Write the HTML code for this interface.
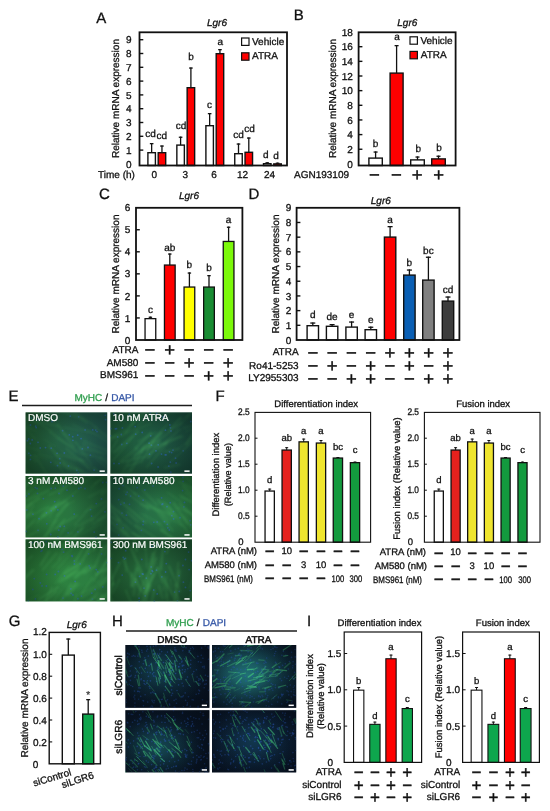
<!DOCTYPE html>
<html lang="en">
<head>
<meta charset="utf-8">
<title>Figure: Lgr6 expression and myogenic differentiation</title>
<style>
html, body { margin: 0; padding: 0; background: #ffffff; }
body { width: 550px; height: 811px; overflow: hidden; }
svg { display: block; font-family: "Liberation Sans", Arial, sans-serif; text-rendering: geometricPrecision; }
</style>
</head>
<body>
<svg width="550" height="811" viewBox="0 0 550 811">
<defs>
<filter id="blur" x="-5%" y="-5%" width="110%" height="110%"><feGaussianBlur stdDeviation="0.9"/></filter>
<filter id="blur3" x="-5%" y="-5%" width="110%" height="110%"><feGaussianBlur stdDeviation="0.65"/></filter>
<filter id="blur2" x="-5%" y="-5%" width="110%" height="110%"><feGaussianBlur stdDeviation="0.45"/></filter>
<linearGradient id="g1" x1="0" y1="0" x2="1" y2="0"><stop offset="0" stop-color="#236238"/><stop offset="1" stop-color="#235a52"/></linearGradient>
<radialGradient id="vg1" cx="0.55" cy="0.5" r="0.8"><stop offset="0.2" stop-color="#000" stop-opacity="0"/><stop offset="1" stop-color="#000c06" stop-opacity="0.5"/></radialGradient>
<clipPath id="cg1"><rect x="25.60" y="412.40" width="81.60" height="61.20"/></clipPath>
<linearGradient id="g2" x1="0" y1="0" x2="1" y2="0"><stop offset="0" stop-color="#205e3c"/><stop offset="1" stop-color="#1e5446"/></linearGradient>
<radialGradient id="vg2" cx="0.45" cy="0.5" r="0.8"><stop offset="0.2" stop-color="#000" stop-opacity="0"/><stop offset="1" stop-color="#000c06" stop-opacity="0.5"/></radialGradient>
<clipPath id="cg2"><rect x="110.40" y="412.40" width="81.60" height="61.20"/></clipPath>
<linearGradient id="g3" x1="0" y1="0" x2="1" y2="0"><stop offset="0" stop-color="#2b7c3c"/><stop offset="1" stop-color="#276e42"/></linearGradient>
<radialGradient id="vg3" cx="0.4" cy="0.6" r="0.8"><stop offset="0.2" stop-color="#000" stop-opacity="0"/><stop offset="1" stop-color="#000c06" stop-opacity="0.5"/></radialGradient>
<clipPath id="cg3"><rect x="25.60" y="476.00" width="81.60" height="61.40"/></clipPath>
<linearGradient id="g4" x1="0" y1="0" x2="1" y2="0"><stop offset="0" stop-color="#25684a"/><stop offset="1" stop-color="#297842"/></linearGradient>
<radialGradient id="vg4" cx="0.6" cy="0.6" r="0.8"><stop offset="0.2" stop-color="#000" stop-opacity="0"/><stop offset="1" stop-color="#000c06" stop-opacity="0.5"/></radialGradient>
<clipPath id="cg4"><rect x="110.40" y="476.00" width="81.60" height="61.40"/></clipPath>
<linearGradient id="g5" x1="0" y1="0" x2="1" y2="0"><stop offset="0" stop-color="#2f863e"/><stop offset="1" stop-color="#2b7c42"/></linearGradient>
<radialGradient id="vg5" cx="0.6" cy="0.6" r="0.8"><stop offset="0.2" stop-color="#000" stop-opacity="0"/><stop offset="1" stop-color="#000c06" stop-opacity="0.5"/></radialGradient>
<clipPath id="cg5"><rect x="25.60" y="539.40" width="81.60" height="62.00"/></clipPath>
<linearGradient id="g6" x1="0" y1="0" x2="1" y2="0"><stop offset="0" stop-color="#236436"/><stop offset="1" stop-color="#23603a"/></linearGradient>
<radialGradient id="vg6" cx="0.5" cy="0.55" r="0.8"><stop offset="0.2" stop-color="#000" stop-opacity="0"/><stop offset="1" stop-color="#000c06" stop-opacity="0.5"/></radialGradient>
<clipPath id="cg6"><rect x="110.40" y="539.40" width="81.60" height="62.00"/></clipPath>
<linearGradient id="g7" x1="0" y1="0" x2="1" y2="0"><stop offset="0" stop-color="#0b1a2e"/><stop offset="1" stop-color="#0a182c"/></linearGradient>
<radialGradient id="vg7" cx="0.45" cy="0.4" r="0.8"><stop offset="0.2" stop-color="#000" stop-opacity="0"/><stop offset="1" stop-color="#02060a" stop-opacity="0.6"/></radialGradient>
<clipPath id="cg7"><rect x="125.40" y="645.00" width="84.00" height="62.80"/></clipPath>
<radialGradient id="hg7" cx="0.42" cy="0.42" r="0.6"><stop offset="0" stop-color="#1c6a6c" stop-opacity="0.45"/><stop offset="1" stop-color="#1c6a6c" stop-opacity="0"/></radialGradient>
<linearGradient id="g8" x1="0" y1="0" x2="1" y2="0"><stop offset="0" stop-color="#0c1c32"/><stop offset="1" stop-color="#0b1a30"/></linearGradient>
<radialGradient id="vg8" cx="0.42" cy="0.45" r="0.8"><stop offset="0.2" stop-color="#000" stop-opacity="0"/><stop offset="1" stop-color="#02060a" stop-opacity="0.6"/></radialGradient>
<clipPath id="cg8"><rect x="212.00" y="645.00" width="84.20" height="62.80"/></clipPath>
<radialGradient id="hg8" cx="0.42" cy="0.48" r="0.7"><stop offset="0" stop-color="#268a88" stop-opacity="0.78"/><stop offset="1" stop-color="#268a88" stop-opacity="0"/></radialGradient>
<linearGradient id="g9" x1="0" y1="0" x2="1" y2="0"><stop offset="0" stop-color="#0b1a2e"/><stop offset="1" stop-color="#0a182c"/></linearGradient>
<radialGradient id="vg9" cx="0.4" cy="0.55" r="0.8"><stop offset="0.2" stop-color="#000" stop-opacity="0"/><stop offset="1" stop-color="#02060a" stop-opacity="0.6"/></radialGradient>
<clipPath id="cg9"><rect x="125.40" y="710.20" width="84.00" height="62.20"/></clipPath>
<radialGradient id="hg9" cx="0.38" cy="0.6" r="0.55"><stop offset="0" stop-color="#1f7472" stop-opacity="0.52"/><stop offset="1" stop-color="#1f7472" stop-opacity="0"/></radialGradient>
<linearGradient id="g10" x1="0" y1="0" x2="1" y2="0"><stop offset="0" stop-color="#0b1a30"/><stop offset="1" stop-color="#0a182e"/></linearGradient>
<radialGradient id="vg10" cx="0.5" cy="0.5" r="0.8"><stop offset="0.2" stop-color="#000" stop-opacity="0"/><stop offset="1" stop-color="#02060a" stop-opacity="0.6"/></radialGradient>
<clipPath id="cg10"><rect x="212.00" y="710.20" width="84.20" height="62.20"/></clipPath>
<radialGradient id="hg10" cx="0.5" cy="0.5" r="0.6"><stop offset="0" stop-color="#1a5a74" stop-opacity="0.45"/><stop offset="1" stop-color="#1a5a74" stop-opacity="0"/></radialGradient>
</defs>
<rect x="0" y="0" width="550" height="811" fill="#ffffff"/>
<text x="96.30" y="22.80" font-size="15" text-anchor="start" fill="#111111" stroke="#111111" stroke-width="0.3">A</text>
<text x="217.00" y="25.60" font-size="10" text-anchor="middle" fill="#111111" font-style="italic" stroke="#111111" stroke-width="0.3">Lgr6</text>
<line x1="151.65" y1="143.00" x2="151.65" y2="153.00" stroke="#111111" stroke-width="1.3"/>
<line x1="149.85" y1="143.65" x2="153.45" y2="143.65" stroke="#111111" stroke-width="1.3"/>
<rect x="147.90" y="152.70" width="7.50" height="12.80" fill="#fff" stroke="#111111" stroke-width="1.4"/>
<line x1="161.95" y1="145.40" x2="161.95" y2="153.00" stroke="#111111" stroke-width="1.3"/>
<line x1="160.15" y1="146.05" x2="163.75" y2="146.05" stroke="#111111" stroke-width="1.3"/>
<rect x="158.20" y="152.70" width="7.50" height="12.80" fill="#fe0000" stroke="#111111" stroke-width="1.4"/>
<line x1="180.60" y1="136.60" x2="180.60" y2="145.40" stroke="#111111" stroke-width="1.3"/>
<line x1="178.80" y1="137.25" x2="182.40" y2="137.25" stroke="#111111" stroke-width="1.3"/>
<rect x="176.85" y="145.10" width="7.50" height="20.40" fill="#fff" stroke="#111111" stroke-width="1.4"/>
<line x1="190.90" y1="67.40" x2="190.90" y2="88.00" stroke="#111111" stroke-width="1.3"/>
<line x1="189.10" y1="68.05" x2="192.70" y2="68.05" stroke="#111111" stroke-width="1.3"/>
<rect x="187.15" y="87.70" width="7.50" height="77.80" fill="#fe0000" stroke="#111111" stroke-width="1.4"/>
<line x1="209.65" y1="113.00" x2="209.65" y2="126.00" stroke="#111111" stroke-width="1.3"/>
<line x1="207.85" y1="113.65" x2="211.45" y2="113.65" stroke="#111111" stroke-width="1.3"/>
<rect x="205.90" y="125.70" width="7.50" height="39.80" fill="#fff" stroke="#111111" stroke-width="1.4"/>
<line x1="219.95" y1="49.00" x2="219.95" y2="54.00" stroke="#111111" stroke-width="1.3"/>
<line x1="218.15" y1="49.65" x2="221.75" y2="49.65" stroke="#111111" stroke-width="1.3"/>
<rect x="216.20" y="53.70" width="7.50" height="111.80" fill="#fe0000" stroke="#111111" stroke-width="1.4"/>
<line x1="238.50" y1="143.40" x2="238.50" y2="154.00" stroke="#111111" stroke-width="1.3"/>
<line x1="236.70" y1="144.05" x2="240.30" y2="144.05" stroke="#111111" stroke-width="1.3"/>
<rect x="234.75" y="153.70" width="7.50" height="11.80" fill="#fff" stroke="#111111" stroke-width="1.4"/>
<line x1="248.80" y1="137.40" x2="248.80" y2="152.60" stroke="#111111" stroke-width="1.3"/>
<line x1="247.00" y1="138.05" x2="250.60" y2="138.05" stroke="#111111" stroke-width="1.3"/>
<rect x="245.05" y="152.30" width="7.50" height="13.20" fill="#fe0000" stroke="#111111" stroke-width="1.4"/>
<line x1="267.25" y1="162.20" x2="267.25" y2="164.00" stroke="#111111" stroke-width="1.3"/>
<line x1="265.45" y1="162.85" x2="269.05" y2="162.85" stroke="#111111" stroke-width="1.3"/>
<rect x="263.50" y="163.70" width="7.50" height="1.80" fill="#fff" stroke="#111111" stroke-width="1.4"/>
<line x1="277.55" y1="162.60" x2="277.55" y2="164.20" stroke="#111111" stroke-width="1.3"/>
<line x1="275.75" y1="163.25" x2="279.35" y2="163.25" stroke="#111111" stroke-width="1.3"/>
<rect x="273.80" y="163.90" width="7.50" height="1.60" fill="#fe0000" stroke="#111111" stroke-width="1.4"/>
<rect x="139.50" y="32.30" width="147.50" height="133.20" fill="none" stroke="#111111" stroke-width="1.8"/>
<line x1="139.50" y1="150.10" x2="143.30" y2="150.10" stroke="#111111" stroke-width="1.4"/>
<text x="131.60" y="153.70" font-size="10" text-anchor="end" fill="#111111" stroke="#111111" stroke-width="0.3">1</text>
<line x1="139.50" y1="136.30" x2="143.30" y2="136.30" stroke="#111111" stroke-width="1.4"/>
<text x="131.60" y="139.90" font-size="10" text-anchor="end" fill="#111111" stroke="#111111" stroke-width="0.3">2</text>
<line x1="139.50" y1="122.50" x2="143.30" y2="122.50" stroke="#111111" stroke-width="1.4"/>
<text x="131.60" y="126.10" font-size="10" text-anchor="end" fill="#111111" stroke="#111111" stroke-width="0.3">3</text>
<line x1="139.50" y1="108.70" x2="143.30" y2="108.70" stroke="#111111" stroke-width="1.4"/>
<text x="131.60" y="112.30" font-size="10" text-anchor="end" fill="#111111" stroke="#111111" stroke-width="0.3">4</text>
<line x1="139.50" y1="94.90" x2="143.30" y2="94.90" stroke="#111111" stroke-width="1.4"/>
<text x="131.60" y="98.50" font-size="10" text-anchor="end" fill="#111111" stroke="#111111" stroke-width="0.3">5</text>
<line x1="139.50" y1="81.10" x2="143.30" y2="81.10" stroke="#111111" stroke-width="1.4"/>
<text x="131.60" y="84.70" font-size="10" text-anchor="end" fill="#111111" stroke="#111111" stroke-width="0.3">6</text>
<line x1="139.50" y1="67.30" x2="143.30" y2="67.30" stroke="#111111" stroke-width="1.4"/>
<text x="131.60" y="70.90" font-size="10" text-anchor="end" fill="#111111" stroke="#111111" stroke-width="0.3">7</text>
<line x1="139.50" y1="53.50" x2="143.30" y2="53.50" stroke="#111111" stroke-width="1.4"/>
<text x="131.60" y="57.10" font-size="10" text-anchor="end" fill="#111111" stroke="#111111" stroke-width="0.3">8</text>
<line x1="139.50" y1="39.70" x2="143.30" y2="39.70" stroke="#111111" stroke-width="1.4"/>
<text x="131.60" y="43.30" font-size="10" text-anchor="end" fill="#111111" stroke="#111111" stroke-width="0.3">9</text>
<text x="131.60" y="168.40" font-size="10" text-anchor="end" fill="#111111" stroke="#111111" stroke-width="0.3">0</text>
<text x="118.60" y="98.50" font-size="10" text-anchor="middle" fill="#111111" stroke="#111111" stroke-width="0.3" transform="rotate(-90 118.60 98.50)">Relative mRNA expression</text>
<text x="154.40" y="177.60" font-size="10" text-anchor="middle" fill="#111111" stroke="#111111" stroke-width="0.3">0</text>
<text x="185.40" y="177.60" font-size="10" text-anchor="middle" fill="#111111" stroke="#111111" stroke-width="0.3">3</text>
<text x="214.00" y="177.60" font-size="10" text-anchor="middle" fill="#111111" stroke="#111111" stroke-width="0.3">6</text>
<text x="242.60" y="177.60" font-size="10" text-anchor="middle" fill="#111111" stroke="#111111" stroke-width="0.3">12</text>
<text x="269.60" y="177.60" font-size="10" text-anchor="middle" fill="#111111" stroke="#111111" stroke-width="0.3">24</text>
<text x="98.00" y="177.60" font-size="10" text-anchor="start" fill="#111111" stroke="#111111" stroke-width="0.3">Time (h)</text>
<text x="150.50" y="137.00" font-size="10" text-anchor="middle" fill="#111111" stroke="#111111" stroke-width="0.3">cd</text>
<text x="161.70" y="139.00" font-size="10" text-anchor="middle" fill="#111111" stroke="#111111" stroke-width="0.3">cd</text>
<text x="181.00" y="129.00" font-size="10" text-anchor="middle" fill="#111111" stroke="#111111" stroke-width="0.3">cd</text>
<text x="191.00" y="60.00" font-size="10" text-anchor="middle" fill="#111111" stroke="#111111" stroke-width="0.3">b</text>
<text x="209.50" y="108.00" font-size="10" text-anchor="middle" fill="#111111" stroke="#111111" stroke-width="0.3">c</text>
<text x="220.40" y="45.20" font-size="10" text-anchor="middle" fill="#111111" stroke="#111111" stroke-width="0.3">a</text>
<text x="238.60" y="137.50" font-size="10" text-anchor="middle" fill="#111111" stroke="#111111" stroke-width="0.3">cd</text>
<text x="249.50" y="131.50" font-size="10" text-anchor="middle" fill="#111111" stroke="#111111" stroke-width="0.3">cd</text>
<text x="265.70" y="158.00" font-size="10" text-anchor="middle" fill="#111111" stroke="#111111" stroke-width="0.3">d</text>
<text x="276.00" y="158.60" font-size="10" text-anchor="middle" fill="#111111" stroke="#111111" stroke-width="0.3">d</text>
<rect x="241.60" y="38.00" width="7.40" height="7.40" fill="#fff" stroke="#111111" stroke-width="1.2"/>
<text x="252.00" y="44.60" font-size="10" text-anchor="start" fill="#111111" stroke="#111111" stroke-width="0.3">Vehicle</text>
<rect x="241.60" y="52.80" width="7.40" height="7.40" fill="#fe0000" stroke="#111111" stroke-width="1.2"/>
<text x="252.00" y="59.40" font-size="10" text-anchor="start" fill="#111111" stroke="#111111" stroke-width="0.3">ATRA</text>
<text x="293.70" y="20.40" font-size="15" text-anchor="start" fill="#111111" stroke="#111111" stroke-width="0.3">B</text>
<text x="407.30" y="25.60" font-size="10" text-anchor="middle" fill="#111111" font-style="italic" stroke="#111111" stroke-width="0.3">Lgr6</text>
<line x1="375.60" y1="151.40" x2="375.60" y2="158.40" stroke="#111111" stroke-width="1.3"/>
<line x1="373.60" y1="152.05" x2="377.60" y2="152.05" stroke="#111111" stroke-width="1.3"/>
<rect x="368.90" y="158.10" width="13.40" height="7.40" fill="#fff" stroke="#111111" stroke-width="1.4"/>
<line x1="396.60" y1="45.00" x2="396.60" y2="73.40" stroke="#111111" stroke-width="1.3"/>
<line x1="394.60" y1="45.65" x2="398.60" y2="45.65" stroke="#111111" stroke-width="1.3"/>
<rect x="390.10" y="73.10" width="13.00" height="92.40" fill="#fe0000" stroke="#111111" stroke-width="1.4"/>
<line x1="417.50" y1="156.40" x2="417.50" y2="160.20" stroke="#111111" stroke-width="1.3"/>
<line x1="415.50" y1="157.05" x2="419.50" y2="157.05" stroke="#111111" stroke-width="1.3"/>
<rect x="410.70" y="159.90" width="13.60" height="5.60" fill="#fff" stroke="#111111" stroke-width="1.4"/>
<line x1="438.50" y1="155.60" x2="438.50" y2="159.20" stroke="#111111" stroke-width="1.3"/>
<line x1="436.50" y1="156.25" x2="440.50" y2="156.25" stroke="#111111" stroke-width="1.3"/>
<rect x="431.70" y="158.90" width="13.60" height="6.60" fill="#fe0000" stroke="#111111" stroke-width="1.4"/>
<rect x="358.60" y="32.30" width="97.00" height="133.20" fill="none" stroke="#111111" stroke-width="1.8"/>
<line x1="358.60" y1="149.25" x2="362.40" y2="149.25" stroke="#111111" stroke-width="1.4"/>
<text x="352.80" y="152.85" font-size="10" text-anchor="end" fill="#111111" stroke="#111111" stroke-width="0.3">2</text>
<line x1="358.60" y1="134.60" x2="362.40" y2="134.60" stroke="#111111" stroke-width="1.4"/>
<text x="352.80" y="138.20" font-size="10" text-anchor="end" fill="#111111" stroke="#111111" stroke-width="0.3">4</text>
<line x1="358.60" y1="119.95" x2="362.40" y2="119.95" stroke="#111111" stroke-width="1.4"/>
<text x="352.80" y="123.55" font-size="10" text-anchor="end" fill="#111111" stroke="#111111" stroke-width="0.3">6</text>
<line x1="358.60" y1="105.30" x2="362.40" y2="105.30" stroke="#111111" stroke-width="1.4"/>
<text x="352.80" y="108.90" font-size="10" text-anchor="end" fill="#111111" stroke="#111111" stroke-width="0.3">8</text>
<line x1="358.60" y1="90.65" x2="362.40" y2="90.65" stroke="#111111" stroke-width="1.4"/>
<text x="352.80" y="94.25" font-size="10" text-anchor="end" fill="#111111" stroke="#111111" stroke-width="0.3">10</text>
<line x1="358.60" y1="76.00" x2="362.40" y2="76.00" stroke="#111111" stroke-width="1.4"/>
<text x="352.80" y="79.60" font-size="10" text-anchor="end" fill="#111111" stroke="#111111" stroke-width="0.3">12</text>
<line x1="358.60" y1="61.35" x2="362.40" y2="61.35" stroke="#111111" stroke-width="1.4"/>
<text x="352.80" y="64.95" font-size="10" text-anchor="end" fill="#111111" stroke="#111111" stroke-width="0.3">14</text>
<line x1="358.60" y1="46.70" x2="362.40" y2="46.70" stroke="#111111" stroke-width="1.4"/>
<text x="352.80" y="50.30" font-size="10" text-anchor="end" fill="#111111" stroke="#111111" stroke-width="0.3">16</text>
<text x="352.80" y="168.40" font-size="10" text-anchor="end" fill="#111111" stroke="#111111" stroke-width="0.3">0</text>
<text x="352.80" y="36.00" font-size="10" text-anchor="end" fill="#111111" stroke="#111111" stroke-width="0.3">18</text>
<text x="336.20" y="98.50" font-size="10" text-anchor="middle" fill="#111111" stroke="#111111" stroke-width="0.3" transform="rotate(-90 336.20 98.50)">Relative mRNA expression</text>
<text x="294.00" y="177.60" font-size="10" text-anchor="start" fill="#111111" stroke="#111111" stroke-width="0.3">AGN193109</text>
<text x="374.40" y="181.20" font-size="18.5" text-anchor="middle" fill="#111111" stroke="#111111" stroke-width="0.4">−</text>
<text x="396.40" y="181.20" font-size="18.5" text-anchor="middle" fill="#111111" stroke="#111111" stroke-width="0.4">−</text>
<text x="417.20" y="181.20" font-size="18.5" text-anchor="middle" fill="#111111" stroke="#111111" stroke-width="0.4">+</text>
<text x="438.60" y="181.20" font-size="18.5" text-anchor="middle" fill="#111111" stroke="#111111" stroke-width="0.4">+</text>
<text x="375.60" y="147.00" font-size="10" text-anchor="middle" fill="#111111" stroke="#111111" stroke-width="0.3">b</text>
<text x="397.00" y="40.00" font-size="10" text-anchor="middle" fill="#111111" stroke="#111111" stroke-width="0.3">a</text>
<text x="418.40" y="152.00" font-size="10" text-anchor="middle" fill="#111111" stroke="#111111" stroke-width="0.3">b</text>
<text x="439.00" y="151.40" font-size="10" text-anchor="middle" fill="#111111" stroke="#111111" stroke-width="0.3">b</text>
<rect x="410.00" y="36.80" width="7.40" height="7.40" fill="#fff" stroke="#111111" stroke-width="1.2"/>
<text x="420.40" y="43.80" font-size="10" text-anchor="start" fill="#111111" stroke="#111111" stroke-width="0.3">Vehicle</text>
<rect x="410.00" y="51.40" width="7.40" height="7.40" fill="#fe0000" stroke="#111111" stroke-width="1.2"/>
<text x="420.80" y="58.20" font-size="10" text-anchor="start" fill="#111111" stroke="#111111" stroke-width="0.3">ATRA</text>
<text x="99.00" y="199.40" font-size="15" text-anchor="start" fill="#111111" stroke="#111111" stroke-width="0.3">C</text>
<text x="189.00" y="199.40" font-size="10" text-anchor="middle" fill="#111111" font-style="italic" stroke="#111111" stroke-width="0.3">Lgr6</text>
<line x1="150.40" y1="316.60" x2="150.40" y2="319.00" stroke="#111111" stroke-width="1.3"/>
<line x1="148.70" y1="317.25" x2="152.10" y2="317.25" stroke="#111111" stroke-width="1.3"/>
<rect x="145.05" y="318.65" width="10.70" height="21.35" fill="#fff" stroke="#111111" stroke-width="1.3"/>
<text x="150.40" y="313.00" font-size="10" text-anchor="middle" fill="#111111" stroke="#111111" stroke-width="0.3">c</text>
<line x1="169.80" y1="253.40" x2="169.80" y2="265.40" stroke="#111111" stroke-width="1.3"/>
<line x1="168.10" y1="254.05" x2="171.50" y2="254.05" stroke="#111111" stroke-width="1.3"/>
<rect x="164.45" y="265.05" width="10.70" height="74.95" fill="#fe0000" stroke="#111111" stroke-width="1.3"/>
<text x="169.80" y="250.60" font-size="10" text-anchor="middle" fill="#111111" stroke="#111111" stroke-width="0.3">ab</text>
<line x1="189.40" y1="272.40" x2="189.40" y2="287.40" stroke="#111111" stroke-width="1.3"/>
<line x1="187.70" y1="273.05" x2="191.10" y2="273.05" stroke="#111111" stroke-width="1.3"/>
<rect x="184.05" y="287.05" width="10.70" height="52.95" fill="#ffff00" stroke="#111111" stroke-width="1.3"/>
<text x="189.40" y="268.00" font-size="10" text-anchor="middle" fill="#111111" stroke="#111111" stroke-width="0.3">b</text>
<line x1="209.00" y1="275.00" x2="209.00" y2="287.40" stroke="#111111" stroke-width="1.3"/>
<line x1="207.30" y1="275.65" x2="210.70" y2="275.65" stroke="#111111" stroke-width="1.3"/>
<rect x="203.65" y="287.05" width="10.70" height="52.95" fill="#198c33" stroke="#111111" stroke-width="1.3"/>
<text x="209.00" y="271.00" font-size="10" text-anchor="middle" fill="#111111" stroke="#111111" stroke-width="0.3">b</text>
<line x1="228.60" y1="226.60" x2="228.60" y2="241.80" stroke="#111111" stroke-width="1.3"/>
<line x1="226.90" y1="227.25" x2="230.30" y2="227.25" stroke="#111111" stroke-width="1.3"/>
<rect x="223.25" y="241.45" width="10.70" height="98.55" fill="#7cf90a" stroke="#111111" stroke-width="1.3"/>
<text x="228.60" y="223.00" font-size="10" text-anchor="middle" fill="#111111" stroke="#111111" stroke-width="0.3">a</text>
<rect x="136.00" y="207.80" width="106.40" height="132.20" fill="none" stroke="#111111" stroke-width="1.8"/>
<line x1="136.00" y1="317.95" x2="139.80" y2="317.95" stroke="#111111" stroke-width="1.4"/>
<text x="130.40" y="321.55" font-size="10" text-anchor="end" fill="#111111" stroke="#111111" stroke-width="0.3">1</text>
<line x1="136.00" y1="295.90" x2="139.80" y2="295.90" stroke="#111111" stroke-width="1.4"/>
<text x="130.40" y="299.50" font-size="10" text-anchor="end" fill="#111111" stroke="#111111" stroke-width="0.3">2</text>
<line x1="136.00" y1="273.85" x2="139.80" y2="273.85" stroke="#111111" stroke-width="1.4"/>
<text x="130.40" y="277.45" font-size="10" text-anchor="end" fill="#111111" stroke="#111111" stroke-width="0.3">3</text>
<line x1="136.00" y1="251.80" x2="139.80" y2="251.80" stroke="#111111" stroke-width="1.4"/>
<text x="130.40" y="255.40" font-size="10" text-anchor="end" fill="#111111" stroke="#111111" stroke-width="0.3">4</text>
<line x1="136.00" y1="229.75" x2="139.80" y2="229.75" stroke="#111111" stroke-width="1.4"/>
<text x="130.40" y="233.35" font-size="10" text-anchor="end" fill="#111111" stroke="#111111" stroke-width="0.3">5</text>
<text x="130.40" y="343.60" font-size="10" text-anchor="end" fill="#111111" stroke="#111111" stroke-width="0.3">0</text>
<text x="130.40" y="211.40" font-size="10" text-anchor="end" fill="#111111" stroke="#111111" stroke-width="0.3">6</text>
<text x="118.60" y="274.00" font-size="10" text-anchor="middle" fill="#111111" stroke="#111111" stroke-width="0.3" transform="rotate(-90 118.60 274.00)">Relative mRNA expression</text>
<text x="138.40" y="353.00" font-size="10" text-anchor="end" fill="#111111" stroke="#111111" stroke-width="0.3">ATRA</text>
<text x="150.00" y="356.20" font-size="18.5" text-anchor="middle" fill="#111111" stroke="#111111" stroke-width="0.4">−</text>
<text x="169.55" y="356.20" font-size="18.5" text-anchor="middle" fill="#111111" stroke="#111111" stroke-width="0.4">+</text>
<text x="189.10" y="356.20" font-size="18.5" text-anchor="middle" fill="#111111" stroke="#111111" stroke-width="0.4">−</text>
<text x="208.65" y="356.20" font-size="18.5" text-anchor="middle" fill="#111111" stroke="#111111" stroke-width="0.4">−</text>
<text x="228.20" y="356.20" font-size="18.5" text-anchor="middle" fill="#111111" stroke="#111111" stroke-width="0.4">−</text>
<text x="138.40" y="365.70" font-size="10" text-anchor="end" fill="#111111" stroke="#111111" stroke-width="0.3">AM580</text>
<text x="150.00" y="368.90" font-size="18.5" text-anchor="middle" fill="#111111" stroke="#111111" stroke-width="0.4">−</text>
<text x="169.55" y="368.90" font-size="18.5" text-anchor="middle" fill="#111111" stroke="#111111" stroke-width="0.4">−</text>
<text x="189.10" y="368.90" font-size="18.5" text-anchor="middle" fill="#111111" stroke="#111111" stroke-width="0.4">+</text>
<text x="208.65" y="368.90" font-size="18.5" text-anchor="middle" fill="#111111" stroke="#111111" stroke-width="0.4">−</text>
<text x="228.20" y="368.90" font-size="18.5" text-anchor="middle" fill="#111111" stroke="#111111" stroke-width="0.4">+</text>
<text x="138.40" y="378.40" font-size="10" text-anchor="end" fill="#111111" stroke="#111111" stroke-width="0.3">BMS961</text>
<text x="150.00" y="381.60" font-size="18.5" text-anchor="middle" fill="#111111" stroke="#111111" stroke-width="0.4">−</text>
<text x="169.55" y="381.60" font-size="18.5" text-anchor="middle" fill="#111111" stroke="#111111" stroke-width="0.4">−</text>
<text x="189.10" y="381.60" font-size="18.5" text-anchor="middle" fill="#111111" stroke="#111111" stroke-width="0.4">−</text>
<text x="208.65" y="381.60" font-size="18.5" text-anchor="middle" fill="#111111" stroke="#111111" stroke-width="0.4">+</text>
<text x="228.20" y="381.60" font-size="18.5" text-anchor="middle" fill="#111111" stroke="#111111" stroke-width="0.4">+</text>
<text x="248.40" y="199.40" font-size="15" text-anchor="start" fill="#111111" stroke="#111111" stroke-width="0.3">D</text>
<text x="380.80" y="204.00" font-size="10" text-anchor="middle" fill="#111111" font-style="italic" stroke="#111111" stroke-width="0.3">Lgr6</text>
<line x1="312.80" y1="322.40" x2="312.80" y2="326.00" stroke="#111111" stroke-width="1.3"/>
<line x1="310.30" y1="323.05" x2="315.30" y2="323.05" stroke="#111111" stroke-width="1.3"/>
<rect x="307.10" y="325.70" width="11.40" height="14.30" fill="#fff" stroke="#111111" stroke-width="1.4"/>
<text x="312.80" y="318.00" font-size="10" text-anchor="middle" fill="#111111" stroke="#111111" stroke-width="0.3">d</text>
<line x1="332.10" y1="324.00" x2="332.10" y2="326.60" stroke="#111111" stroke-width="1.3"/>
<line x1="329.60" y1="324.65" x2="334.60" y2="324.65" stroke="#111111" stroke-width="1.3"/>
<rect x="326.40" y="326.30" width="11.40" height="13.70" fill="#fff" stroke="#111111" stroke-width="1.4"/>
<text x="332.10" y="319.60" font-size="10" text-anchor="middle" fill="#111111" stroke="#111111" stroke-width="0.3">de</text>
<line x1="351.60" y1="321.40" x2="351.60" y2="327.40" stroke="#111111" stroke-width="1.3"/>
<line x1="349.10" y1="322.05" x2="354.10" y2="322.05" stroke="#111111" stroke-width="1.3"/>
<rect x="345.90" y="327.10" width="11.40" height="12.90" fill="#fff" stroke="#111111" stroke-width="1.4"/>
<text x="351.60" y="317.60" font-size="10" text-anchor="middle" fill="#111111" stroke="#111111" stroke-width="0.3">e</text>
<line x1="370.80" y1="326.60" x2="370.80" y2="330.00" stroke="#111111" stroke-width="1.3"/>
<line x1="368.30" y1="327.25" x2="373.30" y2="327.25" stroke="#111111" stroke-width="1.3"/>
<rect x="365.10" y="329.70" width="11.40" height="10.30" fill="#fff" stroke="#111111" stroke-width="1.4"/>
<text x="370.80" y="323.00" font-size="10" text-anchor="middle" fill="#111111" stroke="#111111" stroke-width="0.3">e</text>
<line x1="390.10" y1="226.00" x2="390.10" y2="237.40" stroke="#111111" stroke-width="1.3"/>
<line x1="387.60" y1="226.65" x2="392.60" y2="226.65" stroke="#111111" stroke-width="1.3"/>
<rect x="384.40" y="237.10" width="11.40" height="102.90" fill="#fe0000" stroke="#111111" stroke-width="1.4"/>
<text x="390.10" y="223.00" font-size="10" text-anchor="middle" fill="#111111" stroke="#111111" stroke-width="0.3">a</text>
<line x1="409.40" y1="269.40" x2="409.40" y2="275.40" stroke="#111111" stroke-width="1.3"/>
<line x1="406.90" y1="270.05" x2="411.90" y2="270.05" stroke="#111111" stroke-width="1.3"/>
<rect x="403.70" y="275.10" width="11.40" height="64.90" fill="#0a5fb4" stroke="#111111" stroke-width="1.4"/>
<text x="409.40" y="265.60" font-size="10" text-anchor="middle" fill="#111111" stroke="#111111" stroke-width="0.3">b</text>
<line x1="428.40" y1="256.60" x2="428.40" y2="280.40" stroke="#111111" stroke-width="1.3"/>
<line x1="425.90" y1="257.25" x2="430.90" y2="257.25" stroke="#111111" stroke-width="1.3"/>
<rect x="422.70" y="280.10" width="11.40" height="59.90" fill="#808080" stroke="#111111" stroke-width="1.4"/>
<text x="428.40" y="253.60" font-size="10" text-anchor="middle" fill="#111111" stroke="#111111" stroke-width="0.3">bc</text>
<line x1="448.00" y1="296.40" x2="448.00" y2="301.40" stroke="#111111" stroke-width="1.3"/>
<line x1="445.50" y1="297.05" x2="450.50" y2="297.05" stroke="#111111" stroke-width="1.3"/>
<rect x="442.30" y="301.10" width="11.40" height="38.90" fill="#3c3c3c" stroke="#111111" stroke-width="1.4"/>
<text x="448.00" y="293.00" font-size="10" text-anchor="middle" fill="#111111" stroke="#111111" stroke-width="0.3">cd</text>
<rect x="296.60" y="207.80" width="162.80" height="132.20" fill="none" stroke="#111111" stroke-width="1.8"/>
<line x1="296.60" y1="325.31" x2="300.40" y2="325.31" stroke="#111111" stroke-width="1.4"/>
<text x="291.40" y="328.91" font-size="10" text-anchor="end" fill="#111111" stroke="#111111" stroke-width="0.3">1</text>
<line x1="296.60" y1="310.62" x2="300.40" y2="310.62" stroke="#111111" stroke-width="1.4"/>
<text x="291.40" y="314.22" font-size="10" text-anchor="end" fill="#111111" stroke="#111111" stroke-width="0.3">2</text>
<line x1="296.60" y1="295.93" x2="300.40" y2="295.93" stroke="#111111" stroke-width="1.4"/>
<text x="291.40" y="299.53" font-size="10" text-anchor="end" fill="#111111" stroke="#111111" stroke-width="0.3">3</text>
<line x1="296.60" y1="281.24" x2="300.40" y2="281.24" stroke="#111111" stroke-width="1.4"/>
<text x="291.40" y="284.84" font-size="10" text-anchor="end" fill="#111111" stroke="#111111" stroke-width="0.3">4</text>
<line x1="296.60" y1="266.55" x2="300.40" y2="266.55" stroke="#111111" stroke-width="1.4"/>
<text x="291.40" y="270.15" font-size="10" text-anchor="end" fill="#111111" stroke="#111111" stroke-width="0.3">5</text>
<line x1="296.60" y1="251.86" x2="300.40" y2="251.86" stroke="#111111" stroke-width="1.4"/>
<text x="291.40" y="255.46" font-size="10" text-anchor="end" fill="#111111" stroke="#111111" stroke-width="0.3">6</text>
<line x1="296.60" y1="237.17" x2="300.40" y2="237.17" stroke="#111111" stroke-width="1.4"/>
<text x="291.40" y="240.77" font-size="10" text-anchor="end" fill="#111111" stroke="#111111" stroke-width="0.3">7</text>
<line x1="296.60" y1="222.48" x2="300.40" y2="222.48" stroke="#111111" stroke-width="1.4"/>
<text x="291.40" y="226.08" font-size="10" text-anchor="end" fill="#111111" stroke="#111111" stroke-width="0.3">8</text>
<text x="291.40" y="343.60" font-size="10" text-anchor="end" fill="#111111" stroke="#111111" stroke-width="0.3">0</text>
<text x="291.40" y="211.40" font-size="10" text-anchor="end" fill="#111111" stroke="#111111" stroke-width="0.3">9</text>
<text x="279.20" y="274.00" font-size="10" text-anchor="middle" fill="#111111" stroke="#111111" stroke-width="0.3" transform="rotate(-90 279.20 274.00)">Relative mRNA expression</text>
<text x="298.60" y="355.40" font-size="10" text-anchor="end" fill="#111111" stroke="#111111" stroke-width="0.3">ATRA</text>
<text x="312.80" y="359.20" font-size="18.5" text-anchor="middle" fill="#111111" stroke="#111111" stroke-width="0.4">−</text>
<text x="332.10" y="359.20" font-size="18.5" text-anchor="middle" fill="#111111" stroke="#111111" stroke-width="0.4">−</text>
<text x="351.40" y="359.20" font-size="18.5" text-anchor="middle" fill="#111111" stroke="#111111" stroke-width="0.4">−</text>
<text x="370.70" y="359.20" font-size="18.5" text-anchor="middle" fill="#111111" stroke="#111111" stroke-width="0.4">−</text>
<text x="390.00" y="359.20" font-size="18.5" text-anchor="middle" fill="#111111" stroke="#111111" stroke-width="0.4">+</text>
<text x="409.30" y="359.20" font-size="18.5" text-anchor="middle" fill="#111111" stroke="#111111" stroke-width="0.4">+</text>
<text x="428.60" y="359.20" font-size="18.5" text-anchor="middle" fill="#111111" stroke="#111111" stroke-width="0.4">+</text>
<text x="447.90" y="359.20" font-size="18.5" text-anchor="middle" fill="#111111" stroke="#111111" stroke-width="0.4">+</text>
<text x="298.60" y="368.50" font-size="10" text-anchor="end" fill="#111111" stroke="#111111" stroke-width="0.3">Ro41-5253</text>
<text x="312.80" y="372.20" font-size="18.5" text-anchor="middle" fill="#111111" stroke="#111111" stroke-width="0.4">−</text>
<text x="332.10" y="372.20" font-size="18.5" text-anchor="middle" fill="#111111" stroke="#111111" stroke-width="0.4">+</text>
<text x="351.40" y="372.20" font-size="18.5" text-anchor="middle" fill="#111111" stroke="#111111" stroke-width="0.4">−</text>
<text x="370.70" y="372.20" font-size="18.5" text-anchor="middle" fill="#111111" stroke="#111111" stroke-width="0.4">+</text>
<text x="390.00" y="372.20" font-size="18.5" text-anchor="middle" fill="#111111" stroke="#111111" stroke-width="0.4">−</text>
<text x="409.30" y="372.20" font-size="18.5" text-anchor="middle" fill="#111111" stroke="#111111" stroke-width="0.4">+</text>
<text x="428.60" y="372.20" font-size="18.5" text-anchor="middle" fill="#111111" stroke="#111111" stroke-width="0.4">−</text>
<text x="447.90" y="372.20" font-size="18.5" text-anchor="middle" fill="#111111" stroke="#111111" stroke-width="0.4">+</text>
<text x="298.60" y="381.40" font-size="10" text-anchor="end" fill="#111111" stroke="#111111" stroke-width="0.3">LY2955303</text>
<text x="312.80" y="385.00" font-size="18.5" text-anchor="middle" fill="#111111" stroke="#111111" stroke-width="0.4">−</text>
<text x="332.10" y="385.00" font-size="18.5" text-anchor="middle" fill="#111111" stroke="#111111" stroke-width="0.4">−</text>
<text x="351.40" y="385.00" font-size="18.5" text-anchor="middle" fill="#111111" stroke="#111111" stroke-width="0.4">+</text>
<text x="370.70" y="385.00" font-size="18.5" text-anchor="middle" fill="#111111" stroke="#111111" stroke-width="0.4">+</text>
<text x="390.00" y="385.00" font-size="18.5" text-anchor="middle" fill="#111111" stroke="#111111" stroke-width="0.4">−</text>
<text x="409.30" y="385.00" font-size="18.5" text-anchor="middle" fill="#111111" stroke="#111111" stroke-width="0.4">−</text>
<text x="428.60" y="385.00" font-size="18.5" text-anchor="middle" fill="#111111" stroke="#111111" stroke-width="0.4">+</text>
<text x="447.90" y="385.00" font-size="18.5" text-anchor="middle" fill="#111111" stroke="#111111" stroke-width="0.4">+</text>
<text x="8.40" y="401.40" font-size="15" text-anchor="start" fill="#111111" stroke="#111111" stroke-width="0.3">E</text>
<text x="102.20" y="401.00" font-size="10" text-anchor="end" fill="#2f9e4e" stroke="#2f9e4e" stroke-width="0.3">MyHC</text>
<text x="106.60" y="401.00" font-size="10" text-anchor="middle" fill="#111111" stroke="#111111" stroke-width="0.3">/</text>
<text x="111.20" y="401.00" font-size="10" text-anchor="start" fill="#3557a6" stroke="#3557a6" stroke-width="0.3">DAPI</text>
<line x1="22.00" y1="405.50" x2="192.00" y2="405.50" stroke="#1c1c1c" stroke-width="1.5"/>
<rect x="25.60" y="412.40" width="81.60" height="61.20" fill="url(#g1)"/>
<g clip-path="url(#cg1)" filter="url(#blur2)">
<circle cx="52.0" cy="421.6" r="0.9" fill="#2f68c8" fill-opacity="0.55"/>
<circle cx="78.7" cy="416.8" r="0.9" fill="#2f68c8" fill-opacity="0.55"/>
<circle cx="69.3" cy="434.8" r="0.9" fill="#2f68c8" fill-opacity="0.55"/>
<circle cx="30.3" cy="443.5" r="0.9" fill="#2f68c8" fill-opacity="0.55"/>
<circle cx="28.7" cy="438.9" r="0.9" fill="#2f68c8" fill-opacity="0.55"/>
<circle cx="31.3" cy="418.0" r="0.9" fill="#2f68c8" fill-opacity="0.55"/>
<circle cx="60.2" cy="463.0" r="0.9" fill="#2f68c8" fill-opacity="0.55"/>
<circle cx="35.7" cy="426.1" r="0.9" fill="#2f68c8" fill-opacity="0.55"/>
<circle cx="76.8" cy="470.4" r="0.9" fill="#2f68c8" fill-opacity="0.55"/>
<circle cx="72.7" cy="436.7" r="0.9" fill="#2f68c8" fill-opacity="0.55"/>
<circle cx="105.3" cy="415.3" r="0.9" fill="#2f68c8" fill-opacity="0.55"/>
<circle cx="95.7" cy="430.1" r="0.9" fill="#2f68c8" fill-opacity="0.55"/>
<circle cx="37.4" cy="419.6" r="0.9" fill="#2f68c8" fill-opacity="0.55"/>
<circle cx="50.8" cy="462.3" r="0.9" fill="#2f68c8" fill-opacity="0.55"/>
<circle cx="40.3" cy="448.0" r="0.9" fill="#2f68c8" fill-opacity="0.55"/>
<circle cx="77.7" cy="435.2" r="0.9" fill="#2f68c8" fill-opacity="0.55"/>
<circle cx="70.3" cy="416.2" r="0.9" fill="#2f68c8" fill-opacity="0.55"/>
<circle cx="30.5" cy="425.0" r="0.9" fill="#2f68c8" fill-opacity="0.55"/>
<circle cx="81.1" cy="438.6" r="0.9" fill="#2f68c8" fill-opacity="0.55"/>
<circle cx="51.2" cy="448.2" r="0.9" fill="#2f68c8" fill-opacity="0.55"/>
<circle cx="62.6" cy="430.7" r="0.9" fill="#2f68c8" fill-opacity="0.55"/>
<circle cx="90.4" cy="455.2" r="0.9" fill="#2f68c8" fill-opacity="0.55"/>
<circle cx="45.5" cy="447.6" r="0.9" fill="#2f68c8" fill-opacity="0.55"/>
<circle cx="68.5" cy="466.0" r="0.9" fill="#2f68c8" fill-opacity="0.55"/>
<circle cx="85.1" cy="430.0" r="0.9" fill="#2f68c8" fill-opacity="0.55"/>
<circle cx="105.6" cy="419.6" r="0.9" fill="#2f68c8" fill-opacity="0.55"/>
<circle cx="59.7" cy="458.7" r="0.9" fill="#2f68c8" fill-opacity="0.55"/>
<circle cx="38.0" cy="442.3" r="0.9" fill="#2f68c8" fill-opacity="0.55"/>
<circle cx="28.8" cy="453.3" r="0.9" fill="#2f68c8" fill-opacity="0.55"/>
<circle cx="88.0" cy="447.5" r="0.9" fill="#2f68c8" fill-opacity="0.55"/>
<circle cx="97.0" cy="431.6" r="0.9" fill="#2f68c8" fill-opacity="0.55"/>
<circle cx="82.3" cy="448.8" r="0.9" fill="#2f68c8" fill-opacity="0.55"/>
<circle cx="72.9" cy="440.3" r="0.9" fill="#2f68c8" fill-opacity="0.55"/>
<circle cx="94.1" cy="470.2" r="0.9" fill="#2f68c8" fill-opacity="0.55"/>
<circle cx="64.3" cy="453.0" r="0.9" fill="#2f68c8" fill-opacity="0.55"/>
<circle cx="30.6" cy="455.3" r="0.9" fill="#2f68c8" fill-opacity="0.55"/>
<circle cx="78.4" cy="473.2" r="0.9" fill="#2f68c8" fill-opacity="0.55"/>
<circle cx="92.7" cy="429.8" r="0.9" fill="#2f68c8" fill-opacity="0.55"/>
<circle cx="57.1" cy="453.3" r="0.9" fill="#2f68c8" fill-opacity="0.55"/>
<circle cx="27.4" cy="440.7" r="0.9" fill="#2f68c8" fill-opacity="0.55"/>
<circle cx="39.3" cy="419.6" r="0.9" fill="#2f68c8" fill-opacity="0.55"/>
<circle cx="30.4" cy="459.4" r="0.9" fill="#2f68c8" fill-opacity="0.55"/>
<circle cx="36.2" cy="427.6" r="0.9" fill="#2f68c8" fill-opacity="0.55"/>
<circle cx="57.5" cy="465.7" r="0.9" fill="#2f68c8" fill-opacity="0.55"/>
<circle cx="32.2" cy="439.9" r="0.9" fill="#2f68c8" fill-opacity="0.55"/>
</g>
<g clip-path="url(#cg1)" filter="url(#blur)">
<line x1="34.8" y1="438.9" x2="16.4" y2="416.1" stroke="#66dc74" stroke-width="1.9" stroke-opacity="0.07" stroke-linecap="round"/>
<line x1="31.7" y1="480.0" x2="23.7" y2="467.2" stroke="#66dc74" stroke-width="1.7" stroke-opacity="0.06" stroke-linecap="round"/>
<line x1="81.1" y1="476.5" x2="67.7" y2="465.6" stroke="#66dc74" stroke-width="1.4" stroke-opacity="0.07" stroke-linecap="round"/>
<line x1="48.6" y1="477.1" x2="34.8" y2="455.3" stroke="#66dc74" stroke-width="2.3" stroke-opacity="0.08" stroke-linecap="round"/>
<line x1="73.5" y1="447.0" x2="57.7" y2="424.4" stroke="#66dc74" stroke-width="3.0" stroke-opacity="0.09" stroke-linecap="round"/>
<line x1="56.7" y1="461.7" x2="32.9" y2="455.2" stroke="#66dc74" stroke-width="1.5" stroke-opacity="0.05" stroke-linecap="round"/>
<line x1="81.3" y1="460.0" x2="69.6" y2="454.1" stroke="#66dc74" stroke-width="1.4" stroke-opacity="0.06" stroke-linecap="round"/>
<line x1="109.9" y1="459.7" x2="81.0" y2="454.0" stroke="#66dc74" stroke-width="2.5" stroke-opacity="0.06" stroke-linecap="round"/>
<line x1="76.4" y1="469.0" x2="63.7" y2="462.2" stroke="#66dc74" stroke-width="2.9" stroke-opacity="0.10" stroke-linecap="round"/>
<line x1="40.6" y1="450.7" x2="27.0" y2="447.2" stroke="#66dc74" stroke-width="2.0" stroke-opacity="0.06" stroke-linecap="round"/>
<line x1="94.9" y1="433.2" x2="64.5" y2="427.2" stroke="#66dc74" stroke-width="2.4" stroke-opacity="0.06" stroke-linecap="round"/>
<line x1="75.8" y1="450.8" x2="50.4" y2="432.1" stroke="#66dc74" stroke-width="3.0" stroke-opacity="0.08" stroke-linecap="round"/>
<line x1="81.3" y1="470.7" x2="55.3" y2="462.0" stroke="#66dc74" stroke-width="2.4" stroke-opacity="0.09" stroke-linecap="round"/>
<line x1="69.4" y1="470.5" x2="49.3" y2="446.0" stroke="#66dc74" stroke-width="2.9" stroke-opacity="0.09" stroke-linecap="round"/>
<line x1="103.2" y1="416.5" x2="82.4" y2="408.3" stroke="#66dc74" stroke-width="2.0" stroke-opacity="0.05" stroke-linecap="round"/>
<line x1="108.4" y1="451.5" x2="84.6" y2="441.4" stroke="#66dc74" stroke-width="3.1" stroke-opacity="0.07" stroke-linecap="round"/>
<line x1="112.3" y1="423.1" x2="102.1" y2="406.8" stroke="#66dc74" stroke-width="1.8" stroke-opacity="0.06" stroke-linecap="round"/>
<line x1="89.0" y1="468.5" x2="66.4" y2="448.8" stroke="#66dc74" stroke-width="2.9" stroke-opacity="0.07" stroke-linecap="round"/>
<line x1="49.2" y1="415.5" x2="24.8" y2="409.3" stroke="#66dc74" stroke-width="3.0" stroke-opacity="0.09" stroke-linecap="round"/>
<line x1="83.7" y1="419.6" x2="57.4" y2="410.6" stroke="#66dc74" stroke-width="2.0" stroke-opacity="0.09" stroke-linecap="round"/>
<line x1="116.1" y1="446.4" x2="89.3" y2="430.9" stroke="#66dc74" stroke-width="2.7" stroke-opacity="0.06" stroke-linecap="round"/>
<line x1="91.5" y1="464.6" x2="75.5" y2="441.5" stroke="#66dc74" stroke-width="1.7" stroke-opacity="0.09" stroke-linecap="round"/>
<line x1="117.4" y1="443.9" x2="97.0" y2="433.3" stroke="#66dc74" stroke-width="1.6" stroke-opacity="0.05" stroke-linecap="round"/>
<line x1="119.6" y1="445.6" x2="94.8" y2="427.5" stroke="#66dc74" stroke-width="2.2" stroke-opacity="0.09" stroke-linecap="round"/>
<line x1="89.1" y1="431.5" x2="72.6" y2="424.6" stroke="#66dc74" stroke-width="1.8" stroke-opacity="0.08" stroke-linecap="round"/>
<line x1="83.0" y1="472.8" x2="54.0" y2="464.2" stroke="#66dc74" stroke-width="2.0" stroke-opacity="0.07" stroke-linecap="round"/>
<line x1="38.6" y1="424.3" x2="12.6" y2="408.7" stroke="#66dc74" stroke-width="2.3" stroke-opacity="0.08" stroke-linecap="round"/>
<line x1="70.8" y1="446.5" x2="57.6" y2="438.1" stroke="#66dc74" stroke-width="1.4" stroke-opacity="0.09" stroke-linecap="round"/>
<line x1="95.8" y1="475.8" x2="79.8" y2="459.1" stroke="#66dc74" stroke-width="2.0" stroke-opacity="0.08" stroke-linecap="round"/>
<line x1="36.8" y1="431.4" x2="14.4" y2="425.3" stroke="#66dc74" stroke-width="1.8" stroke-opacity="0.06" stroke-linecap="round"/>
<line x1="86.6" y1="422.5" x2="65.2" y2="405.8" stroke="#66dc74" stroke-width="3.0" stroke-opacity="0.07" stroke-linecap="round"/>
<line x1="51.5" y1="431.7" x2="30.5" y2="416.6" stroke="#66dc74" stroke-width="2.2" stroke-opacity="0.08" stroke-linecap="round"/>
<line x1="36.0" y1="461.5" x2="15.2" y2="440.6" stroke="#66dc74" stroke-width="3.1" stroke-opacity="0.06" stroke-linecap="round"/>
<line x1="30.1" y1="427.4" x2="21.1" y2="415.8" stroke="#66dc74" stroke-width="1.6" stroke-opacity="0.07" stroke-linecap="round"/>
<line x1="104.6" y1="454.0" x2="79.9" y2="448.0" stroke="#66dc74" stroke-width="2.8" stroke-opacity="0.09" stroke-linecap="round"/>
<line x1="105.2" y1="478.7" x2="94.3" y2="468.5" stroke="#66dc74" stroke-width="3.0" stroke-opacity="0.10" stroke-linecap="round"/>
<line x1="95.2" y1="479.0" x2="76.4" y2="468.2" stroke="#66dc74" stroke-width="3.2" stroke-opacity="0.09" stroke-linecap="round"/>
<line x1="96.4" y1="470.6" x2="81.2" y2="459.6" stroke="#66dc74" stroke-width="1.8" stroke-opacity="0.07" stroke-linecap="round"/>
<line x1="77.6" y1="444.6" x2="61.1" y2="431.9" stroke="#66dc74" stroke-width="1.4" stroke-opacity="0.07" stroke-linecap="round"/>
<line x1="58.1" y1="426.0" x2="27.2" y2="418.8" stroke="#66dc74" stroke-width="2.8" stroke-opacity="0.10" stroke-linecap="round"/>
<line x1="104.3" y1="457.6" x2="77.3" y2="451.9" stroke="#66dc74" stroke-width="1.9" stroke-opacity="0.06" stroke-linecap="round"/>
<line x1="31.0" y1="475.0" x2="20.2" y2="461.6" stroke="#66dc74" stroke-width="1.7" stroke-opacity="0.10" stroke-linecap="round"/>
<line x1="32.0" y1="428.3" x2="19.2" y2="425.0" stroke="#66dc74" stroke-width="2.6" stroke-opacity="0.07" stroke-linecap="round"/>
<line x1="117.7" y1="477.7" x2="96.7" y2="459.1" stroke="#66dc74" stroke-width="1.6" stroke-opacity="0.09" stroke-linecap="round"/>
<line x1="115.1" y1="467.9" x2="99.3" y2="457.8" stroke="#66dc74" stroke-width="2.4" stroke-opacity="0.10" stroke-linecap="round"/>
<line x1="75.3" y1="460.8" x2="61.8" y2="450.8" stroke="#66dc74" stroke-width="1.6" stroke-opacity="0.06" stroke-linecap="round"/>
<line x1="99.5" y1="452.0" x2="83.1" y2="444.2" stroke="#66dc74" stroke-width="2.8" stroke-opacity="0.06" stroke-linecap="round"/>
<line x1="55.5" y1="445.8" x2="44.6" y2="440.2" stroke="#66dc74" stroke-width="1.9" stroke-opacity="0.05" stroke-linecap="round"/>
<line x1="76.2" y1="416.0" x2="56.0" y2="408.8" stroke="#66dc74" stroke-width="3.1" stroke-opacity="0.06" stroke-linecap="round"/>
<line x1="96.8" y1="427.5" x2="73.3" y2="411.2" stroke="#66dc74" stroke-width="2.1" stroke-opacity="0.08" stroke-linecap="round"/>
<line x1="47.8" y1="418.9" x2="22.3" y2="405.9" stroke="#66dc74" stroke-width="2.7" stroke-opacity="0.08" stroke-linecap="round"/>
<line x1="52.7" y1="457.4" x2="38.4" y2="454.1" stroke="#66dc74" stroke-width="1.5" stroke-opacity="0.09" stroke-linecap="round"/>
<line x1="83.8" y1="461.1" x2="55.8" y2="454.1" stroke="#66dc74" stroke-width="3.0" stroke-opacity="0.08" stroke-linecap="round"/>
<line x1="75.3" y1="465.3" x2="56.0" y2="456.4" stroke="#66dc74" stroke-width="1.7" stroke-opacity="0.07" stroke-linecap="round"/>
<line x1="69.5" y1="483.4" x2="57.6" y2="463.8" stroke="#66dc74" stroke-width="1.8" stroke-opacity="0.10" stroke-linecap="round"/>
</g>
<rect x="25.60" y="412.40" width="81.60" height="61.20" fill="url(#vg1)"/>
<text x="28.00" y="420.80" font-size="10" text-anchor="start" fill="#fff" stroke="#fff" stroke-width="0.2">DMSO</text>
<rect x="99.60" y="470.40" width="5.20" height="1.50" fill="#fff" stroke="none" stroke-width="0"/>
<rect x="110.40" y="412.40" width="81.60" height="61.20" fill="url(#g2)"/>
<g clip-path="url(#cg2)" filter="url(#blur2)">
<circle cx="135.7" cy="434.2" r="0.9" fill="#2f68c8" fill-opacity="0.55"/>
<circle cx="110.5" cy="435.8" r="0.9" fill="#2f68c8" fill-opacity="0.55"/>
<circle cx="149.1" cy="443.2" r="0.9" fill="#2f68c8" fill-opacity="0.55"/>
<circle cx="126.8" cy="443.3" r="0.9" fill="#2f68c8" fill-opacity="0.55"/>
<circle cx="110.8" cy="428.6" r="0.9" fill="#2f68c8" fill-opacity="0.55"/>
<circle cx="117.7" cy="436.9" r="0.9" fill="#2f68c8" fill-opacity="0.55"/>
<circle cx="113.8" cy="413.8" r="0.9" fill="#2f68c8" fill-opacity="0.55"/>
<circle cx="135.2" cy="426.6" r="0.9" fill="#2f68c8" fill-opacity="0.55"/>
<circle cx="158.2" cy="444.8" r="0.9" fill="#2f68c8" fill-opacity="0.55"/>
<circle cx="171.6" cy="452.6" r="0.9" fill="#2f68c8" fill-opacity="0.55"/>
<circle cx="168.8" cy="466.2" r="0.9" fill="#2f68c8" fill-opacity="0.55"/>
<circle cx="142.2" cy="432.4" r="0.9" fill="#2f68c8" fill-opacity="0.55"/>
<circle cx="190.8" cy="421.5" r="0.9" fill="#2f68c8" fill-opacity="0.55"/>
<circle cx="169.5" cy="451.8" r="0.9" fill="#2f68c8" fill-opacity="0.55"/>
<circle cx="114.0" cy="463.5" r="0.9" fill="#2f68c8" fill-opacity="0.55"/>
<circle cx="183.2" cy="450.8" r="0.9" fill="#2f68c8" fill-opacity="0.55"/>
<circle cx="170.3" cy="462.1" r="0.9" fill="#2f68c8" fill-opacity="0.55"/>
<circle cx="121.8" cy="444.5" r="0.9" fill="#2f68c8" fill-opacity="0.55"/>
<circle cx="151.6" cy="463.5" r="0.9" fill="#2f68c8" fill-opacity="0.55"/>
<circle cx="176.1" cy="463.0" r="0.9" fill="#2f68c8" fill-opacity="0.55"/>
<circle cx="158.1" cy="467.0" r="0.9" fill="#2f68c8" fill-opacity="0.55"/>
<circle cx="166.1" cy="454.8" r="0.9" fill="#2f68c8" fill-opacity="0.55"/>
<circle cx="129.2" cy="414.3" r="0.9" fill="#2f68c8" fill-opacity="0.55"/>
<circle cx="121.3" cy="434.5" r="0.9" fill="#2f68c8" fill-opacity="0.55"/>
<circle cx="119.0" cy="463.6" r="0.9" fill="#2f68c8" fill-opacity="0.55"/>
<circle cx="156.0" cy="450.8" r="0.9" fill="#2f68c8" fill-opacity="0.55"/>
<circle cx="161.5" cy="454.1" r="0.9" fill="#2f68c8" fill-opacity="0.55"/>
<circle cx="150.3" cy="412.6" r="0.9" fill="#2f68c8" fill-opacity="0.55"/>
<circle cx="175.5" cy="458.2" r="0.9" fill="#2f68c8" fill-opacity="0.55"/>
<circle cx="151.4" cy="445.2" r="0.9" fill="#2f68c8" fill-opacity="0.55"/>
<circle cx="164.2" cy="416.4" r="0.9" fill="#2f68c8" fill-opacity="0.55"/>
<circle cx="170.5" cy="427.8" r="0.9" fill="#2f68c8" fill-opacity="0.55"/>
<circle cx="116.5" cy="428.7" r="0.9" fill="#2f68c8" fill-opacity="0.55"/>
<circle cx="169.9" cy="425.0" r="0.9" fill="#2f68c8" fill-opacity="0.55"/>
<circle cx="170.8" cy="472.1" r="0.9" fill="#2f68c8" fill-opacity="0.55"/>
<circle cx="150.7" cy="435.8" r="0.9" fill="#2f68c8" fill-opacity="0.55"/>
<circle cx="149.5" cy="454.2" r="0.9" fill="#2f68c8" fill-opacity="0.55"/>
<circle cx="173.0" cy="450.2" r="0.9" fill="#2f68c8" fill-opacity="0.55"/>
<circle cx="162.8" cy="417.1" r="0.9" fill="#2f68c8" fill-opacity="0.55"/>
<circle cx="122.4" cy="427.9" r="0.9" fill="#2f68c8" fill-opacity="0.55"/>
<circle cx="171.0" cy="431.0" r="0.9" fill="#2f68c8" fill-opacity="0.55"/>
<circle cx="156.7" cy="413.2" r="0.9" fill="#2f68c8" fill-opacity="0.55"/>
<circle cx="115.3" cy="428.8" r="0.9" fill="#2f68c8" fill-opacity="0.55"/>
<circle cx="165.2" cy="454.8" r="0.9" fill="#2f68c8" fill-opacity="0.55"/>
<circle cx="165.5" cy="430.2" r="0.9" fill="#2f68c8" fill-opacity="0.55"/>
</g>
<g clip-path="url(#cg2)" filter="url(#blur)">
<line x1="105.1" y1="444.5" x2="116.6" y2="435.9" stroke="#66dc74" stroke-width="3.0" stroke-opacity="0.08" stroke-linecap="round"/>
<line x1="186.6" y1="444.2" x2="197.4" y2="426.0" stroke="#66dc74" stroke-width="2.9" stroke-opacity="0.14" stroke-linecap="round"/>
<line x1="112.6" y1="460.8" x2="132.6" y2="437.3" stroke="#66dc74" stroke-width="1.8" stroke-opacity="0.11" stroke-linecap="round"/>
<line x1="165.0" y1="467.8" x2="179.3" y2="464.6" stroke="#66dc74" stroke-width="2.9" stroke-opacity="0.11" stroke-linecap="round"/>
<line x1="175.7" y1="429.3" x2="195.6" y2="406.9" stroke="#66dc74" stroke-width="2.3" stroke-opacity="0.07" stroke-linecap="round"/>
<line x1="177.9" y1="449.1" x2="192.2" y2="438.2" stroke="#66dc74" stroke-width="1.7" stroke-opacity="0.09" stroke-linecap="round"/>
<line x1="115.1" y1="485.3" x2="128.7" y2="461.9" stroke="#66dc74" stroke-width="2.9" stroke-opacity="0.08" stroke-linecap="round"/>
<line x1="183.4" y1="428.0" x2="200.6" y2="423.5" stroke="#66dc74" stroke-width="2.1" stroke-opacity="0.10" stroke-linecap="round"/>
<line x1="183.0" y1="449.6" x2="198.3" y2="435.9" stroke="#66dc74" stroke-width="1.9" stroke-opacity="0.07" stroke-linecap="round"/>
<line x1="181.3" y1="481.7" x2="202.7" y2="459.7" stroke="#66dc74" stroke-width="1.8" stroke-opacity="0.09" stroke-linecap="round"/>
<line x1="114.3" y1="452.2" x2="137.7" y2="431.6" stroke="#66dc74" stroke-width="3.0" stroke-opacity="0.13" stroke-linecap="round"/>
<line x1="99.2" y1="415.0" x2="121.6" y2="409.8" stroke="#66dc74" stroke-width="2.7" stroke-opacity="0.07" stroke-linecap="round"/>
<line x1="131.7" y1="421.1" x2="154.7" y2="411.6" stroke="#66dc74" stroke-width="1.9" stroke-opacity="0.07" stroke-linecap="round"/>
<line x1="154.8" y1="442.9" x2="170.0" y2="431.7" stroke="#66dc74" stroke-width="1.9" stroke-opacity="0.12" stroke-linecap="round"/>
<line x1="164.2" y1="444.3" x2="180.2" y2="436.1" stroke="#66dc74" stroke-width="2.4" stroke-opacity="0.10" stroke-linecap="round"/>
<line x1="147.0" y1="467.1" x2="166.5" y2="444.2" stroke="#66dc74" stroke-width="2.3" stroke-opacity="0.09" stroke-linecap="round"/>
<line x1="186.1" y1="416.9" x2="197.9" y2="407.9" stroke="#66dc74" stroke-width="1.7" stroke-opacity="0.08" stroke-linecap="round"/>
<line x1="133.6" y1="458.3" x2="145.1" y2="445.6" stroke="#66dc74" stroke-width="2.4" stroke-opacity="0.13" stroke-linecap="round"/>
<line x1="138.3" y1="424.9" x2="155.7" y2="410.6" stroke="#66dc74" stroke-width="2.1" stroke-opacity="0.09" stroke-linecap="round"/>
<line x1="164.4" y1="452.0" x2="178.6" y2="449.0" stroke="#66dc74" stroke-width="2.3" stroke-opacity="0.11" stroke-linecap="round"/>
<line x1="156.1" y1="436.2" x2="167.8" y2="423.9" stroke="#66dc74" stroke-width="2.1" stroke-opacity="0.10" stroke-linecap="round"/>
<line x1="186.0" y1="431.2" x2="198.0" y2="427.7" stroke="#66dc74" stroke-width="1.5" stroke-opacity="0.12" stroke-linecap="round"/>
<line x1="171.3" y1="429.2" x2="181.6" y2="423.0" stroke="#66dc74" stroke-width="2.1" stroke-opacity="0.13" stroke-linecap="round"/>
<line x1="168.2" y1="414.1" x2="184.8" y2="410.7" stroke="#66dc74" stroke-width="1.6" stroke-opacity="0.08" stroke-linecap="round"/>
<line x1="97.5" y1="440.8" x2="123.3" y2="434.9" stroke="#66dc74" stroke-width="2.6" stroke-opacity="0.12" stroke-linecap="round"/>
<line x1="103.1" y1="462.9" x2="117.7" y2="439.5" stroke="#66dc74" stroke-width="1.8" stroke-opacity="0.13" stroke-linecap="round"/>
<line x1="125.1" y1="433.4" x2="135.2" y2="419.6" stroke="#66dc74" stroke-width="2.5" stroke-opacity="0.12" stroke-linecap="round"/>
<line x1="146.8" y1="455.6" x2="166.5" y2="442.5" stroke="#66dc74" stroke-width="2.1" stroke-opacity="0.09" stroke-linecap="round"/>
<line x1="135.8" y1="448.4" x2="150.8" y2="433.4" stroke="#66dc74" stroke-width="3.1" stroke-opacity="0.12" stroke-linecap="round"/>
<line x1="169.1" y1="430.8" x2="180.4" y2="418.1" stroke="#66dc74" stroke-width="3.1" stroke-opacity="0.12" stroke-linecap="round"/>
<line x1="134.3" y1="455.1" x2="155.1" y2="440.5" stroke="#66dc74" stroke-width="2.2" stroke-opacity="0.09" stroke-linecap="round"/>
<line x1="106.2" y1="417.2" x2="114.6" y2="407.6" stroke="#66dc74" stroke-width="2.0" stroke-opacity="0.10" stroke-linecap="round"/>
<line x1="125.6" y1="432.8" x2="150.8" y2="423.6" stroke="#66dc74" stroke-width="2.3" stroke-opacity="0.08" stroke-linecap="round"/>
<line x1="167.0" y1="441.7" x2="182.7" y2="436.3" stroke="#66dc74" stroke-width="1.8" stroke-opacity="0.12" stroke-linecap="round"/>
<line x1="118.3" y1="478.1" x2="131.1" y2="469.1" stroke="#66dc74" stroke-width="1.8" stroke-opacity="0.10" stroke-linecap="round"/>
<line x1="104.4" y1="420.3" x2="116.4" y2="404.5" stroke="#66dc74" stroke-width="1.8" stroke-opacity="0.14" stroke-linecap="round"/>
<line x1="148.4" y1="457.5" x2="159.2" y2="440.9" stroke="#66dc74" stroke-width="3.0" stroke-opacity="0.13" stroke-linecap="round"/>
<line x1="125.8" y1="414.6" x2="143.9" y2="410.2" stroke="#66dc74" stroke-width="1.7" stroke-opacity="0.14" stroke-linecap="round"/>
<line x1="138.2" y1="441.2" x2="155.7" y2="432.4" stroke="#66dc74" stroke-width="2.1" stroke-opacity="0.09" stroke-linecap="round"/>
<line x1="141.7" y1="451.5" x2="154.9" y2="437.8" stroke="#66dc74" stroke-width="3.1" stroke-opacity="0.08" stroke-linecap="round"/>
<line x1="158.3" y1="448.8" x2="179.4" y2="429.7" stroke="#66dc74" stroke-width="2.9" stroke-opacity="0.10" stroke-linecap="round"/>
<line x1="170.9" y1="461.5" x2="193.7" y2="441.4" stroke="#66dc74" stroke-width="1.7" stroke-opacity="0.10" stroke-linecap="round"/>
<line x1="142.7" y1="448.3" x2="164.5" y2="430.4" stroke="#66dc74" stroke-width="2.8" stroke-opacity="0.07" stroke-linecap="round"/>
<line x1="150.3" y1="447.0" x2="166.9" y2="442.8" stroke="#66dc74" stroke-width="2.7" stroke-opacity="0.13" stroke-linecap="round"/>
<line x1="121.4" y1="462.1" x2="145.2" y2="457.0" stroke="#66dc74" stroke-width="1.9" stroke-opacity="0.12" stroke-linecap="round"/>
<line x1="129.7" y1="472.7" x2="143.3" y2="449.3" stroke="#66dc74" stroke-width="3.0" stroke-opacity="0.11" stroke-linecap="round"/>
<line x1="146.7" y1="449.1" x2="161.0" y2="433.1" stroke="#66dc74" stroke-width="3.1" stroke-opacity="0.14" stroke-linecap="round"/>
<line x1="119.8" y1="462.0" x2="136.9" y2="448.4" stroke="#66dc74" stroke-width="3.1" stroke-opacity="0.08" stroke-linecap="round"/>
<line x1="151.5" y1="416.8" x2="177.4" y2="408.0" stroke="#66dc74" stroke-width="2.5" stroke-opacity="0.09" stroke-linecap="round"/>
<line x1="127.7" y1="466.4" x2="140.4" y2="461.6" stroke="#66dc74" stroke-width="1.8" stroke-opacity="0.12" stroke-linecap="round"/>
<line x1="141.3" y1="461.8" x2="153.4" y2="442.1" stroke="#66dc74" stroke-width="2.0" stroke-opacity="0.14" stroke-linecap="round"/>
<line x1="187.3" y1="417.4" x2="196.7" y2="407.4" stroke="#66dc74" stroke-width="1.6" stroke-opacity="0.10" stroke-linecap="round"/>
<line x1="131.5" y1="424.8" x2="145.0" y2="409.6" stroke="#66dc74" stroke-width="2.5" stroke-opacity="0.12" stroke-linecap="round"/>
<line x1="139.9" y1="415.6" x2="152.8" y2="409.2" stroke="#66dc74" stroke-width="2.9" stroke-opacity="0.09" stroke-linecap="round"/>
<line x1="111.0" y1="436.5" x2="125.7" y2="430.2" stroke="#66dc74" stroke-width="1.8" stroke-opacity="0.09" stroke-linecap="round"/>
</g>
<rect x="110.40" y="412.40" width="81.60" height="61.20" fill="url(#vg2)"/>
<text x="112.80" y="420.80" font-size="10" text-anchor="start" fill="#fff" stroke="#fff" stroke-width="0.2">10 nM ATRA</text>
<rect x="184.40" y="470.40" width="5.20" height="1.50" fill="#fff" stroke="none" stroke-width="0"/>
<rect x="25.60" y="476.00" width="81.60" height="61.40" fill="url(#g3)"/>
<g clip-path="url(#cg3)" filter="url(#blur2)">
<circle cx="38.1" cy="530.3" r="0.9" fill="#2f68c8" fill-opacity="0.55"/>
<circle cx="72.8" cy="496.0" r="0.9" fill="#2f68c8" fill-opacity="0.55"/>
<circle cx="57.9" cy="536.9" r="0.9" fill="#2f68c8" fill-opacity="0.55"/>
<circle cx="67.0" cy="490.2" r="0.9" fill="#2f68c8" fill-opacity="0.55"/>
<circle cx="91.6" cy="516.1" r="0.9" fill="#2f68c8" fill-opacity="0.55"/>
<circle cx="106.5" cy="482.3" r="0.9" fill="#2f68c8" fill-opacity="0.55"/>
<circle cx="64.3" cy="526.3" r="0.9" fill="#2f68c8" fill-opacity="0.55"/>
<circle cx="94.2" cy="532.1" r="0.9" fill="#2f68c8" fill-opacity="0.55"/>
<circle cx="28.9" cy="494.0" r="0.9" fill="#2f68c8" fill-opacity="0.55"/>
<circle cx="35.3" cy="487.6" r="0.9" fill="#2f68c8" fill-opacity="0.55"/>
<circle cx="105.0" cy="511.8" r="0.9" fill="#2f68c8" fill-opacity="0.55"/>
<circle cx="101.5" cy="498.9" r="0.9" fill="#2f68c8" fill-opacity="0.55"/>
<circle cx="96.3" cy="503.6" r="0.9" fill="#2f68c8" fill-opacity="0.55"/>
<circle cx="46.8" cy="523.8" r="0.9" fill="#2f68c8" fill-opacity="0.55"/>
<circle cx="102.8" cy="482.5" r="0.9" fill="#2f68c8" fill-opacity="0.55"/>
<circle cx="74.2" cy="514.1" r="0.9" fill="#2f68c8" fill-opacity="0.55"/>
<circle cx="43.4" cy="498.6" r="0.9" fill="#2f68c8" fill-opacity="0.55"/>
<circle cx="37.1" cy="488.5" r="0.9" fill="#2f68c8" fill-opacity="0.55"/>
<circle cx="46.4" cy="512.8" r="0.9" fill="#2f68c8" fill-opacity="0.55"/>
<circle cx="78.8" cy="488.5" r="0.9" fill="#2f68c8" fill-opacity="0.55"/>
<circle cx="26.5" cy="496.1" r="0.9" fill="#2f68c8" fill-opacity="0.55"/>
<circle cx="81.0" cy="487.4" r="0.9" fill="#2f68c8" fill-opacity="0.55"/>
<circle cx="51.1" cy="488.5" r="0.9" fill="#2f68c8" fill-opacity="0.55"/>
<circle cx="90.5" cy="509.6" r="0.9" fill="#2f68c8" fill-opacity="0.55"/>
<circle cx="30.8" cy="482.2" r="0.9" fill="#2f68c8" fill-opacity="0.55"/>
<circle cx="57.9" cy="509.8" r="0.9" fill="#2f68c8" fill-opacity="0.55"/>
<circle cx="77.8" cy="481.6" r="0.9" fill="#2f68c8" fill-opacity="0.55"/>
<circle cx="39.0" cy="518.7" r="0.9" fill="#2f68c8" fill-opacity="0.55"/>
<circle cx="59.0" cy="493.4" r="0.9" fill="#2f68c8" fill-opacity="0.55"/>
<circle cx="50.7" cy="534.5" r="0.9" fill="#2f68c8" fill-opacity="0.55"/>
<circle cx="51.1" cy="510.8" r="0.9" fill="#2f68c8" fill-opacity="0.55"/>
<circle cx="54.7" cy="501.6" r="0.9" fill="#2f68c8" fill-opacity="0.55"/>
<circle cx="96.1" cy="537.2" r="0.9" fill="#2f68c8" fill-opacity="0.55"/>
<circle cx="55.3" cy="488.1" r="0.9" fill="#2f68c8" fill-opacity="0.55"/>
<circle cx="85.0" cy="488.5" r="0.9" fill="#2f68c8" fill-opacity="0.55"/>
<circle cx="26.1" cy="531.4" r="0.9" fill="#2f68c8" fill-opacity="0.55"/>
<circle cx="60.2" cy="526.4" r="0.9" fill="#2f68c8" fill-opacity="0.55"/>
<circle cx="58.7" cy="530.2" r="0.9" fill="#2f68c8" fill-opacity="0.55"/>
<circle cx="63.2" cy="486.0" r="0.9" fill="#2f68c8" fill-opacity="0.55"/>
<circle cx="26.8" cy="509.9" r="0.9" fill="#2f68c8" fill-opacity="0.55"/>
<circle cx="77.9" cy="531.9" r="0.9" fill="#2f68c8" fill-opacity="0.55"/>
<circle cx="32.9" cy="514.2" r="0.9" fill="#2f68c8" fill-opacity="0.55"/>
<circle cx="55.9" cy="507.0" r="0.9" fill="#2f68c8" fill-opacity="0.55"/>
<circle cx="37.5" cy="493.4" r="0.9" fill="#2f68c8" fill-opacity="0.55"/>
<circle cx="68.1" cy="532.8" r="0.9" fill="#2f68c8" fill-opacity="0.55"/>
</g>
<g clip-path="url(#cg3)" filter="url(#blur)">
<line x1="73.8" y1="538.2" x2="101.5" y2="523.5" stroke="#66dc74" stroke-width="1.8" stroke-opacity="0.10" stroke-linecap="round"/>
<line x1="102.2" y1="493.7" x2="112.2" y2="485.2" stroke="#66dc74" stroke-width="3.1" stroke-opacity="0.12" stroke-linecap="round"/>
<line x1="88.9" y1="496.9" x2="102.5" y2="490.0" stroke="#66dc74" stroke-width="2.8" stroke-opacity="0.10" stroke-linecap="round"/>
<line x1="18.6" y1="540.9" x2="32.6" y2="533.9" stroke="#66dc74" stroke-width="1.8" stroke-opacity="0.12" stroke-linecap="round"/>
<line x1="21.5" y1="517.1" x2="31.2" y2="503.2" stroke="#66dc74" stroke-width="2.7" stroke-opacity="0.16" stroke-linecap="round"/>
<line x1="93.3" y1="524.1" x2="104.4" y2="517.7" stroke="#66dc74" stroke-width="2.9" stroke-opacity="0.10" stroke-linecap="round"/>
<line x1="18.2" y1="499.9" x2="33.0" y2="489.5" stroke="#66dc74" stroke-width="2.2" stroke-opacity="0.13" stroke-linecap="round"/>
<line x1="17.9" y1="536.0" x2="33.3" y2="522.1" stroke="#66dc74" stroke-width="1.4" stroke-opacity="0.14" stroke-linecap="round"/>
<line x1="22.4" y1="520.8" x2="46.4" y2="507.2" stroke="#66dc74" stroke-width="2.2" stroke-opacity="0.10" stroke-linecap="round"/>
<line x1="37.0" y1="523.2" x2="48.9" y2="506.4" stroke="#66dc74" stroke-width="1.6" stroke-opacity="0.12" stroke-linecap="round"/>
<line x1="43.2" y1="516.3" x2="54.5" y2="508.5" stroke="#66dc74" stroke-width="2.7" stroke-opacity="0.15" stroke-linecap="round"/>
<line x1="39.9" y1="518.5" x2="54.9" y2="506.0" stroke="#66dc74" stroke-width="3.1" stroke-opacity="0.10" stroke-linecap="round"/>
<line x1="95.0" y1="483.2" x2="119.4" y2="468.8" stroke="#66dc74" stroke-width="1.7" stroke-opacity="0.17" stroke-linecap="round"/>
<line x1="18.6" y1="519.0" x2="32.6" y2="512.9" stroke="#66dc74" stroke-width="2.8" stroke-opacity="0.16" stroke-linecap="round"/>
<line x1="79.5" y1="525.7" x2="92.6" y2="518.2" stroke="#66dc74" stroke-width="3.0" stroke-opacity="0.11" stroke-linecap="round"/>
<line x1="53.9" y1="510.1" x2="77.2" y2="490.6" stroke="#66dc74" stroke-width="1.8" stroke-opacity="0.11" stroke-linecap="round"/>
<line x1="25.6" y1="518.7" x2="33.7" y2="505.4" stroke="#66dc74" stroke-width="1.7" stroke-opacity="0.16" stroke-linecap="round"/>
<line x1="20.3" y1="487.1" x2="36.9" y2="464.9" stroke="#66dc74" stroke-width="1.6" stroke-opacity="0.13" stroke-linecap="round"/>
<line x1="27.6" y1="500.2" x2="48.5" y2="490.4" stroke="#66dc74" stroke-width="2.4" stroke-opacity="0.16" stroke-linecap="round"/>
<line x1="99.0" y1="543.1" x2="115.4" y2="531.7" stroke="#66dc74" stroke-width="2.8" stroke-opacity="0.11" stroke-linecap="round"/>
<line x1="91.5" y1="520.7" x2="110.6" y2="501.2" stroke="#66dc74" stroke-width="2.2" stroke-opacity="0.10" stroke-linecap="round"/>
<line x1="50.2" y1="509.0" x2="65.4" y2="501.2" stroke="#66dc74" stroke-width="2.6" stroke-opacity="0.17" stroke-linecap="round"/>
<line x1="21.5" y1="498.6" x2="29.7" y2="489.8" stroke="#66dc74" stroke-width="1.5" stroke-opacity="0.10" stroke-linecap="round"/>
<line x1="20.8" y1="504.9" x2="43.9" y2="485.9" stroke="#66dc74" stroke-width="1.6" stroke-opacity="0.10" stroke-linecap="round"/>
<line x1="49.5" y1="516.8" x2="59.1" y2="500.3" stroke="#66dc74" stroke-width="1.6" stroke-opacity="0.12" stroke-linecap="round"/>
<line x1="58.7" y1="542.2" x2="71.7" y2="532.6" stroke="#66dc74" stroke-width="2.5" stroke-opacity="0.13" stroke-linecap="round"/>
<line x1="102.4" y1="543.2" x2="112.0" y2="531.6" stroke="#66dc74" stroke-width="1.6" stroke-opacity="0.14" stroke-linecap="round"/>
<line x1="91.4" y1="487.8" x2="103.8" y2="475.8" stroke="#66dc74" stroke-width="1.4" stroke-opacity="0.14" stroke-linecap="round"/>
<line x1="21.6" y1="510.0" x2="38.9" y2="498.3" stroke="#66dc74" stroke-width="3.1" stroke-opacity="0.15" stroke-linecap="round"/>
<line x1="53.0" y1="547.0" x2="64.9" y2="527.8" stroke="#66dc74" stroke-width="2.1" stroke-opacity="0.11" stroke-linecap="round"/>
<line x1="101.4" y1="538.1" x2="113.0" y2="518.2" stroke="#66dc74" stroke-width="3.1" stroke-opacity="0.10" stroke-linecap="round"/>
<line x1="62.6" y1="545.3" x2="81.7" y2="529.5" stroke="#66dc74" stroke-width="2.9" stroke-opacity="0.10" stroke-linecap="round"/>
<line x1="40.3" y1="544.8" x2="56.1" y2="519.5" stroke="#66dc74" stroke-width="2.8" stroke-opacity="0.15" stroke-linecap="round"/>
<line x1="98.0" y1="520.1" x2="116.4" y2="509.4" stroke="#66dc74" stroke-width="2.7" stroke-opacity="0.12" stroke-linecap="round"/>
<line x1="56.5" y1="529.2" x2="64.6" y2="519.3" stroke="#66dc74" stroke-width="2.0" stroke-opacity="0.15" stroke-linecap="round"/>
<line x1="29.5" y1="480.5" x2="44.3" y2="471.5" stroke="#66dc74" stroke-width="2.4" stroke-opacity="0.12" stroke-linecap="round"/>
<line x1="59.7" y1="493.2" x2="75.8" y2="474.4" stroke="#66dc74" stroke-width="3.1" stroke-opacity="0.10" stroke-linecap="round"/>
<line x1="57.0" y1="516.3" x2="67.8" y2="503.5" stroke="#66dc74" stroke-width="2.7" stroke-opacity="0.17" stroke-linecap="round"/>
<line x1="49.1" y1="494.9" x2="66.0" y2="487.1" stroke="#66dc74" stroke-width="1.8" stroke-opacity="0.16" stroke-linecap="round"/>
<line x1="12.4" y1="493.9" x2="38.8" y2="476.5" stroke="#66dc74" stroke-width="2.2" stroke-opacity="0.16" stroke-linecap="round"/>
<line x1="27.6" y1="485.0" x2="47.2" y2="467.0" stroke="#66dc74" stroke-width="2.4" stroke-opacity="0.11" stroke-linecap="round"/>
<line x1="60.8" y1="550.1" x2="77.3" y2="524.7" stroke="#66dc74" stroke-width="1.7" stroke-opacity="0.09" stroke-linecap="round"/>
<line x1="102.1" y1="542.8" x2="112.3" y2="532.0" stroke="#66dc74" stroke-width="1.5" stroke-opacity="0.09" stroke-linecap="round"/>
<line x1="30.6" y1="487.4" x2="53.2" y2="473.2" stroke="#66dc74" stroke-width="1.5" stroke-opacity="0.14" stroke-linecap="round"/>
<line x1="12.3" y1="544.2" x2="38.9" y2="530.6" stroke="#66dc74" stroke-width="1.5" stroke-opacity="0.16" stroke-linecap="round"/>
<line x1="102.7" y1="489.3" x2="111.7" y2="475.9" stroke="#66dc74" stroke-width="1.6" stroke-opacity="0.09" stroke-linecap="round"/>
<line x1="80.9" y1="484.2" x2="104.3" y2="468.0" stroke="#66dc74" stroke-width="2.5" stroke-opacity="0.11" stroke-linecap="round"/>
<line x1="63.2" y1="523.4" x2="77.2" y2="515.4" stroke="#66dc74" stroke-width="2.0" stroke-opacity="0.12" stroke-linecap="round"/>
<line x1="74.5" y1="525.2" x2="91.8" y2="505.4" stroke="#66dc74" stroke-width="2.1" stroke-opacity="0.11" stroke-linecap="round"/>
<line x1="84.9" y1="511.6" x2="106.8" y2="501.0" stroke="#66dc74" stroke-width="1.5" stroke-opacity="0.12" stroke-linecap="round"/>
<line x1="16.6" y1="538.7" x2="34.6" y2="519.9" stroke="#66dc74" stroke-width="2.4" stroke-opacity="0.10" stroke-linecap="round"/>
<line x1="60.6" y1="508.2" x2="74.3" y2="501.2" stroke="#66dc74" stroke-width="1.4" stroke-opacity="0.10" stroke-linecap="round"/>
<line x1="59.6" y1="485.4" x2="70.6" y2="466.6" stroke="#66dc74" stroke-width="2.3" stroke-opacity="0.15" stroke-linecap="round"/>
<line x1="63.6" y1="547.7" x2="83.4" y2="527.1" stroke="#66dc74" stroke-width="1.9" stroke-opacity="0.17" stroke-linecap="round"/>
<line x1="44.2" y1="535.4" x2="62.8" y2="523.7" stroke="#66dc74" stroke-width="1.6" stroke-opacity="0.14" stroke-linecap="round"/>
</g>
<rect x="25.60" y="476.00" width="81.60" height="61.40" fill="url(#vg3)"/>
<text x="28.00" y="484.40" font-size="10" text-anchor="start" fill="#fff" stroke="#fff" stroke-width="0.2">3 nM AM580</text>
<rect x="99.60" y="534.20" width="5.20" height="1.50" fill="#fff" stroke="none" stroke-width="0"/>
<rect x="110.40" y="476.00" width="81.60" height="61.40" fill="url(#g4)"/>
<g clip-path="url(#cg4)" filter="url(#blur2)">
<circle cx="117.0" cy="524.4" r="0.9" fill="#2f68c8" fill-opacity="0.55"/>
<circle cx="167.3" cy="524.3" r="0.9" fill="#2f68c8" fill-opacity="0.55"/>
<circle cx="161.6" cy="497.8" r="0.9" fill="#2f68c8" fill-opacity="0.55"/>
<circle cx="143.1" cy="500.2" r="0.9" fill="#2f68c8" fill-opacity="0.55"/>
<circle cx="183.1" cy="481.3" r="0.9" fill="#2f68c8" fill-opacity="0.55"/>
<circle cx="182.9" cy="477.5" r="0.9" fill="#2f68c8" fill-opacity="0.55"/>
<circle cx="127.2" cy="492.2" r="0.9" fill="#2f68c8" fill-opacity="0.55"/>
<circle cx="183.9" cy="506.8" r="0.9" fill="#2f68c8" fill-opacity="0.55"/>
<circle cx="141.4" cy="530.3" r="0.9" fill="#2f68c8" fill-opacity="0.55"/>
<circle cx="129.5" cy="504.3" r="0.9" fill="#2f68c8" fill-opacity="0.55"/>
<circle cx="153.8" cy="522.3" r="0.9" fill="#2f68c8" fill-opacity="0.55"/>
<circle cx="171.8" cy="515.7" r="0.9" fill="#2f68c8" fill-opacity="0.55"/>
<circle cx="138.8" cy="496.1" r="0.9" fill="#2f68c8" fill-opacity="0.55"/>
<circle cx="123.1" cy="527.8" r="0.9" fill="#2f68c8" fill-opacity="0.55"/>
<circle cx="164.4" cy="521.6" r="0.9" fill="#2f68c8" fill-opacity="0.55"/>
<circle cx="124.2" cy="502.9" r="0.9" fill="#2f68c8" fill-opacity="0.55"/>
<circle cx="173.5" cy="511.6" r="0.9" fill="#2f68c8" fill-opacity="0.55"/>
<circle cx="120.7" cy="504.4" r="0.9" fill="#2f68c8" fill-opacity="0.55"/>
<circle cx="182.6" cy="490.6" r="0.9" fill="#2f68c8" fill-opacity="0.55"/>
<circle cx="126.0" cy="494.5" r="0.9" fill="#2f68c8" fill-opacity="0.55"/>
<circle cx="167.8" cy="527.8" r="0.9" fill="#2f68c8" fill-opacity="0.55"/>
<circle cx="123.0" cy="485.6" r="0.9" fill="#2f68c8" fill-opacity="0.55"/>
<circle cx="130.6" cy="496.1" r="0.9" fill="#2f68c8" fill-opacity="0.55"/>
<circle cx="153.0" cy="485.9" r="0.9" fill="#2f68c8" fill-opacity="0.55"/>
<circle cx="137.2" cy="487.6" r="0.9" fill="#2f68c8" fill-opacity="0.55"/>
<circle cx="190.0" cy="520.7" r="0.9" fill="#2f68c8" fill-opacity="0.55"/>
<circle cx="118.7" cy="535.1" r="0.9" fill="#2f68c8" fill-opacity="0.55"/>
<circle cx="118.7" cy="499.6" r="0.9" fill="#2f68c8" fill-opacity="0.55"/>
<circle cx="190.7" cy="524.8" r="0.9" fill="#2f68c8" fill-opacity="0.55"/>
<circle cx="170.2" cy="502.7" r="0.9" fill="#2f68c8" fill-opacity="0.55"/>
<circle cx="126.4" cy="515.2" r="0.9" fill="#2f68c8" fill-opacity="0.55"/>
<circle cx="119.1" cy="488.7" r="0.9" fill="#2f68c8" fill-opacity="0.55"/>
<circle cx="142.1" cy="478.1" r="0.9" fill="#2f68c8" fill-opacity="0.55"/>
<circle cx="143.0" cy="524.6" r="0.9" fill="#2f68c8" fill-opacity="0.55"/>
<circle cx="167.0" cy="506.7" r="0.9" fill="#2f68c8" fill-opacity="0.55"/>
<circle cx="162.0" cy="504.4" r="0.9" fill="#2f68c8" fill-opacity="0.55"/>
<circle cx="122.0" cy="513.1" r="0.9" fill="#2f68c8" fill-opacity="0.55"/>
<circle cx="143.4" cy="521.5" r="0.9" fill="#2f68c8" fill-opacity="0.55"/>
<circle cx="184.5" cy="502.4" r="0.9" fill="#2f68c8" fill-opacity="0.55"/>
<circle cx="157.2" cy="522.0" r="0.9" fill="#2f68c8" fill-opacity="0.55"/>
<circle cx="144.8" cy="490.0" r="0.9" fill="#2f68c8" fill-opacity="0.55"/>
<circle cx="169.3" cy="530.0" r="0.9" fill="#2f68c8" fill-opacity="0.55"/>
<circle cx="173.6" cy="519.0" r="0.9" fill="#2f68c8" fill-opacity="0.55"/>
<circle cx="180.0" cy="517.7" r="0.9" fill="#2f68c8" fill-opacity="0.55"/>
<circle cx="162.7" cy="503.9" r="0.9" fill="#2f68c8" fill-opacity="0.55"/>
</g>
<g clip-path="url(#cg4)" filter="url(#blur)">
<line x1="151.0" y1="541.5" x2="132.3" y2="533.3" stroke="#66dc74" stroke-width="2.8" stroke-opacity="0.15" stroke-linecap="round"/>
<line x1="150.8" y1="505.6" x2="133.9" y2="492.9" stroke="#66dc74" stroke-width="2.5" stroke-opacity="0.12" stroke-linecap="round"/>
<line x1="136.4" y1="481.8" x2="114.1" y2="470.2" stroke="#66dc74" stroke-width="2.8" stroke-opacity="0.12" stroke-linecap="round"/>
<line x1="121.0" y1="521.3" x2="99.8" y2="512.9" stroke="#66dc74" stroke-width="1.7" stroke-opacity="0.15" stroke-linecap="round"/>
<line x1="202.7" y1="506.8" x2="181.3" y2="497.2" stroke="#66dc74" stroke-width="2.4" stroke-opacity="0.15" stroke-linecap="round"/>
<line x1="119.6" y1="519.1" x2="106.2" y2="501.2" stroke="#66dc74" stroke-width="2.1" stroke-opacity="0.17" stroke-linecap="round"/>
<line x1="182.7" y1="545.4" x2="160.6" y2="529.4" stroke="#66dc74" stroke-width="1.6" stroke-opacity="0.17" stroke-linecap="round"/>
<line x1="161.1" y1="524.6" x2="143.9" y2="514.3" stroke="#66dc74" stroke-width="1.4" stroke-opacity="0.12" stroke-linecap="round"/>
<line x1="122.2" y1="535.9" x2="107.8" y2="526.2" stroke="#66dc74" stroke-width="1.8" stroke-opacity="0.15" stroke-linecap="round"/>
<line x1="204.3" y1="508.5" x2="179.7" y2="495.0" stroke="#66dc74" stroke-width="2.1" stroke-opacity="0.10" stroke-linecap="round"/>
<line x1="199.5" y1="547.2" x2="184.5" y2="527.6" stroke="#66dc74" stroke-width="2.2" stroke-opacity="0.13" stroke-linecap="round"/>
<line x1="182.3" y1="544.3" x2="161.7" y2="530.5" stroke="#66dc74" stroke-width="2.9" stroke-opacity="0.15" stroke-linecap="round"/>
<line x1="138.0" y1="521.8" x2="127.3" y2="512.1" stroke="#66dc74" stroke-width="2.9" stroke-opacity="0.12" stroke-linecap="round"/>
<line x1="181.6" y1="502.1" x2="167.6" y2="492.3" stroke="#66dc74" stroke-width="2.2" stroke-opacity="0.10" stroke-linecap="round"/>
<line x1="199.2" y1="517.9" x2="184.8" y2="509.1" stroke="#66dc74" stroke-width="1.9" stroke-opacity="0.13" stroke-linecap="round"/>
<line x1="124.1" y1="535.0" x2="110.8" y2="521.1" stroke="#66dc74" stroke-width="3.1" stroke-opacity="0.16" stroke-linecap="round"/>
<line x1="199.7" y1="540.5" x2="184.3" y2="517.5" stroke="#66dc74" stroke-width="1.7" stroke-opacity="0.16" stroke-linecap="round"/>
<line x1="170.1" y1="515.1" x2="141.0" y2="504.2" stroke="#66dc74" stroke-width="2.6" stroke-opacity="0.11" stroke-linecap="round"/>
<line x1="185.9" y1="527.7" x2="161.9" y2="514.2" stroke="#66dc74" stroke-width="2.0" stroke-opacity="0.10" stroke-linecap="round"/>
<line x1="205.3" y1="494.9" x2="178.7" y2="481.5" stroke="#66dc74" stroke-width="2.5" stroke-opacity="0.15" stroke-linecap="round"/>
<line x1="134.4" y1="487.3" x2="116.5" y2="464.7" stroke="#66dc74" stroke-width="1.8" stroke-opacity="0.14" stroke-linecap="round"/>
<line x1="122.2" y1="514.1" x2="98.6" y2="496.0" stroke="#66dc74" stroke-width="2.4" stroke-opacity="0.11" stroke-linecap="round"/>
<line x1="166.2" y1="530.4" x2="156.1" y2="522.0" stroke="#66dc74" stroke-width="2.2" stroke-opacity="0.10" stroke-linecap="round"/>
<line x1="132.0" y1="524.1" x2="110.1" y2="504.7" stroke="#66dc74" stroke-width="1.4" stroke-opacity="0.16" stroke-linecap="round"/>
<line x1="128.1" y1="529.6" x2="108.3" y2="508.7" stroke="#66dc74" stroke-width="2.1" stroke-opacity="0.12" stroke-linecap="round"/>
<line x1="180.6" y1="519.3" x2="163.2" y2="501.6" stroke="#66dc74" stroke-width="1.5" stroke-opacity="0.14" stroke-linecap="round"/>
<line x1="141.5" y1="484.7" x2="115.1" y2="467.3" stroke="#66dc74" stroke-width="2.3" stroke-opacity="0.13" stroke-linecap="round"/>
<line x1="174.3" y1="518.2" x2="158.1" y2="499.8" stroke="#66dc74" stroke-width="2.0" stroke-opacity="0.16" stroke-linecap="round"/>
<line x1="145.0" y1="542.6" x2="124.3" y2="524.6" stroke="#66dc74" stroke-width="1.8" stroke-opacity="0.12" stroke-linecap="round"/>
<line x1="128.1" y1="534.6" x2="117.4" y2="520.3" stroke="#66dc74" stroke-width="2.9" stroke-opacity="0.12" stroke-linecap="round"/>
<line x1="145.4" y1="522.6" x2="121.4" y2="502.2" stroke="#66dc74" stroke-width="2.6" stroke-opacity="0.15" stroke-linecap="round"/>
<line x1="155.6" y1="537.9" x2="135.4" y2="525.3" stroke="#66dc74" stroke-width="2.5" stroke-opacity="0.15" stroke-linecap="round"/>
<line x1="198.5" y1="532.1" x2="185.5" y2="513.2" stroke="#66dc74" stroke-width="1.5" stroke-opacity="0.11" stroke-linecap="round"/>
<line x1="187.1" y1="523.6" x2="173.9" y2="503.3" stroke="#66dc74" stroke-width="2.6" stroke-opacity="0.15" stroke-linecap="round"/>
<line x1="200.7" y1="503.3" x2="183.3" y2="486.1" stroke="#66dc74" stroke-width="2.7" stroke-opacity="0.14" stroke-linecap="round"/>
<line x1="157.1" y1="505.1" x2="142.6" y2="489.7" stroke="#66dc74" stroke-width="2.8" stroke-opacity="0.09" stroke-linecap="round"/>
<line x1="172.6" y1="530.7" x2="153.6" y2="507.2" stroke="#66dc74" stroke-width="2.6" stroke-opacity="0.12" stroke-linecap="round"/>
<line x1="191.0" y1="481.8" x2="178.3" y2="470.2" stroke="#66dc74" stroke-width="1.9" stroke-opacity="0.12" stroke-linecap="round"/>
<line x1="155.6" y1="547.5" x2="134.2" y2="525.6" stroke="#66dc74" stroke-width="1.5" stroke-opacity="0.13" stroke-linecap="round"/>
<line x1="182.4" y1="525.2" x2="168.1" y2="506.6" stroke="#66dc74" stroke-width="3.1" stroke-opacity="0.12" stroke-linecap="round"/>
<line x1="202.7" y1="525.6" x2="180.4" y2="504.4" stroke="#66dc74" stroke-width="3.2" stroke-opacity="0.13" stroke-linecap="round"/>
<line x1="152.1" y1="524.6" x2="140.8" y2="513.0" stroke="#66dc74" stroke-width="1.7" stroke-opacity="0.09" stroke-linecap="round"/>
<line x1="206.2" y1="520.5" x2="177.8" y2="507.4" stroke="#66dc74" stroke-width="1.6" stroke-opacity="0.16" stroke-linecap="round"/>
<line x1="169.2" y1="522.5" x2="158.1" y2="509.9" stroke="#66dc74" stroke-width="2.7" stroke-opacity="0.10" stroke-linecap="round"/>
<line x1="201.6" y1="536.9" x2="182.4" y2="515.1" stroke="#66dc74" stroke-width="2.7" stroke-opacity="0.09" stroke-linecap="round"/>
<line x1="135.9" y1="494.5" x2="111.9" y2="475.4" stroke="#66dc74" stroke-width="1.9" stroke-opacity="0.17" stroke-linecap="round"/>
<line x1="170.1" y1="513.6" x2="146.6" y2="504.8" stroke="#66dc74" stroke-width="2.9" stroke-opacity="0.09" stroke-linecap="round"/>
<line x1="152.7" y1="544.0" x2="126.5" y2="530.8" stroke="#66dc74" stroke-width="2.3" stroke-opacity="0.09" stroke-linecap="round"/>
<line x1="140.7" y1="544.4" x2="120.5" y2="528.8" stroke="#66dc74" stroke-width="1.7" stroke-opacity="0.15" stroke-linecap="round"/>
<line x1="135.9" y1="544.6" x2="121.5" y2="530.2" stroke="#66dc74" stroke-width="2.1" stroke-opacity="0.15" stroke-linecap="round"/>
<line x1="198.6" y1="504.3" x2="185.4" y2="492.2" stroke="#66dc74" stroke-width="1.5" stroke-opacity="0.17" stroke-linecap="round"/>
<line x1="151.7" y1="482.6" x2="131.6" y2="469.4" stroke="#66dc74" stroke-width="3.2" stroke-opacity="0.16" stroke-linecap="round"/>
<line x1="148.7" y1="509.3" x2="124.9" y2="491.3" stroke="#66dc74" stroke-width="2.1" stroke-opacity="0.14" stroke-linecap="round"/>
<line x1="115.8" y1="488.6" x2="105.0" y2="474.7" stroke="#66dc74" stroke-width="1.4" stroke-opacity="0.11" stroke-linecap="round"/>
<line x1="130.0" y1="539.9" x2="112.0" y2="516.3" stroke="#66dc74" stroke-width="1.5" stroke-opacity="0.16" stroke-linecap="round"/>
</g>
<rect x="110.40" y="476.00" width="81.60" height="61.40" fill="url(#vg4)"/>
<text x="112.80" y="484.40" font-size="10" text-anchor="start" fill="#fff" stroke="#fff" stroke-width="0.2">10 nM AM580</text>
<rect x="184.40" y="534.20" width="5.20" height="1.50" fill="#fff" stroke="none" stroke-width="0"/>
<rect x="25.60" y="539.40" width="81.60" height="62.00" fill="url(#g5)"/>
<g clip-path="url(#cg5)" filter="url(#blur2)">
<circle cx="91.8" cy="593.2" r="0.9" fill="#2f68c8" fill-opacity="0.55"/>
<circle cx="72.3" cy="556.4" r="0.9" fill="#2f68c8" fill-opacity="0.55"/>
<circle cx="95.1" cy="589.4" r="0.9" fill="#2f68c8" fill-opacity="0.55"/>
<circle cx="81.5" cy="596.1" r="0.9" fill="#2f68c8" fill-opacity="0.55"/>
<circle cx="53.9" cy="544.7" r="0.9" fill="#2f68c8" fill-opacity="0.55"/>
<circle cx="70.8" cy="588.8" r="0.9" fill="#2f68c8" fill-opacity="0.55"/>
<circle cx="42.0" cy="585.9" r="0.9" fill="#2f68c8" fill-opacity="0.55"/>
<circle cx="101.6" cy="553.9" r="0.9" fill="#2f68c8" fill-opacity="0.55"/>
<circle cx="75.1" cy="581.4" r="0.9" fill="#2f68c8" fill-opacity="0.55"/>
<circle cx="63.6" cy="552.2" r="0.9" fill="#2f68c8" fill-opacity="0.55"/>
<circle cx="46.4" cy="586.0" r="0.9" fill="#2f68c8" fill-opacity="0.55"/>
<circle cx="90.2" cy="567.9" r="0.9" fill="#2f68c8" fill-opacity="0.55"/>
<circle cx="32.8" cy="589.4" r="0.9" fill="#2f68c8" fill-opacity="0.55"/>
<circle cx="88.6" cy="553.8" r="0.9" fill="#2f68c8" fill-opacity="0.55"/>
<circle cx="72.9" cy="595.0" r="0.9" fill="#2f68c8" fill-opacity="0.55"/>
<circle cx="97.8" cy="571.8" r="0.9" fill="#2f68c8" fill-opacity="0.55"/>
<circle cx="64.5" cy="575.9" r="0.9" fill="#2f68c8" fill-opacity="0.55"/>
<circle cx="41.0" cy="551.3" r="0.9" fill="#2f68c8" fill-opacity="0.55"/>
<circle cx="40.3" cy="582.9" r="0.9" fill="#2f68c8" fill-opacity="0.55"/>
<circle cx="55.2" cy="574.4" r="0.9" fill="#2f68c8" fill-opacity="0.55"/>
<circle cx="58.4" cy="571.5" r="0.9" fill="#2f68c8" fill-opacity="0.55"/>
<circle cx="37.8" cy="542.2" r="0.9" fill="#2f68c8" fill-opacity="0.55"/>
<circle cx="107.0" cy="562.6" r="0.9" fill="#2f68c8" fill-opacity="0.55"/>
<circle cx="34.3" cy="578.6" r="0.9" fill="#2f68c8" fill-opacity="0.55"/>
<circle cx="89.8" cy="549.1" r="0.9" fill="#2f68c8" fill-opacity="0.55"/>
<circle cx="74.3" cy="560.8" r="0.9" fill="#2f68c8" fill-opacity="0.55"/>
<circle cx="68.0" cy="540.7" r="0.9" fill="#2f68c8" fill-opacity="0.55"/>
<circle cx="28.3" cy="600.8" r="0.9" fill="#2f68c8" fill-opacity="0.55"/>
<circle cx="96.3" cy="569.6" r="0.9" fill="#2f68c8" fill-opacity="0.55"/>
<circle cx="71.9" cy="555.6" r="0.9" fill="#2f68c8" fill-opacity="0.55"/>
<circle cx="89.2" cy="565.8" r="0.9" fill="#2f68c8" fill-opacity="0.55"/>
<circle cx="102.8" cy="587.0" r="0.9" fill="#2f68c8" fill-opacity="0.55"/>
<circle cx="92.4" cy="599.1" r="0.9" fill="#2f68c8" fill-opacity="0.55"/>
<circle cx="46.3" cy="541.7" r="0.9" fill="#2f68c8" fill-opacity="0.55"/>
<circle cx="42.0" cy="550.6" r="0.9" fill="#2f68c8" fill-opacity="0.55"/>
<circle cx="32.4" cy="542.6" r="0.9" fill="#2f68c8" fill-opacity="0.55"/>
<circle cx="71.1" cy="593.4" r="0.9" fill="#2f68c8" fill-opacity="0.55"/>
<circle cx="63.0" cy="598.1" r="0.9" fill="#2f68c8" fill-opacity="0.55"/>
<circle cx="99.8" cy="543.4" r="0.9" fill="#2f68c8" fill-opacity="0.55"/>
<circle cx="74.4" cy="564.0" r="0.9" fill="#2f68c8" fill-opacity="0.55"/>
<circle cx="35.4" cy="598.9" r="0.9" fill="#2f68c8" fill-opacity="0.55"/>
<circle cx="46.6" cy="574.4" r="0.9" fill="#2f68c8" fill-opacity="0.55"/>
<circle cx="77.9" cy="598.7" r="0.9" fill="#2f68c8" fill-opacity="0.55"/>
<circle cx="80.2" cy="563.8" r="0.9" fill="#2f68c8" fill-opacity="0.55"/>
<circle cx="62.2" cy="549.3" r="0.9" fill="#2f68c8" fill-opacity="0.55"/>
</g>
<g clip-path="url(#cg5)" filter="url(#blur)">
<line x1="104.0" y1="565.7" x2="110.4" y2="554.7" stroke="#66dc74" stroke-width="1.9" stroke-opacity="0.15" stroke-linecap="round"/>
<line x1="101.7" y1="549.2" x2="112.7" y2="542.3" stroke="#66dc74" stroke-width="2.8" stroke-opacity="0.19" stroke-linecap="round"/>
<line x1="22.7" y1="546.3" x2="28.5" y2="532.5" stroke="#66dc74" stroke-width="2.8" stroke-opacity="0.21" stroke-linecap="round"/>
<line x1="52.5" y1="567.2" x2="72.2" y2="548.5" stroke="#66dc74" stroke-width="1.6" stroke-opacity="0.15" stroke-linecap="round"/>
<line x1="68.7" y1="595.1" x2="78.9" y2="583.6" stroke="#66dc74" stroke-width="1.8" stroke-opacity="0.13" stroke-linecap="round"/>
<line x1="66.0" y1="577.9" x2="78.6" y2="568.2" stroke="#66dc74" stroke-width="1.5" stroke-opacity="0.21" stroke-linecap="round"/>
<line x1="75.8" y1="609.1" x2="101.3" y2="593.7" stroke="#66dc74" stroke-width="1.7" stroke-opacity="0.16" stroke-linecap="round"/>
<line x1="96.8" y1="607.9" x2="117.6" y2="594.9" stroke="#66dc74" stroke-width="2.2" stroke-opacity="0.15" stroke-linecap="round"/>
<line x1="85.5" y1="556.2" x2="96.6" y2="546.3" stroke="#66dc74" stroke-width="1.8" stroke-opacity="0.12" stroke-linecap="round"/>
<line x1="58.6" y1="559.1" x2="71.8" y2="532.8" stroke="#66dc74" stroke-width="1.9" stroke-opacity="0.16" stroke-linecap="round"/>
<line x1="81.2" y1="597.9" x2="97.0" y2="588.0" stroke="#66dc74" stroke-width="1.7" stroke-opacity="0.16" stroke-linecap="round"/>
<line x1="38.6" y1="615.7" x2="52.0" y2="587.1" stroke="#66dc74" stroke-width="1.5" stroke-opacity="0.21" stroke-linecap="round"/>
<line x1="57.6" y1="568.4" x2="69.4" y2="555.1" stroke="#66dc74" stroke-width="1.9" stroke-opacity="0.13" stroke-linecap="round"/>
<line x1="11.8" y1="607.9" x2="39.4" y2="594.9" stroke="#66dc74" stroke-width="1.6" stroke-opacity="0.14" stroke-linecap="round"/>
<line x1="76.4" y1="576.8" x2="90.6" y2="566.0" stroke="#66dc74" stroke-width="3.2" stroke-opacity="0.11" stroke-linecap="round"/>
<line x1="82.3" y1="560.8" x2="87.7" y2="550.0" stroke="#66dc74" stroke-width="2.9" stroke-opacity="0.17" stroke-linecap="round"/>
<line x1="81.1" y1="604.9" x2="95.4" y2="597.0" stroke="#66dc74" stroke-width="2.4" stroke-opacity="0.13" stroke-linecap="round"/>
<line x1="92.1" y1="606.3" x2="104.6" y2="596.5" stroke="#66dc74" stroke-width="1.5" stroke-opacity="0.12" stroke-linecap="round"/>
<line x1="40.6" y1="565.1" x2="49.2" y2="551.5" stroke="#66dc74" stroke-width="2.5" stroke-opacity="0.19" stroke-linecap="round"/>
<line x1="87.6" y1="552.0" x2="94.1" y2="540.4" stroke="#66dc74" stroke-width="2.7" stroke-opacity="0.15" stroke-linecap="round"/>
<line x1="64.8" y1="573.5" x2="80.4" y2="563.2" stroke="#66dc74" stroke-width="2.9" stroke-opacity="0.21" stroke-linecap="round"/>
<line x1="59.4" y1="582.0" x2="78.2" y2="571.6" stroke="#66dc74" stroke-width="3.0" stroke-opacity="0.14" stroke-linecap="round"/>
<line x1="94.1" y1="607.5" x2="103.2" y2="595.3" stroke="#66dc74" stroke-width="2.1" stroke-opacity="0.18" stroke-linecap="round"/>
<line x1="100.0" y1="586.0" x2="114.4" y2="568.9" stroke="#66dc74" stroke-width="1.6" stroke-opacity="0.19" stroke-linecap="round"/>
<line x1="93.7" y1="550.2" x2="108.5" y2="528.6" stroke="#66dc74" stroke-width="2.1" stroke-opacity="0.19" stroke-linecap="round"/>
<line x1="97.5" y1="600.5" x2="116.9" y2="590.5" stroke="#66dc74" stroke-width="2.3" stroke-opacity="0.17" stroke-linecap="round"/>
<line x1="60.7" y1="579.1" x2="75.4" y2="571.8" stroke="#66dc74" stroke-width="1.7" stroke-opacity="0.12" stroke-linecap="round"/>
<line x1="71.9" y1="607.9" x2="76.9" y2="594.9" stroke="#66dc74" stroke-width="2.7" stroke-opacity="0.13" stroke-linecap="round"/>
<line x1="99.1" y1="588.1" x2="115.3" y2="572.5" stroke="#66dc74" stroke-width="2.7" stroke-opacity="0.12" stroke-linecap="round"/>
<line x1="104.5" y1="554.5" x2="109.9" y2="541.1" stroke="#66dc74" stroke-width="2.3" stroke-opacity="0.17" stroke-linecap="round"/>
<line x1="66.9" y1="594.8" x2="76.0" y2="583.2" stroke="#66dc74" stroke-width="2.5" stroke-opacity="0.20" stroke-linecap="round"/>
<line x1="94.0" y1="605.9" x2="106.3" y2="596.9" stroke="#66dc74" stroke-width="2.9" stroke-opacity="0.21" stroke-linecap="round"/>
<line x1="38.9" y1="599.3" x2="58.0" y2="587.3" stroke="#66dc74" stroke-width="2.1" stroke-opacity="0.21" stroke-linecap="round"/>
<line x1="74.8" y1="562.4" x2="84.3" y2="546.3" stroke="#66dc74" stroke-width="2.2" stroke-opacity="0.22" stroke-linecap="round"/>
<line x1="86.6" y1="547.4" x2="110.8" y2="531.4" stroke="#66dc74" stroke-width="1.5" stroke-opacity="0.17" stroke-linecap="round"/>
<line x1="101.9" y1="570.2" x2="112.5" y2="552.7" stroke="#66dc74" stroke-width="2.5" stroke-opacity="0.15" stroke-linecap="round"/>
<line x1="55.4" y1="583.3" x2="69.4" y2="566.3" stroke="#66dc74" stroke-width="1.4" stroke-opacity="0.13" stroke-linecap="round"/>
<line x1="96.3" y1="574.2" x2="118.1" y2="562.7" stroke="#66dc74" stroke-width="2.9" stroke-opacity="0.21" stroke-linecap="round"/>
<line x1="74.5" y1="577.9" x2="87.5" y2="566.6" stroke="#66dc74" stroke-width="2.6" stroke-opacity="0.14" stroke-linecap="round"/>
<line x1="19.3" y1="567.5" x2="31.9" y2="556.1" stroke="#66dc74" stroke-width="2.3" stroke-opacity="0.16" stroke-linecap="round"/>
<line x1="93.2" y1="580.8" x2="107.1" y2="560.0" stroke="#66dc74" stroke-width="1.6" stroke-opacity="0.18" stroke-linecap="round"/>
<line x1="101.5" y1="577.5" x2="112.9" y2="559.5" stroke="#66dc74" stroke-width="2.4" stroke-opacity="0.13" stroke-linecap="round"/>
<line x1="81.4" y1="594.3" x2="92.4" y2="577.4" stroke="#66dc74" stroke-width="1.9" stroke-opacity="0.14" stroke-linecap="round"/>
<line x1="97.0" y1="599.4" x2="117.4" y2="586.5" stroke="#66dc74" stroke-width="2.4" stroke-opacity="0.18" stroke-linecap="round"/>
<line x1="82.6" y1="610.1" x2="97.6" y2="592.7" stroke="#66dc74" stroke-width="2.5" stroke-opacity="0.16" stroke-linecap="round"/>
<line x1="60.0" y1="603.4" x2="71.1" y2="584.1" stroke="#66dc74" stroke-width="2.1" stroke-opacity="0.17" stroke-linecap="round"/>
<line x1="97.7" y1="582.7" x2="112.1" y2="574.0" stroke="#66dc74" stroke-width="2.4" stroke-opacity="0.16" stroke-linecap="round"/>
<line x1="46.1" y1="612.9" x2="61.1" y2="589.9" stroke="#66dc74" stroke-width="1.7" stroke-opacity="0.12" stroke-linecap="round"/>
<line x1="95.0" y1="566.4" x2="102.7" y2="548.2" stroke="#66dc74" stroke-width="2.2" stroke-opacity="0.19" stroke-linecap="round"/>
<line x1="80.6" y1="593.9" x2="104.5" y2="581.8" stroke="#66dc74" stroke-width="1.7" stroke-opacity="0.15" stroke-linecap="round"/>
<line x1="34.4" y1="611.2" x2="55.9" y2="591.6" stroke="#66dc74" stroke-width="2.9" stroke-opacity="0.17" stroke-linecap="round"/>
<line x1="62.0" y1="545.7" x2="79.5" y2="533.1" stroke="#66dc74" stroke-width="2.8" stroke-opacity="0.19" stroke-linecap="round"/>
<line x1="84.0" y1="573.1" x2="94.4" y2="566.9" stroke="#66dc74" stroke-width="2.8" stroke-opacity="0.17" stroke-linecap="round"/>
<line x1="18.3" y1="584.6" x2="32.9" y2="570.3" stroke="#66dc74" stroke-width="2.8" stroke-opacity="0.21" stroke-linecap="round"/>
<line x1="42.8" y1="569.5" x2="56.5" y2="553.4" stroke="#66dc74" stroke-width="2.7" stroke-opacity="0.14" stroke-linecap="round"/>
</g>
<rect x="25.60" y="539.40" width="81.60" height="62.00" fill="url(#vg5)"/>
<text x="28.00" y="547.80" font-size="10" text-anchor="start" fill="#fff" stroke="#fff" stroke-width="0.2">100 nM BMS961</text>
<rect x="99.60" y="598.20" width="5.20" height="1.50" fill="#fff" stroke="none" stroke-width="0"/>
<rect x="110.40" y="539.40" width="81.60" height="62.00" fill="url(#g6)"/>
<g clip-path="url(#cg6)" filter="url(#blur2)">
<circle cx="142.3" cy="573.8" r="0.9" fill="#2f68c8" fill-opacity="0.55"/>
<circle cx="141.8" cy="559.4" r="0.9" fill="#2f68c8" fill-opacity="0.55"/>
<circle cx="174.6" cy="592.1" r="0.9" fill="#2f68c8" fill-opacity="0.55"/>
<circle cx="151.2" cy="566.9" r="0.9" fill="#2f68c8" fill-opacity="0.55"/>
<circle cx="125.4" cy="558.3" r="0.9" fill="#2f68c8" fill-opacity="0.55"/>
<circle cx="122.2" cy="575.1" r="0.9" fill="#2f68c8" fill-opacity="0.55"/>
<circle cx="157.9" cy="544.9" r="0.9" fill="#2f68c8" fill-opacity="0.55"/>
<circle cx="185.5" cy="559.5" r="0.9" fill="#2f68c8" fill-opacity="0.55"/>
<circle cx="179.2" cy="591.4" r="0.9" fill="#2f68c8" fill-opacity="0.55"/>
<circle cx="188.6" cy="552.1" r="0.9" fill="#2f68c8" fill-opacity="0.55"/>
<circle cx="145.2" cy="595.9" r="0.9" fill="#2f68c8" fill-opacity="0.55"/>
<circle cx="111.3" cy="542.3" r="0.9" fill="#2f68c8" fill-opacity="0.55"/>
<circle cx="156.5" cy="570.2" r="0.9" fill="#2f68c8" fill-opacity="0.55"/>
<circle cx="185.5" cy="587.4" r="0.9" fill="#2f68c8" fill-opacity="0.55"/>
<circle cx="154.3" cy="601.3" r="0.9" fill="#2f68c8" fill-opacity="0.55"/>
<circle cx="152.6" cy="571.5" r="0.9" fill="#2f68c8" fill-opacity="0.55"/>
<circle cx="166.3" cy="563.6" r="0.9" fill="#2f68c8" fill-opacity="0.55"/>
<circle cx="139.6" cy="576.3" r="0.9" fill="#2f68c8" fill-opacity="0.55"/>
<circle cx="139.1" cy="598.2" r="0.9" fill="#2f68c8" fill-opacity="0.55"/>
<circle cx="165.6" cy="572.0" r="0.9" fill="#2f68c8" fill-opacity="0.55"/>
<circle cx="118.5" cy="562.6" r="0.9" fill="#2f68c8" fill-opacity="0.55"/>
<circle cx="143.1" cy="574.2" r="0.9" fill="#2f68c8" fill-opacity="0.55"/>
<circle cx="157.2" cy="593.9" r="0.9" fill="#2f68c8" fill-opacity="0.55"/>
<circle cx="189.1" cy="569.6" r="0.9" fill="#2f68c8" fill-opacity="0.55"/>
<circle cx="146.3" cy="578.1" r="0.9" fill="#2f68c8" fill-opacity="0.55"/>
<circle cx="191.7" cy="560.7" r="0.9" fill="#2f68c8" fill-opacity="0.55"/>
<circle cx="153.7" cy="590.0" r="0.9" fill="#2f68c8" fill-opacity="0.55"/>
<circle cx="124.3" cy="559.1" r="0.9" fill="#2f68c8" fill-opacity="0.55"/>
<circle cx="190.2" cy="590.6" r="0.9" fill="#2f68c8" fill-opacity="0.55"/>
<circle cx="152.2" cy="546.3" r="0.9" fill="#2f68c8" fill-opacity="0.55"/>
<circle cx="183.4" cy="582.2" r="0.9" fill="#2f68c8" fill-opacity="0.55"/>
<circle cx="177.4" cy="600.8" r="0.9" fill="#2f68c8" fill-opacity="0.55"/>
<circle cx="182.9" cy="565.5" r="0.9" fill="#2f68c8" fill-opacity="0.55"/>
<circle cx="123.2" cy="557.4" r="0.9" fill="#2f68c8" fill-opacity="0.55"/>
<circle cx="152.1" cy="570.7" r="0.9" fill="#2f68c8" fill-opacity="0.55"/>
<circle cx="125.7" cy="550.7" r="0.9" fill="#2f68c8" fill-opacity="0.55"/>
<circle cx="161.8" cy="576.8" r="0.9" fill="#2f68c8" fill-opacity="0.55"/>
<circle cx="139.2" cy="601.0" r="0.9" fill="#2f68c8" fill-opacity="0.55"/>
<circle cx="162.3" cy="542.0" r="0.9" fill="#2f68c8" fill-opacity="0.55"/>
<circle cx="144.0" cy="588.2" r="0.9" fill="#2f68c8" fill-opacity="0.55"/>
<circle cx="135.4" cy="582.2" r="0.9" fill="#2f68c8" fill-opacity="0.55"/>
<circle cx="110.7" cy="558.3" r="0.9" fill="#2f68c8" fill-opacity="0.55"/>
<circle cx="179.1" cy="575.7" r="0.9" fill="#2f68c8" fill-opacity="0.55"/>
<circle cx="164.9" cy="551.6" r="0.9" fill="#2f68c8" fill-opacity="0.55"/>
<circle cx="151.0" cy="573.7" r="0.9" fill="#2f68c8" fill-opacity="0.55"/>
</g>
<g clip-path="url(#cg6)" filter="url(#blur)">
<line x1="145.9" y1="617.4" x2="147.0" y2="585.4" stroke="#66dc74" stroke-width="2.4" stroke-opacity="0.14" stroke-linecap="round"/>
<line x1="163.1" y1="590.3" x2="166.9" y2="576.7" stroke="#66dc74" stroke-width="1.6" stroke-opacity="0.12" stroke-linecap="round"/>
<line x1="108.7" y1="581.0" x2="112.1" y2="553.0" stroke="#66dc74" stroke-width="1.5" stroke-opacity="0.10" stroke-linecap="round"/>
<line x1="152.8" y1="561.1" x2="157.1" y2="542.5" stroke="#66dc74" stroke-width="1.7" stroke-opacity="0.13" stroke-linecap="round"/>
<line x1="191.2" y1="610.9" x2="192.8" y2="591.9" stroke="#66dc74" stroke-width="2.2" stroke-opacity="0.14" stroke-linecap="round"/>
<line x1="190.7" y1="606.6" x2="193.3" y2="575.5" stroke="#66dc74" stroke-width="2.2" stroke-opacity="0.16" stroke-linecap="round"/>
<line x1="144.9" y1="594.0" x2="157.6" y2="567.8" stroke="#66dc74" stroke-width="2.0" stroke-opacity="0.19" stroke-linecap="round"/>
<line x1="160.7" y1="569.7" x2="164.0" y2="538.7" stroke="#66dc74" stroke-width="2.3" stroke-opacity="0.19" stroke-linecap="round"/>
<line x1="150.8" y1="606.1" x2="154.5" y2="590.1" stroke="#66dc74" stroke-width="2.0" stroke-opacity="0.19" stroke-linecap="round"/>
<line x1="112.5" y1="585.3" x2="108.3" y2="570.4" stroke="#66dc74" stroke-width="2.0" stroke-opacity="0.12" stroke-linecap="round"/>
<line x1="177.4" y1="577.0" x2="178.3" y2="562.7" stroke="#66dc74" stroke-width="2.4" stroke-opacity="0.14" stroke-linecap="round"/>
<line x1="146.8" y1="591.9" x2="135.9" y2="565.6" stroke="#66dc74" stroke-width="2.0" stroke-opacity="0.12" stroke-linecap="round"/>
<line x1="162.6" y1="598.5" x2="159.1" y2="586.3" stroke="#66dc74" stroke-width="2.6" stroke-opacity="0.13" stroke-linecap="round"/>
<line x1="183.3" y1="609.3" x2="176.1" y2="593.5" stroke="#66dc74" stroke-width="2.9" stroke-opacity="0.11" stroke-linecap="round"/>
<line x1="108.0" y1="597.2" x2="112.8" y2="582.7" stroke="#66dc74" stroke-width="2.0" stroke-opacity="0.17" stroke-linecap="round"/>
<line x1="115.1" y1="616.2" x2="105.7" y2="586.6" stroke="#66dc74" stroke-width="2.3" stroke-opacity="0.12" stroke-linecap="round"/>
<line x1="132.8" y1="585.8" x2="136.5" y2="568.9" stroke="#66dc74" stroke-width="3.0" stroke-opacity="0.16" stroke-linecap="round"/>
<line x1="133.7" y1="595.3" x2="135.5" y2="579.2" stroke="#66dc74" stroke-width="3.0" stroke-opacity="0.11" stroke-linecap="round"/>
<line x1="113.8" y1="584.3" x2="107.2" y2="557.6" stroke="#66dc74" stroke-width="2.1" stroke-opacity="0.17" stroke-linecap="round"/>
<line x1="126.3" y1="571.5" x2="124.8" y2="557.9" stroke="#66dc74" stroke-width="1.7" stroke-opacity="0.19" stroke-linecap="round"/>
<line x1="135.1" y1="612.1" x2="125.8" y2="590.7" stroke="#66dc74" stroke-width="2.1" stroke-opacity="0.15" stroke-linecap="round"/>
<line x1="149.3" y1="590.4" x2="146.1" y2="574.2" stroke="#66dc74" stroke-width="1.6" stroke-opacity="0.17" stroke-linecap="round"/>
<line x1="138.8" y1="610.7" x2="150.2" y2="585.7" stroke="#66dc74" stroke-width="3.0" stroke-opacity="0.19" stroke-linecap="round"/>
<line x1="175.0" y1="599.5" x2="162.9" y2="577.0" stroke="#66dc74" stroke-width="2.6" stroke-opacity="0.14" stroke-linecap="round"/>
<line x1="108.6" y1="600.8" x2="112.2" y2="584.2" stroke="#66dc74" stroke-width="2.9" stroke-opacity="0.14" stroke-linecap="round"/>
<line x1="142.9" y1="576.0" x2="131.0" y2="548.2" stroke="#66dc74" stroke-width="2.7" stroke-opacity="0.17" stroke-linecap="round"/>
<line x1="163.0" y1="582.8" x2="157.5" y2="567.8" stroke="#66dc74" stroke-width="1.9" stroke-opacity="0.14" stroke-linecap="round"/>
<line x1="177.4" y1="586.4" x2="179.6" y2="571.0" stroke="#66dc74" stroke-width="2.9" stroke-opacity="0.16" stroke-linecap="round"/>
<line x1="146.9" y1="567.7" x2="145.1" y2="542.1" stroke="#66dc74" stroke-width="2.0" stroke-opacity="0.10" stroke-linecap="round"/>
<line x1="181.2" y1="545.7" x2="178.3" y2="533.1" stroke="#66dc74" stroke-width="2.9" stroke-opacity="0.16" stroke-linecap="round"/>
<line x1="180.1" y1="591.7" x2="169.1" y2="566.2" stroke="#66dc74" stroke-width="1.8" stroke-opacity="0.19" stroke-linecap="round"/>
<line x1="149.1" y1="572.7" x2="153.2" y2="553.2" stroke="#66dc74" stroke-width="2.7" stroke-opacity="0.18" stroke-linecap="round"/>
<line x1="143.8" y1="593.2" x2="153.1" y2="574.9" stroke="#66dc74" stroke-width="3.1" stroke-opacity="0.17" stroke-linecap="round"/>
<line x1="145.4" y1="549.8" x2="148.2" y2="529.0" stroke="#66dc74" stroke-width="1.5" stroke-opacity="0.17" stroke-linecap="round"/>
<line x1="112.8" y1="593.0" x2="119.2" y2="579.9" stroke="#66dc74" stroke-width="2.8" stroke-opacity="0.10" stroke-linecap="round"/>
<line x1="136.7" y1="550.5" x2="131.1" y2="528.3" stroke="#66dc74" stroke-width="3.1" stroke-opacity="0.16" stroke-linecap="round"/>
<line x1="131.7" y1="577.0" x2="123.1" y2="559.8" stroke="#66dc74" stroke-width="2.1" stroke-opacity="0.12" stroke-linecap="round"/>
<line x1="141.9" y1="598.4" x2="147.4" y2="573.6" stroke="#66dc74" stroke-width="1.8" stroke-opacity="0.12" stroke-linecap="round"/>
<line x1="111.8" y1="579.4" x2="120.1" y2="562.4" stroke="#66dc74" stroke-width="1.9" stroke-opacity="0.19" stroke-linecap="round"/>
<line x1="180.0" y1="612.3" x2="175.1" y2="584.4" stroke="#66dc74" stroke-width="2.4" stroke-opacity="0.18" stroke-linecap="round"/>
<line x1="173.6" y1="612.0" x2="175.8" y2="590.8" stroke="#66dc74" stroke-width="2.8" stroke-opacity="0.18" stroke-linecap="round"/>
<line x1="172.7" y1="595.0" x2="170.3" y2="579.0" stroke="#66dc74" stroke-width="1.5" stroke-opacity="0.13" stroke-linecap="round"/>
<line x1="168.1" y1="608.5" x2="167.4" y2="594.3" stroke="#66dc74" stroke-width="2.0" stroke-opacity="0.15" stroke-linecap="round"/>
<line x1="140.9" y1="590.4" x2="135.6" y2="579.4" stroke="#66dc74" stroke-width="3.2" stroke-opacity="0.18" stroke-linecap="round"/>
<line x1="186.4" y1="603.5" x2="197.6" y2="583.1" stroke="#66dc74" stroke-width="1.6" stroke-opacity="0.15" stroke-linecap="round"/>
<line x1="131.5" y1="586.0" x2="132.1" y2="573.9" stroke="#66dc74" stroke-width="3.1" stroke-opacity="0.16" stroke-linecap="round"/>
<line x1="109.0" y1="547.8" x2="111.8" y2="531.0" stroke="#66dc74" stroke-width="1.8" stroke-opacity="0.11" stroke-linecap="round"/>
<line x1="188.9" y1="589.3" x2="195.1" y2="572.5" stroke="#66dc74" stroke-width="1.7" stroke-opacity="0.16" stroke-linecap="round"/>
<line x1="196.7" y1="552.4" x2="187.3" y2="526.4" stroke="#66dc74" stroke-width="2.9" stroke-opacity="0.17" stroke-linecap="round"/>
<line x1="138.5" y1="596.2" x2="144.6" y2="578.9" stroke="#66dc74" stroke-width="2.1" stroke-opacity="0.16" stroke-linecap="round"/>
<line x1="112.1" y1="607.6" x2="108.7" y2="595.2" stroke="#66dc74" stroke-width="2.4" stroke-opacity="0.16" stroke-linecap="round"/>
<line x1="166.5" y1="553.5" x2="179.2" y2="525.3" stroke="#66dc74" stroke-width="2.3" stroke-opacity="0.15" stroke-linecap="round"/>
<line x1="165.7" y1="597.8" x2="166.9" y2="584.2" stroke="#66dc74" stroke-width="2.6" stroke-opacity="0.12" stroke-linecap="round"/>
<line x1="113.1" y1="602.2" x2="107.7" y2="590.6" stroke="#66dc74" stroke-width="2.2" stroke-opacity="0.12" stroke-linecap="round"/>
<line x1="145.7" y1="585.3" x2="155.9" y2="558.0" stroke="#66dc74" stroke-width="2.8" stroke-opacity="0.14" stroke-linecap="round"/>
</g>
<rect x="110.40" y="539.40" width="81.60" height="62.00" fill="url(#vg6)"/>
<text x="112.80" y="547.80" font-size="10" text-anchor="start" fill="#fff" stroke="#fff" stroke-width="0.2">300 nM BMS961</text>
<rect x="184.40" y="598.20" width="5.20" height="1.50" fill="#fff" stroke="none" stroke-width="0"/>
<text x="215.40" y="401.40" font-size="15" text-anchor="start" fill="#111111" stroke="#111111" stroke-width="0.3">F</text>
<line x1="269.70" y1="488.60" x2="269.70" y2="491.40" stroke="#111111" stroke-width="1.0"/>
<line x1="268.20" y1="489.10" x2="271.20" y2="489.10" stroke="#111111" stroke-width="1.0"/>
<rect x="265.05" y="491.05" width="9.30" height="51.15" fill="#fff" stroke="#111111" stroke-width="1.3"/>
<text x="269.70" y="483.00" font-size="9.5" text-anchor="middle" fill="#111111" stroke="#111111" stroke-width="0.3">d</text>
<line x1="286.70" y1="447.20" x2="286.70" y2="450.40" stroke="#111111" stroke-width="1.0"/>
<line x1="285.20" y1="447.70" x2="288.20" y2="447.70" stroke="#111111" stroke-width="1.0"/>
<rect x="282.05" y="450.05" width="9.30" height="92.15" fill="#e5211d" stroke="#111111" stroke-width="1.3"/>
<text x="286.70" y="441.00" font-size="9.5" text-anchor="middle" fill="#111111" stroke="#111111" stroke-width="0.3">ab</text>
<line x1="303.70" y1="438.60" x2="303.70" y2="442.20" stroke="#111111" stroke-width="1.0"/>
<line x1="302.20" y1="439.10" x2="305.20" y2="439.10" stroke="#111111" stroke-width="1.0"/>
<rect x="299.05" y="441.85" width="9.30" height="100.35" fill="#efe52f" stroke="#111111" stroke-width="1.3"/>
<text x="303.70" y="434.40" font-size="9.5" text-anchor="middle" fill="#111111" stroke="#111111" stroke-width="0.3">a</text>
<line x1="321.00" y1="440.00" x2="321.00" y2="443.40" stroke="#111111" stroke-width="1.0"/>
<line x1="319.50" y1="440.50" x2="322.50" y2="440.50" stroke="#111111" stroke-width="1.0"/>
<rect x="316.35" y="443.05" width="9.30" height="99.15" fill="#efe52f" stroke="#111111" stroke-width="1.3"/>
<text x="321.00" y="434.40" font-size="9.5" text-anchor="middle" fill="#111111" stroke="#111111" stroke-width="0.3">a</text>
<line x1="337.90" y1="457.00" x2="337.90" y2="458.40" stroke="#111111" stroke-width="1.0"/>
<line x1="336.40" y1="457.50" x2="339.40" y2="457.50" stroke="#111111" stroke-width="1.0"/>
<rect x="333.25" y="458.05" width="9.30" height="84.15" fill="#139a3e" stroke="#111111" stroke-width="1.3"/>
<text x="337.90" y="450.00" font-size="9.5" text-anchor="middle" fill="#111111" stroke="#111111" stroke-width="0.3">bc</text>
<line x1="355.00" y1="461.60" x2="355.00" y2="463.00" stroke="#111111" stroke-width="1.0"/>
<line x1="353.50" y1="462.10" x2="356.50" y2="462.10" stroke="#111111" stroke-width="1.0"/>
<rect x="350.35" y="462.65" width="9.30" height="79.55" fill="#139a3e" stroke="#111111" stroke-width="1.3"/>
<text x="355.00" y="453.20" font-size="9.5" text-anchor="middle" fill="#111111" stroke="#111111" stroke-width="0.3">c</text>
<rect x="255.00" y="412.40" width="115.60" height="129.80" fill="none" stroke="#111111" stroke-width="1.1"/>
<line x1="255.00" y1="516.20" x2="257.50" y2="516.20" stroke="#111111" stroke-width="1.0"/>
<text x="249.60" y="519.30" font-size="9.5" text-anchor="end" fill="#111111" stroke="#111111" stroke-width="0.3" textLength="11.6" lengthAdjust="spacingAndGlyphs">0.5</text>
<line x1="255.00" y1="490.20" x2="257.50" y2="490.20" stroke="#111111" stroke-width="1.0"/>
<text x="249.60" y="493.30" font-size="9.5" text-anchor="end" fill="#111111" stroke="#111111" stroke-width="0.3" textLength="11.6" lengthAdjust="spacingAndGlyphs">1.0</text>
<line x1="255.00" y1="464.20" x2="257.50" y2="464.20" stroke="#111111" stroke-width="1.0"/>
<text x="249.60" y="467.30" font-size="9.5" text-anchor="end" fill="#111111" stroke="#111111" stroke-width="0.3" textLength="11.6" lengthAdjust="spacingAndGlyphs">1.5</text>
<line x1="255.00" y1="438.20" x2="257.50" y2="438.20" stroke="#111111" stroke-width="1.0"/>
<text x="249.60" y="441.30" font-size="9.5" text-anchor="end" fill="#111111" stroke="#111111" stroke-width="0.3" textLength="11.6" lengthAdjust="spacingAndGlyphs">2.0</text>
<text x="249.60" y="415.30" font-size="9.5" text-anchor="end" fill="#111111" stroke="#111111" stroke-width="0.3" textLength="11.6" lengthAdjust="spacingAndGlyphs">2.5</text>
<text x="241.00" y="545.40" font-size="9.5" text-anchor="middle" fill="#111111" stroke="#111111" stroke-width="0.3">0</text>
<text x="316.20" y="407.00" font-size="9.5" text-anchor="middle" fill="#111111" stroke="#111111" stroke-width="0.3">Differentiation index</text>
<text x="257.00" y="554.40" font-size="9.5" text-anchor="end" fill="#111111" stroke="#111111" stroke-width="0.3">ATRA (nM)</text>
<text x="257.00" y="567.60" font-size="9.5" text-anchor="end" fill="#111111" stroke="#111111" stroke-width="0.3">AM580 (nM)</text>
<text x="253.00" y="582.00" font-size="9.5" text-anchor="end" fill="#111111" stroke="#111111" stroke-width="0.3" textLength="49" lengthAdjust="spacingAndGlyphs">BMS961 (nM)</text>
<text x="269.70" y="557.10" font-size="17" text-anchor="middle" fill="#111111" stroke="#111111" stroke-width="0.4">−</text>
<text x="286.70" y="554.40" font-size="9.5" text-anchor="middle" fill="#111111" stroke="#111111" stroke-width="0.3">10</text>
<text x="303.70" y="557.10" font-size="17" text-anchor="middle" fill="#111111" stroke="#111111" stroke-width="0.4">−</text>
<text x="321.00" y="557.10" font-size="17" text-anchor="middle" fill="#111111" stroke="#111111" stroke-width="0.4">−</text>
<text x="337.90" y="557.10" font-size="17" text-anchor="middle" fill="#111111" stroke="#111111" stroke-width="0.4">−</text>
<text x="355.00" y="557.10" font-size="17" text-anchor="middle" fill="#111111" stroke="#111111" stroke-width="0.4">−</text>
<text x="269.70" y="570.70" font-size="17" text-anchor="middle" fill="#111111" stroke="#111111" stroke-width="0.4">−</text>
<text x="286.70" y="570.70" font-size="17" text-anchor="middle" fill="#111111" stroke="#111111" stroke-width="0.4">−</text>
<text x="303.70" y="567.60" font-size="9.5" text-anchor="middle" fill="#111111" stroke="#111111" stroke-width="0.3">3</text>
<text x="321.00" y="567.60" font-size="9.5" text-anchor="middle" fill="#111111" stroke="#111111" stroke-width="0.3">10</text>
<text x="337.90" y="570.70" font-size="17" text-anchor="middle" fill="#111111" stroke="#111111" stroke-width="0.4">−</text>
<text x="355.00" y="570.70" font-size="17" text-anchor="middle" fill="#111111" stroke="#111111" stroke-width="0.4">−</text>
<text x="269.70" y="583.70" font-size="17" text-anchor="middle" fill="#111111" stroke="#111111" stroke-width="0.4">−</text>
<text x="286.70" y="583.70" font-size="17" text-anchor="middle" fill="#111111" stroke="#111111" stroke-width="0.4">−</text>
<text x="303.70" y="583.70" font-size="17" text-anchor="middle" fill="#111111" stroke="#111111" stroke-width="0.4">−</text>
<text x="321.00" y="583.70" font-size="17" text-anchor="middle" fill="#111111" stroke="#111111" stroke-width="0.4">−</text>
<text x="337.90" y="582.00" font-size="9.5" text-anchor="middle" fill="#111111" stroke="#111111" stroke-width="0.3" textLength="12.8" lengthAdjust="spacingAndGlyphs">100</text>
<text x="356.00" y="582.00" font-size="9.5" text-anchor="middle" fill="#111111" stroke="#111111" stroke-width="0.3" textLength="12.8" lengthAdjust="spacingAndGlyphs">300</text>
<text x="219.20" y="474.60" font-size="9.5" text-anchor="middle" fill="#111111" stroke="#111111" stroke-width="0.3" transform="rotate(-90 219.20 474.60)">Differentiation index</text>
<text x="230.60" y="474.60" font-size="9.1" text-anchor="middle" fill="#111111" stroke="#111111" stroke-width="0.3" transform="rotate(-90 230.60 474.60)">(Relative value)</text>
<line x1="438.80" y1="488.60" x2="438.80" y2="491.40" stroke="#111111" stroke-width="1.0"/>
<line x1="437.30" y1="489.10" x2="440.30" y2="489.10" stroke="#111111" stroke-width="1.0"/>
<rect x="434.25" y="491.05" width="9.10" height="51.15" fill="#fff" stroke="#111111" stroke-width="1.3"/>
<text x="438.80" y="483.00" font-size="9.5" text-anchor="middle" fill="#111111" stroke="#111111" stroke-width="0.3">d</text>
<line x1="455.60" y1="447.20" x2="455.60" y2="450.40" stroke="#111111" stroke-width="1.0"/>
<line x1="454.10" y1="447.70" x2="457.10" y2="447.70" stroke="#111111" stroke-width="1.0"/>
<rect x="451.05" y="450.05" width="9.10" height="92.15" fill="#e5211d" stroke="#111111" stroke-width="1.3"/>
<text x="455.60" y="441.00" font-size="9.5" text-anchor="middle" fill="#111111" stroke="#111111" stroke-width="0.3">ab</text>
<line x1="472.20" y1="438.60" x2="472.20" y2="442.20" stroke="#111111" stroke-width="1.0"/>
<line x1="470.70" y1="439.10" x2="473.70" y2="439.10" stroke="#111111" stroke-width="1.0"/>
<rect x="467.65" y="441.85" width="9.10" height="100.35" fill="#efe52f" stroke="#111111" stroke-width="1.3"/>
<text x="472.20" y="434.40" font-size="9.5" text-anchor="middle" fill="#111111" stroke="#111111" stroke-width="0.3">a</text>
<line x1="488.90" y1="440.00" x2="488.90" y2="443.40" stroke="#111111" stroke-width="1.0"/>
<line x1="487.40" y1="440.50" x2="490.40" y2="440.50" stroke="#111111" stroke-width="1.0"/>
<rect x="484.35" y="443.05" width="9.10" height="99.15" fill="#efe52f" stroke="#111111" stroke-width="1.3"/>
<text x="488.90" y="434.40" font-size="9.5" text-anchor="middle" fill="#111111" stroke="#111111" stroke-width="0.3">a</text>
<line x1="505.60" y1="457.00" x2="505.60" y2="458.40" stroke="#111111" stroke-width="1.0"/>
<line x1="504.10" y1="457.50" x2="507.10" y2="457.50" stroke="#111111" stroke-width="1.0"/>
<rect x="501.05" y="458.05" width="9.10" height="84.15" fill="#139a3e" stroke="#111111" stroke-width="1.3"/>
<text x="505.60" y="450.00" font-size="9.5" text-anchor="middle" fill="#111111" stroke="#111111" stroke-width="0.3">bc</text>
<line x1="522.50" y1="461.60" x2="522.50" y2="463.00" stroke="#111111" stroke-width="1.0"/>
<line x1="521.00" y1="462.10" x2="524.00" y2="462.10" stroke="#111111" stroke-width="1.0"/>
<rect x="517.95" y="462.65" width="9.10" height="79.55" fill="#139a3e" stroke="#111111" stroke-width="1.3"/>
<text x="522.50" y="453.20" font-size="9.5" text-anchor="middle" fill="#111111" stroke="#111111" stroke-width="0.3">c</text>
<rect x="424.40" y="412.40" width="115.60" height="129.80" fill="none" stroke="#111111" stroke-width="1.1"/>
<line x1="424.40" y1="516.20" x2="426.90" y2="516.20" stroke="#111111" stroke-width="1.0"/>
<text x="419.00" y="519.30" font-size="9.5" text-anchor="end" fill="#111111" stroke="#111111" stroke-width="0.3" textLength="11.6" lengthAdjust="spacingAndGlyphs">0.5</text>
<line x1="424.40" y1="490.20" x2="426.90" y2="490.20" stroke="#111111" stroke-width="1.0"/>
<text x="419.00" y="493.30" font-size="9.5" text-anchor="end" fill="#111111" stroke="#111111" stroke-width="0.3" textLength="11.6" lengthAdjust="spacingAndGlyphs">1.0</text>
<line x1="424.40" y1="464.20" x2="426.90" y2="464.20" stroke="#111111" stroke-width="1.0"/>
<text x="419.00" y="467.30" font-size="9.5" text-anchor="end" fill="#111111" stroke="#111111" stroke-width="0.3" textLength="11.6" lengthAdjust="spacingAndGlyphs">1.5</text>
<line x1="424.40" y1="438.20" x2="426.90" y2="438.20" stroke="#111111" stroke-width="1.0"/>
<text x="419.00" y="441.30" font-size="9.5" text-anchor="end" fill="#111111" stroke="#111111" stroke-width="0.3" textLength="11.6" lengthAdjust="spacingAndGlyphs">2.0</text>
<text x="419.00" y="415.30" font-size="9.5" text-anchor="end" fill="#111111" stroke="#111111" stroke-width="0.3" textLength="11.6" lengthAdjust="spacingAndGlyphs">2.5</text>
<text x="410.40" y="545.40" font-size="9.5" text-anchor="middle" fill="#111111" stroke="#111111" stroke-width="0.3">0</text>
<text x="483.20" y="407.00" font-size="9.5" text-anchor="middle" fill="#111111" stroke="#111111" stroke-width="0.3">Fusion index</text>
<text x="426.00" y="555.40" font-size="9.5" text-anchor="end" fill="#111111" stroke="#111111" stroke-width="0.3">ATRA (nM)</text>
<text x="427.00" y="569.00" font-size="9.5" text-anchor="end" fill="#111111" stroke="#111111" stroke-width="0.3">AM580 (nM)</text>
<text x="422.00" y="583.00" font-size="9.5" text-anchor="end" fill="#111111" stroke="#111111" stroke-width="0.3" textLength="49" lengthAdjust="spacingAndGlyphs">BMS961 (nM)</text>
<text x="438.80" y="558.70" font-size="17" text-anchor="middle" fill="#111111" stroke="#111111" stroke-width="0.4">−</text>
<text x="455.60" y="555.40" font-size="9.5" text-anchor="middle" fill="#111111" stroke="#111111" stroke-width="0.3">10</text>
<text x="472.20" y="558.70" font-size="17" text-anchor="middle" fill="#111111" stroke="#111111" stroke-width="0.4">−</text>
<text x="488.90" y="558.70" font-size="17" text-anchor="middle" fill="#111111" stroke="#111111" stroke-width="0.4">−</text>
<text x="505.60" y="558.70" font-size="17" text-anchor="middle" fill="#111111" stroke="#111111" stroke-width="0.4">−</text>
<text x="522.50" y="558.70" font-size="17" text-anchor="middle" fill="#111111" stroke="#111111" stroke-width="0.4">−</text>
<text x="438.80" y="571.70" font-size="17" text-anchor="middle" fill="#111111" stroke="#111111" stroke-width="0.4">−</text>
<text x="455.60" y="571.70" font-size="17" text-anchor="middle" fill="#111111" stroke="#111111" stroke-width="0.4">−</text>
<text x="472.20" y="569.00" font-size="9.5" text-anchor="middle" fill="#111111" stroke="#111111" stroke-width="0.3">3</text>
<text x="488.90" y="569.00" font-size="9.5" text-anchor="middle" fill="#111111" stroke="#111111" stroke-width="0.3">10</text>
<text x="505.60" y="571.70" font-size="17" text-anchor="middle" fill="#111111" stroke="#111111" stroke-width="0.4">−</text>
<text x="522.50" y="571.70" font-size="17" text-anchor="middle" fill="#111111" stroke="#111111" stroke-width="0.4">−</text>
<text x="438.80" y="585.30" font-size="17" text-anchor="middle" fill="#111111" stroke="#111111" stroke-width="0.4">−</text>
<text x="455.60" y="585.30" font-size="17" text-anchor="middle" fill="#111111" stroke="#111111" stroke-width="0.4">−</text>
<text x="472.20" y="585.30" font-size="17" text-anchor="middle" fill="#111111" stroke="#111111" stroke-width="0.4">−</text>
<text x="488.90" y="585.30" font-size="17" text-anchor="middle" fill="#111111" stroke="#111111" stroke-width="0.4">−</text>
<text x="505.60" y="583.00" font-size="9.5" text-anchor="middle" fill="#111111" stroke="#111111" stroke-width="0.3" textLength="12.8" lengthAdjust="spacingAndGlyphs">100</text>
<text x="524.70" y="583.00" font-size="9.5" text-anchor="middle" fill="#111111" stroke="#111111" stroke-width="0.3" textLength="12.8" lengthAdjust="spacingAndGlyphs">300</text>
<text x="400.00" y="478.50" font-size="9.5" text-anchor="middle" fill="#111111" stroke="#111111" stroke-width="0.3" transform="rotate(-90 400.00 478.50)">Fusion index (Relative value)</text>
<text x="8.80" y="626.40" font-size="15" text-anchor="start" fill="#111111" stroke="#111111" stroke-width="0.3">G</text>
<text x="76.70" y="628.00" font-size="10" text-anchor="middle" fill="#111111" font-style="italic" stroke="#111111" stroke-width="0.3">Lgr6</text>
<line x1="68.30" y1="638.40" x2="68.30" y2="655.00" stroke="#111111" stroke-width="1.3"/>
<line x1="66.30" y1="639.05" x2="70.30" y2="639.05" stroke="#111111" stroke-width="1.3"/>
<rect x="62.30" y="655.10" width="12.00" height="108.70" fill="#fff" stroke="#111111" stroke-width="1.4"/>
<line x1="88.20" y1="699.00" x2="88.20" y2="714.00" stroke="#111111" stroke-width="1.3"/>
<line x1="86.20" y1="699.65" x2="90.20" y2="699.65" stroke="#111111" stroke-width="1.3"/>
<rect x="82.70" y="714.10" width="11.00" height="49.70" fill="#0ea64d" stroke="#111111" stroke-width="1.4"/>
<rect x="49.20" y="632.40" width="51.20" height="131.40" fill="none" stroke="#111111" stroke-width="1.4"/>
<line x1="49.20" y1="741.90" x2="52.20" y2="741.90" stroke="#111111" stroke-width="1.1"/>
<text x="46.80" y="745.50" font-size="10" text-anchor="end" fill="#111111" stroke="#111111" stroke-width="0.3">0.2</text>
<line x1="49.20" y1="720.00" x2="52.20" y2="720.00" stroke="#111111" stroke-width="1.1"/>
<text x="46.80" y="723.60" font-size="10" text-anchor="end" fill="#111111" stroke="#111111" stroke-width="0.3">0.4</text>
<line x1="49.20" y1="698.10" x2="52.20" y2="698.10" stroke="#111111" stroke-width="1.1"/>
<text x="46.80" y="701.70" font-size="10" text-anchor="end" fill="#111111" stroke="#111111" stroke-width="0.3">0.6</text>
<line x1="49.20" y1="676.20" x2="52.20" y2="676.20" stroke="#111111" stroke-width="1.1"/>
<text x="46.80" y="679.80" font-size="10" text-anchor="end" fill="#111111" stroke="#111111" stroke-width="0.3">0.8</text>
<line x1="49.20" y1="654.30" x2="52.20" y2="654.30" stroke="#111111" stroke-width="1.1"/>
<text x="46.80" y="657.90" font-size="10" text-anchor="end" fill="#111111" stroke="#111111" stroke-width="0.3">1.0</text>
<text x="38.20" y="767.60" font-size="10" text-anchor="end" fill="#111111" stroke="#111111" stroke-width="0.3">0</text>
<text x="46.80" y="635.00" font-size="10" text-anchor="end" fill="#111111" stroke="#111111" stroke-width="0.3">1.2</text>
<text x="28.00" y="698.00" font-size="10" text-anchor="middle" fill="#111111" stroke="#111111" stroke-width="0.3" transform="rotate(-90 28.00 698.00)">Relative mRNA expression</text>
<text x="88.20" y="698.00" font-size="10" text-anchor="middle" fill="#444" stroke="#444" stroke-width="0.3">*</text>
<text x="72.00" y="775.00" font-size="10" text-anchor="end" fill="#111111" stroke="#111111" stroke-width="0.3" transform="rotate(-17 72.00 775.00)">siControl</text>
<text x="94.50" y="778.00" font-size="10" text-anchor="end" fill="#111111" stroke="#111111" stroke-width="0.3" transform="rotate(-18 94.50 778.00)">siLGR6</text>
<text x="112.10" y="626.40" font-size="15" text-anchor="start" fill="#111111" stroke="#111111" stroke-width="0.3">H</text>
<text x="193.80" y="626.40" font-size="10" text-anchor="end" fill="#2f9e4e" stroke="#2f9e4e" stroke-width="0.3">MyHC</text>
<text x="198.20" y="626.40" font-size="10" text-anchor="middle" fill="#111111" stroke="#111111" stroke-width="0.3">/</text>
<text x="202.80" y="626.40" font-size="10" text-anchor="start" fill="#3557a6" stroke="#3557a6" stroke-width="0.3">DAPI</text>
<line x1="126.00" y1="630.90" x2="297.00" y2="630.90" stroke="#1c1c1c" stroke-width="1.5"/>
<text x="172.20" y="642.50" font-size="10" text-anchor="middle" fill="#111111" stroke="#111111" stroke-width="0.5">DMSO</text>
<text x="258.50" y="642.50" font-size="10" text-anchor="middle" fill="#111111" stroke="#111111" stroke-width="0.5">ATRA</text>
<text x="122.30" y="675.40" font-size="10.2" text-anchor="middle" fill="#111111" stroke="#111111" stroke-width="0.5" transform="rotate(-90 122.30 675.40)">siControl</text>
<text x="122.30" y="736.70" font-size="10.2" text-anchor="middle" fill="#111111" stroke="#111111" stroke-width="0.4" transform="rotate(-90 122.30 736.70)">siLGR6</text>
<rect x="125.40" y="645.00" width="84.00" height="62.80" fill="url(#g7)"/>
<rect x="125.40" y="645.00" width="84.00" height="62.80" fill="url(#hg7)"/>
<g clip-path="url(#cg7)" filter="url(#blur2)">
<circle cx="149.2" cy="686.6" r="0.8" fill="#2a58b8" fill-opacity="0.5"/>
<circle cx="168.6" cy="671.5" r="0.8" fill="#2a58b8" fill-opacity="0.5"/>
<circle cx="153.8" cy="672.5" r="0.8" fill="#2a58b8" fill-opacity="0.5"/>
<circle cx="181.4" cy="696.9" r="0.8" fill="#2a58b8" fill-opacity="0.5"/>
<circle cx="201.3" cy="655.3" r="0.8" fill="#2a58b8" fill-opacity="0.5"/>
<circle cx="150.2" cy="672.8" r="0.8" fill="#2a58b8" fill-opacity="0.5"/>
<circle cx="172.7" cy="666.9" r="0.8" fill="#2a58b8" fill-opacity="0.5"/>
<circle cx="141.8" cy="650.3" r="0.8" fill="#2a58b8" fill-opacity="0.5"/>
<circle cx="152.6" cy="673.9" r="0.8" fill="#2a58b8" fill-opacity="0.5"/>
<circle cx="207.0" cy="702.1" r="0.8" fill="#2a58b8" fill-opacity="0.5"/>
<circle cx="198.1" cy="706.2" r="0.8" fill="#2a58b8" fill-opacity="0.5"/>
<circle cx="206.2" cy="683.9" r="0.8" fill="#2a58b8" fill-opacity="0.5"/>
<circle cx="193.5" cy="648.8" r="0.8" fill="#2a58b8" fill-opacity="0.5"/>
<circle cx="182.2" cy="683.3" r="0.8" fill="#2a58b8" fill-opacity="0.5"/>
<circle cx="150.4" cy="680.9" r="0.8" fill="#2a58b8" fill-opacity="0.5"/>
<circle cx="205.4" cy="675.2" r="0.8" fill="#2a58b8" fill-opacity="0.5"/>
<circle cx="179.8" cy="663.8" r="0.8" fill="#2a58b8" fill-opacity="0.5"/>
<circle cx="154.2" cy="700.6" r="0.8" fill="#2a58b8" fill-opacity="0.5"/>
<circle cx="127.7" cy="656.9" r="0.8" fill="#2a58b8" fill-opacity="0.5"/>
<circle cx="182.4" cy="673.1" r="0.8" fill="#2a58b8" fill-opacity="0.5"/>
<circle cx="132.6" cy="686.5" r="0.8" fill="#2a58b8" fill-opacity="0.5"/>
<circle cx="156.6" cy="681.5" r="0.8" fill="#2a58b8" fill-opacity="0.5"/>
<circle cx="160.4" cy="678.3" r="0.8" fill="#2a58b8" fill-opacity="0.5"/>
<circle cx="172.8" cy="669.9" r="0.8" fill="#2a58b8" fill-opacity="0.5"/>
<circle cx="135.0" cy="656.3" r="0.8" fill="#2a58b8" fill-opacity="0.5"/>
<circle cx="200.2" cy="679.4" r="0.8" fill="#2a58b8" fill-opacity="0.5"/>
<circle cx="134.8" cy="699.1" r="0.8" fill="#2a58b8" fill-opacity="0.5"/>
<circle cx="146.7" cy="651.0" r="0.8" fill="#2a58b8" fill-opacity="0.5"/>
<circle cx="170.0" cy="660.8" r="0.8" fill="#2a58b8" fill-opacity="0.5"/>
<circle cx="166.5" cy="679.8" r="0.8" fill="#2a58b8" fill-opacity="0.5"/>
<circle cx="144.4" cy="681.0" r="0.8" fill="#2a58b8" fill-opacity="0.5"/>
<circle cx="134.9" cy="677.2" r="0.8" fill="#2a58b8" fill-opacity="0.5"/>
<circle cx="174.8" cy="650.0" r="0.8" fill="#2a58b8" fill-opacity="0.5"/>
<circle cx="159.7" cy="649.6" r="0.8" fill="#2a58b8" fill-opacity="0.5"/>
<circle cx="162.3" cy="699.2" r="0.8" fill="#2a58b8" fill-opacity="0.5"/>
<circle cx="171.6" cy="689.9" r="0.8" fill="#2a58b8" fill-opacity="0.5"/>
<circle cx="189.0" cy="652.2" r="0.8" fill="#2a58b8" fill-opacity="0.5"/>
<circle cx="208.6" cy="690.3" r="0.8" fill="#2a58b8" fill-opacity="0.5"/>
<circle cx="134.0" cy="697.1" r="0.8" fill="#2a58b8" fill-opacity="0.5"/>
<circle cx="158.3" cy="655.8" r="0.8" fill="#2a58b8" fill-opacity="0.5"/>
<circle cx="206.0" cy="680.4" r="0.8" fill="#2a58b8" fill-opacity="0.5"/>
<circle cx="190.5" cy="653.6" r="0.8" fill="#2a58b8" fill-opacity="0.5"/>
<circle cx="190.6" cy="648.6" r="0.8" fill="#2a58b8" fill-opacity="0.5"/>
<circle cx="145.3" cy="668.4" r="0.8" fill="#2a58b8" fill-opacity="0.5"/>
<circle cx="126.7" cy="682.3" r="0.8" fill="#2a58b8" fill-opacity="0.5"/>
<circle cx="143.3" cy="663.8" r="0.8" fill="#2a58b8" fill-opacity="0.5"/>
<circle cx="184.8" cy="671.8" r="0.8" fill="#2a58b8" fill-opacity="0.5"/>
<circle cx="200.0" cy="684.0" r="0.8" fill="#2a58b8" fill-opacity="0.5"/>
<circle cx="198.7" cy="680.4" r="0.8" fill="#2a58b8" fill-opacity="0.5"/>
<circle cx="202.5" cy="699.7" r="0.8" fill="#2a58b8" fill-opacity="0.5"/>
<circle cx="139.5" cy="691.8" r="0.8" fill="#2a58b8" fill-opacity="0.5"/>
<circle cx="154.1" cy="693.0" r="0.8" fill="#2a58b8" fill-opacity="0.5"/>
<circle cx="182.6" cy="696.8" r="0.8" fill="#2a58b8" fill-opacity="0.5"/>
<circle cx="135.7" cy="668.4" r="0.8" fill="#2a58b8" fill-opacity="0.5"/>
<circle cx="187.3" cy="704.5" r="0.8" fill="#2a58b8" fill-opacity="0.5"/>
<circle cx="186.0" cy="647.7" r="0.8" fill="#2a58b8" fill-opacity="0.5"/>
<circle cx="176.1" cy="651.3" r="0.8" fill="#2a58b8" fill-opacity="0.5"/>
<circle cx="171.5" cy="695.4" r="0.8" fill="#2a58b8" fill-opacity="0.5"/>
<circle cx="134.9" cy="703.1" r="0.8" fill="#2a58b8" fill-opacity="0.5"/>
<circle cx="182.1" cy="661.0" r="0.8" fill="#2a58b8" fill-opacity="0.5"/>
<circle cx="141.6" cy="673.1" r="0.8" fill="#2a58b8" fill-opacity="0.5"/>
<circle cx="195.8" cy="681.5" r="0.8" fill="#2a58b8" fill-opacity="0.5"/>
<circle cx="134.9" cy="646.3" r="0.8" fill="#2a58b8" fill-opacity="0.5"/>
<circle cx="134.7" cy="695.3" r="0.8" fill="#2a58b8" fill-opacity="0.5"/>
<circle cx="141.0" cy="679.8" r="0.8" fill="#2a58b8" fill-opacity="0.5"/>
<circle cx="149.8" cy="688.2" r="0.8" fill="#2a58b8" fill-opacity="0.5"/>
<circle cx="157.4" cy="654.1" r="0.8" fill="#2a58b8" fill-opacity="0.5"/>
<circle cx="198.9" cy="678.8" r="0.8" fill="#2a58b8" fill-opacity="0.5"/>
<circle cx="183.3" cy="695.8" r="0.8" fill="#2a58b8" fill-opacity="0.5"/>
<circle cx="205.1" cy="645.9" r="0.8" fill="#2a58b8" fill-opacity="0.5"/>
<circle cx="154.2" cy="654.5" r="0.8" fill="#2a58b8" fill-opacity="0.5"/>
<circle cx="167.5" cy="699.8" r="0.8" fill="#2a58b8" fill-opacity="0.5"/>
<circle cx="192.6" cy="647.2" r="0.8" fill="#2a58b8" fill-opacity="0.5"/>
<circle cx="140.7" cy="696.4" r="0.8" fill="#2a58b8" fill-opacity="0.5"/>
<circle cx="182.5" cy="669.7" r="0.8" fill="#2a58b8" fill-opacity="0.5"/>
<circle cx="165.4" cy="654.9" r="0.8" fill="#2a58b8" fill-opacity="0.5"/>
<circle cx="196.4" cy="669.7" r="0.8" fill="#2a58b8" fill-opacity="0.5"/>
<circle cx="198.7" cy="683.4" r="0.8" fill="#2a58b8" fill-opacity="0.5"/>
<circle cx="131.8" cy="665.7" r="0.8" fill="#2a58b8" fill-opacity="0.5"/>
<circle cx="143.6" cy="701.1" r="0.8" fill="#2a58b8" fill-opacity="0.5"/>
<circle cx="174.9" cy="647.7" r="0.8" fill="#2a58b8" fill-opacity="0.5"/>
<circle cx="139.7" cy="667.7" r="0.8" fill="#2a58b8" fill-opacity="0.5"/>
<circle cx="164.7" cy="681.2" r="0.8" fill="#2a58b8" fill-opacity="0.5"/>
<circle cx="158.0" cy="667.2" r="0.8" fill="#2a58b8" fill-opacity="0.5"/>
<circle cx="125.9" cy="681.4" r="0.8" fill="#2a58b8" fill-opacity="0.5"/>
<circle cx="153.4" cy="646.3" r="0.8" fill="#2a58b8" fill-opacity="0.5"/>
<circle cx="164.0" cy="706.9" r="0.8" fill="#2a58b8" fill-opacity="0.5"/>
<circle cx="129.2" cy="654.2" r="0.8" fill="#2a58b8" fill-opacity="0.5"/>
<circle cx="181.8" cy="662.1" r="0.8" fill="#2a58b8" fill-opacity="0.5"/>
<circle cx="148.4" cy="676.4" r="0.8" fill="#2a58b8" fill-opacity="0.5"/>
<circle cx="147.4" cy="680.7" r="0.8" fill="#2a58b8" fill-opacity="0.5"/>
<circle cx="169.8" cy="705.1" r="0.8" fill="#2a58b8" fill-opacity="0.5"/>
<circle cx="208.7" cy="647.1" r="0.8" fill="#2a58b8" fill-opacity="0.5"/>
<circle cx="172.5" cy="693.4" r="0.8" fill="#2a58b8" fill-opacity="0.5"/>
<circle cx="198.7" cy="693.6" r="0.8" fill="#2a58b8" fill-opacity="0.5"/>
<circle cx="178.6" cy="684.9" r="0.8" fill="#2a58b8" fill-opacity="0.5"/>
<circle cx="155.9" cy="662.7" r="0.8" fill="#2a58b8" fill-opacity="0.5"/>
<circle cx="192.2" cy="699.8" r="0.8" fill="#2a58b8" fill-opacity="0.5"/>
<circle cx="204.2" cy="687.8" r="0.8" fill="#2a58b8" fill-opacity="0.5"/>
<circle cx="150.9" cy="692.9" r="0.8" fill="#2a58b8" fill-opacity="0.5"/>
<circle cx="187.5" cy="677.0" r="0.8" fill="#2a58b8" fill-opacity="0.5"/>
<circle cx="178.8" cy="667.0" r="0.8" fill="#2a58b8" fill-opacity="0.5"/>
<circle cx="171.7" cy="670.5" r="0.8" fill="#2a58b8" fill-opacity="0.5"/>
<circle cx="130.5" cy="666.2" r="0.8" fill="#2a58b8" fill-opacity="0.5"/>
<circle cx="152.5" cy="707.1" r="0.8" fill="#2a58b8" fill-opacity="0.5"/>
<circle cx="165.8" cy="668.1" r="0.8" fill="#2a58b8" fill-opacity="0.5"/>
<circle cx="145.8" cy="659.7" r="0.8" fill="#2a58b8" fill-opacity="0.5"/>
<circle cx="154.7" cy="653.5" r="0.8" fill="#2a58b8" fill-opacity="0.5"/>
<circle cx="126.0" cy="699.7" r="0.8" fill="#2a58b8" fill-opacity="0.5"/>
<circle cx="163.5" cy="673.0" r="0.8" fill="#2a58b8" fill-opacity="0.5"/>
<circle cx="173.2" cy="664.0" r="0.8" fill="#2a58b8" fill-opacity="0.5"/>
<circle cx="139.6" cy="649.2" r="0.8" fill="#2a58b8" fill-opacity="0.5"/>
<circle cx="150.7" cy="664.4" r="0.8" fill="#2a58b8" fill-opacity="0.5"/>
<circle cx="186.4" cy="679.6" r="0.8" fill="#2a58b8" fill-opacity="0.5"/>
<circle cx="204.1" cy="666.4" r="0.8" fill="#2a58b8" fill-opacity="0.5"/>
<circle cx="202.8" cy="681.6" r="0.8" fill="#2a58b8" fill-opacity="0.5"/>
<circle cx="132.1" cy="656.2" r="0.8" fill="#2a58b8" fill-opacity="0.5"/>
<circle cx="174.2" cy="707.0" r="0.8" fill="#2a58b8" fill-opacity="0.5"/>
<circle cx="155.4" cy="693.6" r="0.8" fill="#2a58b8" fill-opacity="0.5"/>
<circle cx="161.4" cy="699.5" r="0.8" fill="#2a58b8" fill-opacity="0.5"/>
<circle cx="131.1" cy="675.4" r="0.8" fill="#2a58b8" fill-opacity="0.5"/>
<circle cx="200.9" cy="662.3" r="0.8" fill="#2a58b8" fill-opacity="0.5"/>
<circle cx="147.0" cy="646.4" r="0.8" fill="#2a58b8" fill-opacity="0.5"/>
<circle cx="139.2" cy="661.8" r="0.8" fill="#2a58b8" fill-opacity="0.5"/>
<circle cx="184.6" cy="658.7" r="0.8" fill="#2a58b8" fill-opacity="0.5"/>
<circle cx="159.0" cy="657.6" r="0.8" fill="#2a58b8" fill-opacity="0.5"/>
<circle cx="176.0" cy="699.3" r="0.8" fill="#2a58b8" fill-opacity="0.5"/>
<circle cx="179.8" cy="657.4" r="0.8" fill="#2a58b8" fill-opacity="0.5"/>
<circle cx="187.0" cy="705.5" r="0.8" fill="#2a58b8" fill-opacity="0.5"/>
<circle cx="175.9" cy="650.0" r="0.8" fill="#2a58b8" fill-opacity="0.5"/>
<circle cx="193.4" cy="700.0" r="0.8" fill="#2a58b8" fill-opacity="0.5"/>
<circle cx="154.1" cy="653.6" r="0.8" fill="#2a58b8" fill-opacity="0.5"/>
<circle cx="141.2" cy="678.7" r="0.8" fill="#2a58b8" fill-opacity="0.5"/>
<circle cx="198.9" cy="685.2" r="0.8" fill="#2a58b8" fill-opacity="0.5"/>
<circle cx="202.9" cy="658.3" r="0.8" fill="#2a58b8" fill-opacity="0.5"/>
<circle cx="152.8" cy="692.1" r="0.8" fill="#2a58b8" fill-opacity="0.5"/>
<circle cx="179.9" cy="670.5" r="0.8" fill="#2a58b8" fill-opacity="0.5"/>
<circle cx="182.4" cy="666.2" r="0.8" fill="#2a58b8" fill-opacity="0.5"/>
<circle cx="130.2" cy="671.0" r="0.8" fill="#2a58b8" fill-opacity="0.5"/>
<circle cx="129.2" cy="684.3" r="0.8" fill="#2a58b8" fill-opacity="0.5"/>
<circle cx="153.5" cy="676.0" r="0.8" fill="#2a58b8" fill-opacity="0.5"/>
<circle cx="175.6" cy="661.1" r="0.8" fill="#2a58b8" fill-opacity="0.5"/>
<circle cx="164.3" cy="645.9" r="0.8" fill="#2a58b8" fill-opacity="0.5"/>
<circle cx="203.1" cy="680.4" r="0.8" fill="#2a58b8" fill-opacity="0.5"/>
<circle cx="208.4" cy="648.5" r="0.8" fill="#2a58b8" fill-opacity="0.5"/>
<circle cx="177.0" cy="690.5" r="0.8" fill="#2a58b8" fill-opacity="0.5"/>
<circle cx="153.0" cy="650.9" r="0.8" fill="#2a58b8" fill-opacity="0.5"/>
<circle cx="138.5" cy="654.0" r="0.8" fill="#2a58b8" fill-opacity="0.5"/>
<circle cx="189.8" cy="650.6" r="0.8" fill="#2a58b8" fill-opacity="0.5"/>
<circle cx="193.8" cy="671.6" r="0.8" fill="#2a58b8" fill-opacity="0.5"/>
<circle cx="170.6" cy="682.0" r="0.8" fill="#2a58b8" fill-opacity="0.5"/>
<circle cx="172.0" cy="686.3" r="0.8" fill="#2a58b8" fill-opacity="0.5"/>
<circle cx="175.9" cy="665.8" r="0.8" fill="#2a58b8" fill-opacity="0.5"/>
<circle cx="187.7" cy="661.2" r="0.8" fill="#2a58b8" fill-opacity="0.5"/>
<circle cx="185.2" cy="692.9" r="0.8" fill="#2a58b8" fill-opacity="0.5"/>
<circle cx="190.6" cy="664.4" r="0.8" fill="#2a58b8" fill-opacity="0.5"/>
<circle cx="190.3" cy="706.4" r="0.8" fill="#2a58b8" fill-opacity="0.5"/>
<circle cx="163.5" cy="662.5" r="0.8" fill="#2a58b8" fill-opacity="0.5"/>
<circle cx="169.4" cy="704.1" r="0.8" fill="#2a58b8" fill-opacity="0.5"/>
<circle cx="136.5" cy="645.6" r="0.8" fill="#2a58b8" fill-opacity="0.5"/>
<circle cx="165.4" cy="686.2" r="0.8" fill="#2a58b8" fill-opacity="0.5"/>
<circle cx="190.4" cy="667.8" r="0.8" fill="#2a58b8" fill-opacity="0.5"/>
<circle cx="208.5" cy="659.3" r="0.8" fill="#2a58b8" fill-opacity="0.5"/>
<circle cx="189.0" cy="650.6" r="0.8" fill="#2a58b8" fill-opacity="0.5"/>
<circle cx="127.7" cy="653.4" r="0.8" fill="#2a58b8" fill-opacity="0.5"/>
<circle cx="130.5" cy="676.5" r="0.8" fill="#2a58b8" fill-opacity="0.5"/>
<circle cx="172.0" cy="656.4" r="0.8" fill="#2a58b8" fill-opacity="0.5"/>
<circle cx="204.3" cy="668.0" r="0.8" fill="#2a58b8" fill-opacity="0.5"/>
<circle cx="137.9" cy="656.1" r="0.8" fill="#2a58b8" fill-opacity="0.5"/>
<circle cx="187.4" cy="702.9" r="0.8" fill="#2a58b8" fill-opacity="0.5"/>
<circle cx="139.0" cy="646.8" r="0.8" fill="#2a58b8" fill-opacity="0.5"/>
<circle cx="190.8" cy="660.2" r="0.8" fill="#2a58b8" fill-opacity="0.5"/>
<circle cx="207.9" cy="676.3" r="0.8" fill="#2a58b8" fill-opacity="0.5"/>
<circle cx="178.8" cy="666.6" r="0.8" fill="#2a58b8" fill-opacity="0.5"/>
<circle cx="192.6" cy="673.9" r="0.8" fill="#2a58b8" fill-opacity="0.5"/>
<circle cx="152.6" cy="701.7" r="0.8" fill="#2a58b8" fill-opacity="0.5"/>
<circle cx="134.5" cy="691.1" r="0.8" fill="#2a58b8" fill-opacity="0.5"/>
<circle cx="130.9" cy="685.5" r="0.8" fill="#2a58b8" fill-opacity="0.5"/>
<circle cx="159.2" cy="699.3" r="0.8" fill="#2a58b8" fill-opacity="0.5"/>
<circle cx="130.4" cy="680.4" r="0.8" fill="#2a58b8" fill-opacity="0.5"/>
<circle cx="159.8" cy="702.7" r="0.8" fill="#2a58b8" fill-opacity="0.5"/>
<circle cx="204.8" cy="684.4" r="0.8" fill="#2a58b8" fill-opacity="0.5"/>
<circle cx="144.2" cy="660.8" r="0.8" fill="#2a58b8" fill-opacity="0.5"/>
<circle cx="147.4" cy="672.2" r="0.8" fill="#2a58b8" fill-opacity="0.5"/>
<circle cx="144.8" cy="657.8" r="0.8" fill="#2a58b8" fill-opacity="0.5"/>
<circle cx="189.2" cy="685.4" r="0.8" fill="#2a58b8" fill-opacity="0.5"/>
<circle cx="150.5" cy="707.4" r="0.8" fill="#2a58b8" fill-opacity="0.5"/>
<circle cx="143.6" cy="680.8" r="0.8" fill="#2a58b8" fill-opacity="0.5"/>
<circle cx="138.6" cy="699.2" r="0.8" fill="#2a58b8" fill-opacity="0.5"/>
<circle cx="198.4" cy="661.8" r="0.8" fill="#2a58b8" fill-opacity="0.5"/>
<circle cx="188.5" cy="696.7" r="0.8" fill="#2a58b8" fill-opacity="0.5"/>
<circle cx="149.1" cy="665.8" r="0.8" fill="#2a58b8" fill-opacity="0.5"/>
<circle cx="166.2" cy="701.0" r="0.8" fill="#2a58b8" fill-opacity="0.5"/>
<circle cx="139.0" cy="687.9" r="0.8" fill="#2a58b8" fill-opacity="0.5"/>
<circle cx="175.6" cy="673.5" r="0.8" fill="#2a58b8" fill-opacity="0.5"/>
<circle cx="174.1" cy="700.4" r="0.8" fill="#2a58b8" fill-opacity="0.5"/>
<circle cx="143.0" cy="700.5" r="0.8" fill="#2a58b8" fill-opacity="0.5"/>
<circle cx="155.7" cy="694.0" r="0.8" fill="#2a58b8" fill-opacity="0.5"/>
<circle cx="197.9" cy="656.4" r="0.8" fill="#2a58b8" fill-opacity="0.5"/>
<circle cx="198.0" cy="707.5" r="0.8" fill="#2a58b8" fill-opacity="0.5"/>
<circle cx="150.4" cy="646.5" r="0.8" fill="#2a58b8" fill-opacity="0.5"/>
<circle cx="134.8" cy="706.2" r="0.8" fill="#2a58b8" fill-opacity="0.5"/>
<circle cx="126.2" cy="702.2" r="0.8" fill="#2a58b8" fill-opacity="0.5"/>
<circle cx="138.1" cy="691.2" r="0.8" fill="#2a58b8" fill-opacity="0.5"/>
<circle cx="133.6" cy="655.6" r="0.8" fill="#2a58b8" fill-opacity="0.5"/>
<circle cx="182.8" cy="650.7" r="0.8" fill="#2a58b8" fill-opacity="0.5"/>
<circle cx="153.9" cy="702.7" r="0.8" fill="#2a58b8" fill-opacity="0.5"/>
<circle cx="185.6" cy="700.4" r="0.8" fill="#2a58b8" fill-opacity="0.5"/>
<circle cx="207.7" cy="647.1" r="0.8" fill="#2a58b8" fill-opacity="0.5"/>
<circle cx="145.1" cy="694.7" r="0.8" fill="#2a58b8" fill-opacity="0.5"/>
<circle cx="183.3" cy="647.4" r="0.8" fill="#2a58b8" fill-opacity="0.5"/>
<circle cx="167.8" cy="659.5" r="0.8" fill="#2a58b8" fill-opacity="0.5"/>
<circle cx="161.6" cy="651.6" r="0.8" fill="#2a58b8" fill-opacity="0.5"/>
<circle cx="127.1" cy="707.2" r="0.8" fill="#2a58b8" fill-opacity="0.5"/>
<circle cx="152.0" cy="700.2" r="0.8" fill="#2a58b8" fill-opacity="0.5"/>
<circle cx="135.5" cy="675.6" r="0.8" fill="#2a58b8" fill-opacity="0.5"/>
<circle cx="136.8" cy="671.9" r="0.8" fill="#2a58b8" fill-opacity="0.5"/>
<circle cx="140.4" cy="688.0" r="0.8" fill="#2a58b8" fill-opacity="0.5"/>
<circle cx="137.8" cy="691.4" r="0.8" fill="#2a58b8" fill-opacity="0.5"/>
<circle cx="167.5" cy="652.1" r="0.8" fill="#2a58b8" fill-opacity="0.5"/>
<circle cx="155.1" cy="676.2" r="0.8" fill="#2a58b8" fill-opacity="0.5"/>
<circle cx="202.6" cy="666.9" r="0.8" fill="#2a58b8" fill-opacity="0.5"/>
<circle cx="143.5" cy="705.8" r="0.8" fill="#2a58b8" fill-opacity="0.5"/>
<circle cx="199.6" cy="690.9" r="0.8" fill="#2a58b8" fill-opacity="0.5"/>
<circle cx="148.3" cy="656.1" r="0.8" fill="#2a58b8" fill-opacity="0.5"/>
<circle cx="147.6" cy="649.3" r="0.8" fill="#2a58b8" fill-opacity="0.5"/>
<circle cx="129.0" cy="676.9" r="0.8" fill="#2a58b8" fill-opacity="0.5"/>
<circle cx="159.7" cy="680.0" r="0.8" fill="#2a58b8" fill-opacity="0.5"/>
<circle cx="155.9" cy="645.7" r="0.8" fill="#2a58b8" fill-opacity="0.5"/>
<circle cx="183.2" cy="686.0" r="0.8" fill="#2a58b8" fill-opacity="0.5"/>
<circle cx="171.1" cy="679.5" r="0.8" fill="#2a58b8" fill-opacity="0.5"/>
<circle cx="183.4" cy="706.7" r="0.8" fill="#2a58b8" fill-opacity="0.5"/>
<circle cx="198.8" cy="690.1" r="0.8" fill="#2a58b8" fill-opacity="0.5"/>
<circle cx="158.9" cy="665.0" r="0.8" fill="#2a58b8" fill-opacity="0.5"/>
<circle cx="160.6" cy="706.1" r="0.8" fill="#2a58b8" fill-opacity="0.5"/>
<circle cx="157.9" cy="669.2" r="0.8" fill="#2a58b8" fill-opacity="0.5"/>
<circle cx="159.8" cy="654.0" r="0.8" fill="#2a58b8" fill-opacity="0.5"/>
<circle cx="209.3" cy="645.3" r="0.8" fill="#2a58b8" fill-opacity="0.5"/>
<circle cx="176.5" cy="703.2" r="0.8" fill="#2a58b8" fill-opacity="0.5"/>
<circle cx="146.8" cy="683.4" r="0.8" fill="#2a58b8" fill-opacity="0.5"/>
<circle cx="157.1" cy="660.1" r="0.8" fill="#2a58b8" fill-opacity="0.5"/>
<circle cx="142.1" cy="652.3" r="0.8" fill="#2a58b8" fill-opacity="0.5"/>
<circle cx="196.2" cy="694.2" r="0.8" fill="#2a58b8" fill-opacity="0.5"/>
<circle cx="201.7" cy="648.1" r="0.8" fill="#2a58b8" fill-opacity="0.5"/>
<circle cx="183.7" cy="665.4" r="0.8" fill="#2a58b8" fill-opacity="0.5"/>
<circle cx="179.7" cy="679.5" r="0.8" fill="#2a58b8" fill-opacity="0.5"/>
<circle cx="151.9" cy="706.0" r="0.8" fill="#2a58b8" fill-opacity="0.5"/>
<circle cx="125.5" cy="691.9" r="0.8" fill="#2a58b8" fill-opacity="0.5"/>
<circle cx="197.1" cy="677.0" r="0.8" fill="#2a58b8" fill-opacity="0.5"/>
<circle cx="175.2" cy="707.5" r="0.8" fill="#2a58b8" fill-opacity="0.5"/>
<circle cx="145.1" cy="684.5" r="0.8" fill="#2a58b8" fill-opacity="0.5"/>
<circle cx="187.8" cy="668.8" r="0.8" fill="#2a58b8" fill-opacity="0.5"/>
<circle cx="185.2" cy="669.7" r="0.8" fill="#2a58b8" fill-opacity="0.5"/>
<circle cx="169.6" cy="683.5" r="0.8" fill="#2a58b8" fill-opacity="0.5"/>
<circle cx="182.3" cy="665.2" r="0.8" fill="#2a58b8" fill-opacity="0.5"/>
<circle cx="178.2" cy="679.1" r="0.8" fill="#2a58b8" fill-opacity="0.5"/>
<circle cx="144.2" cy="683.5" r="0.8" fill="#2a58b8" fill-opacity="0.5"/>
<circle cx="147.7" cy="702.1" r="0.8" fill="#2a58b8" fill-opacity="0.5"/>
<circle cx="165.2" cy="690.3" r="0.8" fill="#2a58b8" fill-opacity="0.5"/>
<circle cx="169.3" cy="674.9" r="0.8" fill="#2a58b8" fill-opacity="0.5"/>
</g>
<g clip-path="url(#cg7)" filter="url(#blur3)">
<line x1="166.0" y1="682.7" x2="164.6" y2="674.6" stroke="#48d080" stroke-width="1.0" stroke-opacity="0.47" stroke-linecap="round"/>
<line x1="172.2" y1="663.8" x2="166.2" y2="655.1" stroke="#48d080" stroke-width="1.0" stroke-opacity="0.51" stroke-linecap="round"/>
<line x1="184.5" y1="647.1" x2="183.5" y2="642.9" stroke="#48d080" stroke-width="0.9" stroke-opacity="0.57" stroke-linecap="round"/>
<line x1="169.4" y1="665.3" x2="165.9" y2="660.3" stroke="#48d080" stroke-width="0.7" stroke-opacity="0.42" stroke-linecap="round"/>
<line x1="172.6" y1="654.2" x2="170.6" y2="650.0" stroke="#48d080" stroke-width="0.9" stroke-opacity="0.62" stroke-linecap="round"/>
<line x1="157.6" y1="658.7" x2="153.3" y2="649.3" stroke="#48d080" stroke-width="1.2" stroke-opacity="0.36" stroke-linecap="round"/>
<line x1="155.8" y1="659.2" x2="153.5" y2="653.8" stroke="#48d080" stroke-width="0.9" stroke-opacity="0.42" stroke-linecap="round"/>
<line x1="162.7" y1="675.7" x2="157.9" y2="668.6" stroke="#48d080" stroke-width="0.6" stroke-opacity="0.37" stroke-linecap="round"/>
<line x1="161.3" y1="660.4" x2="158.4" y2="655.2" stroke="#48d080" stroke-width="1.3" stroke-opacity="0.34" stroke-linecap="round"/>
<line x1="138.0" y1="649.7" x2="133.9" y2="643.6" stroke="#48d080" stroke-width="1.2" stroke-opacity="0.50" stroke-linecap="round"/>
<line x1="160.4" y1="676.6" x2="157.3" y2="670.4" stroke="#48d080" stroke-width="1.2" stroke-opacity="0.40" stroke-linecap="round"/>
<line x1="138.6" y1="685.8" x2="137.0" y2="679.2" stroke="#48d080" stroke-width="0.9" stroke-opacity="0.49" stroke-linecap="round"/>
<line x1="176.1" y1="670.2" x2="174.6" y2="660.7" stroke="#48d080" stroke-width="0.9" stroke-opacity="0.52" stroke-linecap="round"/>
<line x1="160.3" y1="678.8" x2="158.4" y2="672.0" stroke="#48d080" stroke-width="1.0" stroke-opacity="0.46" stroke-linecap="round"/>
<line x1="194.7" y1="658.2" x2="189.2" y2="651.4" stroke="#48d080" stroke-width="1.0" stroke-opacity="0.45" stroke-linecap="round"/>
<line x1="177.1" y1="661.4" x2="172.5" y2="651.3" stroke="#48d080" stroke-width="1.0" stroke-opacity="0.46" stroke-linecap="round"/>
<line x1="127.0" y1="672.7" x2="123.8" y2="663.2" stroke="#48d080" stroke-width="0.9" stroke-opacity="0.32" stroke-linecap="round"/>
<line x1="153.2" y1="657.0" x2="150.5" y2="647.2" stroke="#48d080" stroke-width="0.7" stroke-opacity="0.38" stroke-linecap="round"/>
<line x1="198.9" y1="685.5" x2="196.1" y2="681.7" stroke="#48d080" stroke-width="1.2" stroke-opacity="0.48" stroke-linecap="round"/>
<line x1="194.2" y1="681.9" x2="191.9" y2="674.4" stroke="#48d080" stroke-width="0.6" stroke-opacity="0.52" stroke-linecap="round"/>
<line x1="139.7" y1="685.6" x2="138.3" y2="675.2" stroke="#48d080" stroke-width="1.3" stroke-opacity="0.36" stroke-linecap="round"/>
<line x1="154.2" y1="691.1" x2="146.6" y2="681.9" stroke="#48d080" stroke-width="0.8" stroke-opacity="0.39" stroke-linecap="round"/>
<line x1="157.9" y1="685.4" x2="156.1" y2="677.1" stroke="#48d080" stroke-width="1.0" stroke-opacity="0.44" stroke-linecap="round"/>
<line x1="181.3" y1="679.4" x2="179.1" y2="669.3" stroke="#48d080" stroke-width="1.3" stroke-opacity="0.39" stroke-linecap="round"/>
<line x1="166.6" y1="678.2" x2="163.9" y2="671.8" stroke="#48d080" stroke-width="1.0" stroke-opacity="0.46" stroke-linecap="round"/>
<line x1="146.6" y1="665.3" x2="145.2" y2="659.9" stroke="#48d080" stroke-width="1.3" stroke-opacity="0.48" stroke-linecap="round"/>
<line x1="181.9" y1="677.8" x2="179.1" y2="671.1" stroke="#48d080" stroke-width="1.1" stroke-opacity="0.41" stroke-linecap="round"/>
<line x1="160.1" y1="702.0" x2="155.2" y2="693.6" stroke="#48d080" stroke-width="1.2" stroke-opacity="0.49" stroke-linecap="round"/>
<line x1="127.8" y1="685.4" x2="123.0" y2="675.5" stroke="#48d080" stroke-width="0.6" stroke-opacity="0.44" stroke-linecap="round"/>
<line x1="159.4" y1="668.5" x2="158.4" y2="664.1" stroke="#48d080" stroke-width="1.1" stroke-opacity="0.37" stroke-linecap="round"/>
<line x1="188.0" y1="664.5" x2="186.0" y2="656.8" stroke="#48d080" stroke-width="1.1" stroke-opacity="0.52" stroke-linecap="round"/>
<line x1="159.8" y1="683.0" x2="158.6" y2="678.0" stroke="#48d080" stroke-width="1.3" stroke-opacity="0.37" stroke-linecap="round"/>
<line x1="172.3" y1="679.9" x2="169.3" y2="668.7" stroke="#48d080" stroke-width="0.9" stroke-opacity="0.51" stroke-linecap="round"/>
<line x1="161.8" y1="706.7" x2="160.2" y2="701.7" stroke="#48d080" stroke-width="0.6" stroke-opacity="0.53" stroke-linecap="round"/>
<line x1="203.3" y1="680.4" x2="200.3" y2="675.3" stroke="#48d080" stroke-width="1.1" stroke-opacity="0.41" stroke-linecap="round"/>
<line x1="152.5" y1="670.0" x2="151.3" y2="663.5" stroke="#48d080" stroke-width="1.3" stroke-opacity="0.36" stroke-linecap="round"/>
<line x1="182.1" y1="646.9" x2="180.2" y2="643.1" stroke="#48d080" stroke-width="0.9" stroke-opacity="0.51" stroke-linecap="round"/>
<line x1="169.9" y1="692.6" x2="165.3" y2="686.5" stroke="#48d080" stroke-width="1.2" stroke-opacity="0.44" stroke-linecap="round"/>
<line x1="159.3" y1="665.6" x2="158.1" y2="660.7" stroke="#48d080" stroke-width="1.3" stroke-opacity="0.62" stroke-linecap="round"/>
<line x1="188.8" y1="665.9" x2="185.3" y2="660.1" stroke="#48d080" stroke-width="1.2" stroke-opacity="0.46" stroke-linecap="round"/>
<line x1="173.9" y1="672.1" x2="169.3" y2="662.2" stroke="#48d080" stroke-width="1.1" stroke-opacity="0.48" stroke-linecap="round"/>
<line x1="175.9" y1="679.4" x2="170.1" y2="669.9" stroke="#48d080" stroke-width="1.3" stroke-opacity="0.38" stroke-linecap="round"/>
<line x1="170.1" y1="673.8" x2="165.9" y2="662.8" stroke="#48d080" stroke-width="0.9" stroke-opacity="0.60" stroke-linecap="round"/>
<line x1="161.3" y1="669.2" x2="157.6" y2="662.6" stroke="#48d080" stroke-width="0.8" stroke-opacity="0.54" stroke-linecap="round"/>
<line x1="180.3" y1="697.0" x2="178.0" y2="693.1" stroke="#48d080" stroke-width="1.0" stroke-opacity="0.34" stroke-linecap="round"/>
<line x1="129.5" y1="664.9" x2="126.8" y2="657.7" stroke="#48d080" stroke-width="0.6" stroke-opacity="0.47" stroke-linecap="round"/>
<line x1="190.5" y1="686.6" x2="185.5" y2="679.6" stroke="#48d080" stroke-width="0.9" stroke-opacity="0.43" stroke-linecap="round"/>
<line x1="160.0" y1="666.8" x2="153.4" y2="657.3" stroke="#48d080" stroke-width="0.9" stroke-opacity="0.57" stroke-linecap="round"/>
<line x1="181.4" y1="659.2" x2="178.6" y2="655.4" stroke="#48d080" stroke-width="1.3" stroke-opacity="0.35" stroke-linecap="round"/>
<line x1="139.5" y1="673.7" x2="134.9" y2="667.5" stroke="#48d080" stroke-width="0.7" stroke-opacity="0.48" stroke-linecap="round"/>
<line x1="145.1" y1="672.5" x2="141.1" y2="666.5" stroke="#48d080" stroke-width="0.8" stroke-opacity="0.35" stroke-linecap="round"/>
<line x1="168.2" y1="706.9" x2="163.6" y2="696.8" stroke="#48d080" stroke-width="0.6" stroke-opacity="0.60" stroke-linecap="round"/>
<line x1="127.9" y1="676.6" x2="124.4" y2="667.7" stroke="#48d080" stroke-width="0.8" stroke-opacity="0.54" stroke-linecap="round"/>
<line x1="174.8" y1="683.0" x2="170.3" y2="677.5" stroke="#48d080" stroke-width="1.0" stroke-opacity="0.40" stroke-linecap="round"/>
<line x1="171.1" y1="668.7" x2="168.9" y2="663.2" stroke="#48d080" stroke-width="1.1" stroke-opacity="0.55" stroke-linecap="round"/>
<line x1="163.7" y1="668.4" x2="159.0" y2="660.9" stroke="#48d080" stroke-width="1.4" stroke-opacity="0.32" stroke-linecap="round"/>
<line x1="140.3" y1="657.1" x2="138.7" y2="650.6" stroke="#48d080" stroke-width="1.2" stroke-opacity="0.45" stroke-linecap="round"/>
<line x1="166.5" y1="672.6" x2="165.3" y2="665.4" stroke="#48d080" stroke-width="0.9" stroke-opacity="0.34" stroke-linecap="round"/>
<line x1="165.1" y1="698.1" x2="163.5" y2="693.2" stroke="#48d080" stroke-width="0.9" stroke-opacity="0.35" stroke-linecap="round"/>
<line x1="170.8" y1="685.7" x2="165.0" y2="675.5" stroke="#48d080" stroke-width="1.4" stroke-opacity="0.56" stroke-linecap="round"/>
</g>
<rect x="125.40" y="645.00" width="84.00" height="62.80" fill="url(#vg7)"/>
<rect x="201.80" y="704.60" width="5.20" height="1.50" fill="#fff" stroke="none" stroke-width="0"/>
<rect x="212.00" y="645.00" width="84.20" height="62.80" fill="url(#g8)"/>
<rect x="212.00" y="645.00" width="84.20" height="62.80" fill="url(#hg8)"/>
<g clip-path="url(#cg8)" filter="url(#blur2)">
<circle cx="252.4" cy="676.2" r="0.8" fill="#2a58b8" fill-opacity="0.5"/>
<circle cx="277.6" cy="702.0" r="0.8" fill="#2a58b8" fill-opacity="0.5"/>
<circle cx="275.3" cy="685.0" r="0.8" fill="#2a58b8" fill-opacity="0.5"/>
<circle cx="228.8" cy="684.3" r="0.8" fill="#2a58b8" fill-opacity="0.5"/>
<circle cx="283.2" cy="694.4" r="0.8" fill="#2a58b8" fill-opacity="0.5"/>
<circle cx="219.8" cy="690.1" r="0.8" fill="#2a58b8" fill-opacity="0.5"/>
<circle cx="241.4" cy="655.2" r="0.8" fill="#2a58b8" fill-opacity="0.5"/>
<circle cx="293.3" cy="687.2" r="0.8" fill="#2a58b8" fill-opacity="0.5"/>
<circle cx="274.8" cy="653.5" r="0.8" fill="#2a58b8" fill-opacity="0.5"/>
<circle cx="281.8" cy="703.9" r="0.8" fill="#2a58b8" fill-opacity="0.5"/>
<circle cx="288.2" cy="691.8" r="0.8" fill="#2a58b8" fill-opacity="0.5"/>
<circle cx="282.1" cy="695.4" r="0.8" fill="#2a58b8" fill-opacity="0.5"/>
<circle cx="261.7" cy="672.3" r="0.8" fill="#2a58b8" fill-opacity="0.5"/>
<circle cx="281.5" cy="694.3" r="0.8" fill="#2a58b8" fill-opacity="0.5"/>
<circle cx="285.3" cy="663.8" r="0.8" fill="#2a58b8" fill-opacity="0.5"/>
<circle cx="292.9" cy="678.4" r="0.8" fill="#2a58b8" fill-opacity="0.5"/>
<circle cx="291.6" cy="652.3" r="0.8" fill="#2a58b8" fill-opacity="0.5"/>
<circle cx="293.5" cy="694.5" r="0.8" fill="#2a58b8" fill-opacity="0.5"/>
<circle cx="233.2" cy="697.6" r="0.8" fill="#2a58b8" fill-opacity="0.5"/>
<circle cx="231.5" cy="657.4" r="0.8" fill="#2a58b8" fill-opacity="0.5"/>
<circle cx="250.6" cy="659.9" r="0.8" fill="#2a58b8" fill-opacity="0.5"/>
<circle cx="253.5" cy="702.0" r="0.8" fill="#2a58b8" fill-opacity="0.5"/>
<circle cx="269.7" cy="689.6" r="0.8" fill="#2a58b8" fill-opacity="0.5"/>
<circle cx="245.0" cy="694.2" r="0.8" fill="#2a58b8" fill-opacity="0.5"/>
<circle cx="278.8" cy="687.9" r="0.8" fill="#2a58b8" fill-opacity="0.5"/>
<circle cx="291.3" cy="696.9" r="0.8" fill="#2a58b8" fill-opacity="0.5"/>
<circle cx="246.2" cy="650.5" r="0.8" fill="#2a58b8" fill-opacity="0.5"/>
<circle cx="266.9" cy="697.5" r="0.8" fill="#2a58b8" fill-opacity="0.5"/>
<circle cx="240.6" cy="682.4" r="0.8" fill="#2a58b8" fill-opacity="0.5"/>
<circle cx="282.4" cy="694.8" r="0.8" fill="#2a58b8" fill-opacity="0.5"/>
<circle cx="212.4" cy="675.7" r="0.8" fill="#2a58b8" fill-opacity="0.5"/>
<circle cx="213.4" cy="651.9" r="0.8" fill="#2a58b8" fill-opacity="0.5"/>
<circle cx="280.4" cy="671.3" r="0.8" fill="#2a58b8" fill-opacity="0.5"/>
<circle cx="262.9" cy="673.7" r="0.8" fill="#2a58b8" fill-opacity="0.5"/>
<circle cx="240.2" cy="658.4" r="0.8" fill="#2a58b8" fill-opacity="0.5"/>
<circle cx="241.8" cy="698.0" r="0.8" fill="#2a58b8" fill-opacity="0.5"/>
<circle cx="264.1" cy="663.3" r="0.8" fill="#2a58b8" fill-opacity="0.5"/>
<circle cx="219.4" cy="662.0" r="0.8" fill="#2a58b8" fill-opacity="0.5"/>
<circle cx="271.0" cy="672.8" r="0.8" fill="#2a58b8" fill-opacity="0.5"/>
<circle cx="267.7" cy="695.7" r="0.8" fill="#2a58b8" fill-opacity="0.5"/>
<circle cx="222.2" cy="687.9" r="0.8" fill="#2a58b8" fill-opacity="0.5"/>
<circle cx="215.5" cy="696.7" r="0.8" fill="#2a58b8" fill-opacity="0.5"/>
<circle cx="227.5" cy="662.0" r="0.8" fill="#2a58b8" fill-opacity="0.5"/>
<circle cx="292.6" cy="667.8" r="0.8" fill="#2a58b8" fill-opacity="0.5"/>
<circle cx="230.9" cy="700.9" r="0.8" fill="#2a58b8" fill-opacity="0.5"/>
<circle cx="263.4" cy="701.1" r="0.8" fill="#2a58b8" fill-opacity="0.5"/>
<circle cx="245.2" cy="676.4" r="0.8" fill="#2a58b8" fill-opacity="0.5"/>
<circle cx="292.5" cy="676.8" r="0.8" fill="#2a58b8" fill-opacity="0.5"/>
<circle cx="295.2" cy="656.9" r="0.8" fill="#2a58b8" fill-opacity="0.5"/>
<circle cx="281.9" cy="655.2" r="0.8" fill="#2a58b8" fill-opacity="0.5"/>
<circle cx="256.4" cy="645.0" r="0.8" fill="#2a58b8" fill-opacity="0.5"/>
<circle cx="226.8" cy="704.3" r="0.8" fill="#2a58b8" fill-opacity="0.5"/>
<circle cx="250.3" cy="695.8" r="0.8" fill="#2a58b8" fill-opacity="0.5"/>
<circle cx="233.1" cy="667.1" r="0.8" fill="#2a58b8" fill-opacity="0.5"/>
<circle cx="220.5" cy="679.7" r="0.8" fill="#2a58b8" fill-opacity="0.5"/>
<circle cx="284.6" cy="677.3" r="0.8" fill="#2a58b8" fill-opacity="0.5"/>
<circle cx="243.7" cy="703.3" r="0.8" fill="#2a58b8" fill-opacity="0.5"/>
<circle cx="287.3" cy="686.8" r="0.8" fill="#2a58b8" fill-opacity="0.5"/>
<circle cx="218.4" cy="684.2" r="0.8" fill="#2a58b8" fill-opacity="0.5"/>
<circle cx="249.4" cy="705.2" r="0.8" fill="#2a58b8" fill-opacity="0.5"/>
<circle cx="242.5" cy="686.5" r="0.8" fill="#2a58b8" fill-opacity="0.5"/>
<circle cx="265.2" cy="668.6" r="0.8" fill="#2a58b8" fill-opacity="0.5"/>
<circle cx="256.0" cy="687.5" r="0.8" fill="#2a58b8" fill-opacity="0.5"/>
<circle cx="288.4" cy="676.3" r="0.8" fill="#2a58b8" fill-opacity="0.5"/>
<circle cx="242.6" cy="706.3" r="0.8" fill="#2a58b8" fill-opacity="0.5"/>
<circle cx="216.8" cy="697.4" r="0.8" fill="#2a58b8" fill-opacity="0.5"/>
<circle cx="269.6" cy="680.0" r="0.8" fill="#2a58b8" fill-opacity="0.5"/>
<circle cx="249.7" cy="692.2" r="0.8" fill="#2a58b8" fill-opacity="0.5"/>
<circle cx="287.0" cy="690.8" r="0.8" fill="#2a58b8" fill-opacity="0.5"/>
<circle cx="275.1" cy="647.2" r="0.8" fill="#2a58b8" fill-opacity="0.5"/>
<circle cx="239.4" cy="653.6" r="0.8" fill="#2a58b8" fill-opacity="0.5"/>
<circle cx="292.2" cy="701.0" r="0.8" fill="#2a58b8" fill-opacity="0.5"/>
<circle cx="224.2" cy="681.9" r="0.8" fill="#2a58b8" fill-opacity="0.5"/>
<circle cx="260.6" cy="647.9" r="0.8" fill="#2a58b8" fill-opacity="0.5"/>
<circle cx="245.0" cy="691.9" r="0.8" fill="#2a58b8" fill-opacity="0.5"/>
<circle cx="266.0" cy="662.6" r="0.8" fill="#2a58b8" fill-opacity="0.5"/>
<circle cx="276.2" cy="663.3" r="0.8" fill="#2a58b8" fill-opacity="0.5"/>
<circle cx="257.8" cy="671.4" r="0.8" fill="#2a58b8" fill-opacity="0.5"/>
<circle cx="294.4" cy="685.7" r="0.8" fill="#2a58b8" fill-opacity="0.5"/>
<circle cx="279.8" cy="687.5" r="0.8" fill="#2a58b8" fill-opacity="0.5"/>
<circle cx="244.0" cy="705.5" r="0.8" fill="#2a58b8" fill-opacity="0.5"/>
<circle cx="271.8" cy="688.4" r="0.8" fill="#2a58b8" fill-opacity="0.5"/>
<circle cx="235.4" cy="655.2" r="0.8" fill="#2a58b8" fill-opacity="0.5"/>
<circle cx="260.4" cy="696.9" r="0.8" fill="#2a58b8" fill-opacity="0.5"/>
<circle cx="278.8" cy="666.8" r="0.8" fill="#2a58b8" fill-opacity="0.5"/>
<circle cx="223.8" cy="677.4" r="0.8" fill="#2a58b8" fill-opacity="0.5"/>
<circle cx="285.9" cy="655.2" r="0.8" fill="#2a58b8" fill-opacity="0.5"/>
<circle cx="274.2" cy="655.7" r="0.8" fill="#2a58b8" fill-opacity="0.5"/>
<circle cx="238.3" cy="648.4" r="0.8" fill="#2a58b8" fill-opacity="0.5"/>
<circle cx="237.1" cy="669.1" r="0.8" fill="#2a58b8" fill-opacity="0.5"/>
<circle cx="293.4" cy="705.4" r="0.8" fill="#2a58b8" fill-opacity="0.5"/>
<circle cx="227.8" cy="664.4" r="0.8" fill="#2a58b8" fill-opacity="0.5"/>
<circle cx="291.5" cy="657.4" r="0.8" fill="#2a58b8" fill-opacity="0.5"/>
<circle cx="239.0" cy="672.5" r="0.8" fill="#2a58b8" fill-opacity="0.5"/>
<circle cx="221.1" cy="661.3" r="0.8" fill="#2a58b8" fill-opacity="0.5"/>
<circle cx="245.2" cy="669.2" r="0.8" fill="#2a58b8" fill-opacity="0.5"/>
<circle cx="293.1" cy="661.8" r="0.8" fill="#2a58b8" fill-opacity="0.5"/>
<circle cx="229.2" cy="702.1" r="0.8" fill="#2a58b8" fill-opacity="0.5"/>
<circle cx="249.9" cy="697.6" r="0.8" fill="#2a58b8" fill-opacity="0.5"/>
<circle cx="265.6" cy="693.9" r="0.8" fill="#2a58b8" fill-opacity="0.5"/>
<circle cx="238.5" cy="654.6" r="0.8" fill="#2a58b8" fill-opacity="0.5"/>
<circle cx="275.7" cy="674.5" r="0.8" fill="#2a58b8" fill-opacity="0.5"/>
<circle cx="259.0" cy="687.1" r="0.8" fill="#2a58b8" fill-opacity="0.5"/>
<circle cx="275.4" cy="662.3" r="0.8" fill="#2a58b8" fill-opacity="0.5"/>
<circle cx="242.5" cy="702.6" r="0.8" fill="#2a58b8" fill-opacity="0.5"/>
<circle cx="256.6" cy="663.1" r="0.8" fill="#2a58b8" fill-opacity="0.5"/>
<circle cx="265.1" cy="661.3" r="0.8" fill="#2a58b8" fill-opacity="0.5"/>
<circle cx="276.9" cy="647.6" r="0.8" fill="#2a58b8" fill-opacity="0.5"/>
<circle cx="281.6" cy="680.6" r="0.8" fill="#2a58b8" fill-opacity="0.5"/>
<circle cx="241.8" cy="704.0" r="0.8" fill="#2a58b8" fill-opacity="0.5"/>
<circle cx="234.4" cy="660.3" r="0.8" fill="#2a58b8" fill-opacity="0.5"/>
<circle cx="217.9" cy="679.4" r="0.8" fill="#2a58b8" fill-opacity="0.5"/>
<circle cx="275.5" cy="687.6" r="0.8" fill="#2a58b8" fill-opacity="0.5"/>
<circle cx="246.8" cy="695.7" r="0.8" fill="#2a58b8" fill-opacity="0.5"/>
<circle cx="221.4" cy="664.3" r="0.8" fill="#2a58b8" fill-opacity="0.5"/>
<circle cx="266.3" cy="705.7" r="0.8" fill="#2a58b8" fill-opacity="0.5"/>
<circle cx="265.4" cy="688.5" r="0.8" fill="#2a58b8" fill-opacity="0.5"/>
<circle cx="277.2" cy="669.8" r="0.8" fill="#2a58b8" fill-opacity="0.5"/>
<circle cx="291.2" cy="691.6" r="0.8" fill="#2a58b8" fill-opacity="0.5"/>
<circle cx="240.8" cy="669.7" r="0.8" fill="#2a58b8" fill-opacity="0.5"/>
<circle cx="279.8" cy="667.0" r="0.8" fill="#2a58b8" fill-opacity="0.5"/>
<circle cx="227.6" cy="699.7" r="0.8" fill="#2a58b8" fill-opacity="0.5"/>
<circle cx="256.8" cy="677.7" r="0.8" fill="#2a58b8" fill-opacity="0.5"/>
<circle cx="268.4" cy="701.6" r="0.8" fill="#2a58b8" fill-opacity="0.5"/>
<circle cx="223.2" cy="666.3" r="0.8" fill="#2a58b8" fill-opacity="0.5"/>
<circle cx="217.6" cy="670.9" r="0.8" fill="#2a58b8" fill-opacity="0.5"/>
<circle cx="254.3" cy="698.5" r="0.8" fill="#2a58b8" fill-opacity="0.5"/>
<circle cx="268.2" cy="681.3" r="0.8" fill="#2a58b8" fill-opacity="0.5"/>
<circle cx="246.0" cy="681.0" r="0.8" fill="#2a58b8" fill-opacity="0.5"/>
<circle cx="235.1" cy="698.1" r="0.8" fill="#2a58b8" fill-opacity="0.5"/>
<circle cx="278.4" cy="697.7" r="0.8" fill="#2a58b8" fill-opacity="0.5"/>
<circle cx="224.7" cy="687.2" r="0.8" fill="#2a58b8" fill-opacity="0.5"/>
<circle cx="275.5" cy="676.4" r="0.8" fill="#2a58b8" fill-opacity="0.5"/>
<circle cx="287.6" cy="701.4" r="0.8" fill="#2a58b8" fill-opacity="0.5"/>
<circle cx="274.6" cy="696.6" r="0.8" fill="#2a58b8" fill-opacity="0.5"/>
<circle cx="266.6" cy="700.2" r="0.8" fill="#2a58b8" fill-opacity="0.5"/>
<circle cx="223.1" cy="689.2" r="0.8" fill="#2a58b8" fill-opacity="0.5"/>
<circle cx="271.3" cy="683.5" r="0.8" fill="#2a58b8" fill-opacity="0.5"/>
<circle cx="235.2" cy="649.2" r="0.8" fill="#2a58b8" fill-opacity="0.5"/>
<circle cx="262.8" cy="696.8" r="0.8" fill="#2a58b8" fill-opacity="0.5"/>
<circle cx="235.0" cy="658.4" r="0.8" fill="#2a58b8" fill-opacity="0.5"/>
<circle cx="230.8" cy="650.9" r="0.8" fill="#2a58b8" fill-opacity="0.5"/>
<circle cx="268.9" cy="706.2" r="0.8" fill="#2a58b8" fill-opacity="0.5"/>
<circle cx="279.5" cy="667.6" r="0.8" fill="#2a58b8" fill-opacity="0.5"/>
<circle cx="270.9" cy="649.5" r="0.8" fill="#2a58b8" fill-opacity="0.5"/>
<circle cx="282.6" cy="665.4" r="0.8" fill="#2a58b8" fill-opacity="0.5"/>
<circle cx="212.3" cy="684.5" r="0.8" fill="#2a58b8" fill-opacity="0.5"/>
<circle cx="223.7" cy="662.3" r="0.8" fill="#2a58b8" fill-opacity="0.5"/>
<circle cx="217.0" cy="673.0" r="0.8" fill="#2a58b8" fill-opacity="0.5"/>
<circle cx="258.7" cy="695.7" r="0.8" fill="#2a58b8" fill-opacity="0.5"/>
<circle cx="215.3" cy="697.0" r="0.8" fill="#2a58b8" fill-opacity="0.5"/>
<circle cx="221.3" cy="659.1" r="0.8" fill="#2a58b8" fill-opacity="0.5"/>
<circle cx="265.0" cy="666.4" r="0.8" fill="#2a58b8" fill-opacity="0.5"/>
<circle cx="239.9" cy="680.7" r="0.8" fill="#2a58b8" fill-opacity="0.5"/>
<circle cx="230.3" cy="694.8" r="0.8" fill="#2a58b8" fill-opacity="0.5"/>
<circle cx="229.6" cy="697.7" r="0.8" fill="#2a58b8" fill-opacity="0.5"/>
<circle cx="280.1" cy="678.7" r="0.8" fill="#2a58b8" fill-opacity="0.5"/>
<circle cx="214.6" cy="693.9" r="0.8" fill="#2a58b8" fill-opacity="0.5"/>
<circle cx="214.4" cy="676.7" r="0.8" fill="#2a58b8" fill-opacity="0.5"/>
<circle cx="247.7" cy="649.0" r="0.8" fill="#2a58b8" fill-opacity="0.5"/>
<circle cx="265.0" cy="690.5" r="0.8" fill="#2a58b8" fill-opacity="0.5"/>
<circle cx="261.3" cy="670.1" r="0.8" fill="#2a58b8" fill-opacity="0.5"/>
<circle cx="255.1" cy="682.0" r="0.8" fill="#2a58b8" fill-opacity="0.5"/>
<circle cx="231.1" cy="699.5" r="0.8" fill="#2a58b8" fill-opacity="0.5"/>
<circle cx="295.8" cy="695.5" r="0.8" fill="#2a58b8" fill-opacity="0.5"/>
<circle cx="292.9" cy="665.7" r="0.8" fill="#2a58b8" fill-opacity="0.5"/>
<circle cx="295.0" cy="649.5" r="0.8" fill="#2a58b8" fill-opacity="0.5"/>
<circle cx="252.2" cy="653.4" r="0.8" fill="#2a58b8" fill-opacity="0.5"/>
<circle cx="250.2" cy="687.9" r="0.8" fill="#2a58b8" fill-opacity="0.5"/>
<circle cx="271.6" cy="673.6" r="0.8" fill="#2a58b8" fill-opacity="0.5"/>
<circle cx="240.8" cy="656.9" r="0.8" fill="#2a58b8" fill-opacity="0.5"/>
<circle cx="245.9" cy="662.7" r="0.8" fill="#2a58b8" fill-opacity="0.5"/>
<circle cx="228.4" cy="691.2" r="0.8" fill="#2a58b8" fill-opacity="0.5"/>
<circle cx="255.5" cy="672.5" r="0.8" fill="#2a58b8" fill-opacity="0.5"/>
<circle cx="228.6" cy="689.2" r="0.8" fill="#2a58b8" fill-opacity="0.5"/>
<circle cx="228.6" cy="661.7" r="0.8" fill="#2a58b8" fill-opacity="0.5"/>
<circle cx="259.2" cy="689.0" r="0.8" fill="#2a58b8" fill-opacity="0.5"/>
<circle cx="293.9" cy="692.0" r="0.8" fill="#2a58b8" fill-opacity="0.5"/>
<circle cx="291.8" cy="702.8" r="0.8" fill="#2a58b8" fill-opacity="0.5"/>
<circle cx="272.8" cy="690.2" r="0.8" fill="#2a58b8" fill-opacity="0.5"/>
<circle cx="217.3" cy="657.9" r="0.8" fill="#2a58b8" fill-opacity="0.5"/>
<circle cx="213.1" cy="699.2" r="0.8" fill="#2a58b8" fill-opacity="0.5"/>
<circle cx="272.8" cy="684.6" r="0.8" fill="#2a58b8" fill-opacity="0.5"/>
<circle cx="234.2" cy="667.3" r="0.8" fill="#2a58b8" fill-opacity="0.5"/>
<circle cx="225.8" cy="684.7" r="0.8" fill="#2a58b8" fill-opacity="0.5"/>
<circle cx="295.5" cy="664.2" r="0.8" fill="#2a58b8" fill-opacity="0.5"/>
<circle cx="215.7" cy="656.0" r="0.8" fill="#2a58b8" fill-opacity="0.5"/>
<circle cx="241.9" cy="701.5" r="0.8" fill="#2a58b8" fill-opacity="0.5"/>
<circle cx="279.7" cy="673.6" r="0.8" fill="#2a58b8" fill-opacity="0.5"/>
<circle cx="220.6" cy="651.7" r="0.8" fill="#2a58b8" fill-opacity="0.5"/>
<circle cx="225.0" cy="693.8" r="0.8" fill="#2a58b8" fill-opacity="0.5"/>
<circle cx="251.7" cy="707.2" r="0.8" fill="#2a58b8" fill-opacity="0.5"/>
<circle cx="288.8" cy="694.9" r="0.8" fill="#2a58b8" fill-opacity="0.5"/>
<circle cx="252.1" cy="696.6" r="0.8" fill="#2a58b8" fill-opacity="0.5"/>
<circle cx="222.8" cy="651.8" r="0.8" fill="#2a58b8" fill-opacity="0.5"/>
<circle cx="259.4" cy="676.9" r="0.8" fill="#2a58b8" fill-opacity="0.5"/>
<circle cx="229.6" cy="660.8" r="0.8" fill="#2a58b8" fill-opacity="0.5"/>
<circle cx="213.8" cy="702.1" r="0.8" fill="#2a58b8" fill-opacity="0.5"/>
<circle cx="271.8" cy="704.4" r="0.8" fill="#2a58b8" fill-opacity="0.5"/>
<circle cx="294.6" cy="672.4" r="0.8" fill="#2a58b8" fill-opacity="0.5"/>
<circle cx="273.7" cy="669.1" r="0.8" fill="#2a58b8" fill-opacity="0.5"/>
<circle cx="280.4" cy="697.8" r="0.8" fill="#2a58b8" fill-opacity="0.5"/>
<circle cx="223.3" cy="645.8" r="0.8" fill="#2a58b8" fill-opacity="0.5"/>
<circle cx="230.0" cy="681.8" r="0.8" fill="#2a58b8" fill-opacity="0.5"/>
<circle cx="243.9" cy="645.6" r="0.8" fill="#2a58b8" fill-opacity="0.5"/>
<circle cx="281.9" cy="694.4" r="0.8" fill="#2a58b8" fill-opacity="0.5"/>
<circle cx="251.0" cy="647.7" r="0.8" fill="#2a58b8" fill-opacity="0.5"/>
<circle cx="286.9" cy="678.5" r="0.8" fill="#2a58b8" fill-opacity="0.5"/>
<circle cx="218.0" cy="665.3" r="0.8" fill="#2a58b8" fill-opacity="0.5"/>
<circle cx="264.6" cy="700.6" r="0.8" fill="#2a58b8" fill-opacity="0.5"/>
<circle cx="252.8" cy="685.2" r="0.8" fill="#2a58b8" fill-opacity="0.5"/>
<circle cx="229.3" cy="660.3" r="0.8" fill="#2a58b8" fill-opacity="0.5"/>
<circle cx="288.3" cy="669.0" r="0.8" fill="#2a58b8" fill-opacity="0.5"/>
<circle cx="220.8" cy="682.1" r="0.8" fill="#2a58b8" fill-opacity="0.5"/>
<circle cx="222.6" cy="657.6" r="0.8" fill="#2a58b8" fill-opacity="0.5"/>
<circle cx="250.4" cy="681.8" r="0.8" fill="#2a58b8" fill-opacity="0.5"/>
<circle cx="265.6" cy="689.4" r="0.8" fill="#2a58b8" fill-opacity="0.5"/>
<circle cx="249.0" cy="649.2" r="0.8" fill="#2a58b8" fill-opacity="0.5"/>
<circle cx="273.0" cy="648.4" r="0.8" fill="#2a58b8" fill-opacity="0.5"/>
<circle cx="251.6" cy="670.1" r="0.8" fill="#2a58b8" fill-opacity="0.5"/>
<circle cx="268.7" cy="689.8" r="0.8" fill="#2a58b8" fill-opacity="0.5"/>
<circle cx="232.2" cy="685.8" r="0.8" fill="#2a58b8" fill-opacity="0.5"/>
<circle cx="270.3" cy="674.6" r="0.8" fill="#2a58b8" fill-opacity="0.5"/>
<circle cx="223.9" cy="702.1" r="0.8" fill="#2a58b8" fill-opacity="0.5"/>
<circle cx="262.4" cy="648.9" r="0.8" fill="#2a58b8" fill-opacity="0.5"/>
<circle cx="232.1" cy="707.0" r="0.8" fill="#2a58b8" fill-opacity="0.5"/>
<circle cx="231.3" cy="669.6" r="0.8" fill="#2a58b8" fill-opacity="0.5"/>
<circle cx="278.4" cy="696.7" r="0.8" fill="#2a58b8" fill-opacity="0.5"/>
<circle cx="265.4" cy="691.6" r="0.8" fill="#2a58b8" fill-opacity="0.5"/>
<circle cx="215.2" cy="650.9" r="0.8" fill="#2a58b8" fill-opacity="0.5"/>
<circle cx="294.2" cy="695.4" r="0.8" fill="#2a58b8" fill-opacity="0.5"/>
<circle cx="215.2" cy="648.1" r="0.8" fill="#2a58b8" fill-opacity="0.5"/>
<circle cx="232.2" cy="703.4" r="0.8" fill="#2a58b8" fill-opacity="0.5"/>
<circle cx="230.5" cy="687.2" r="0.8" fill="#2a58b8" fill-opacity="0.5"/>
<circle cx="290.3" cy="685.1" r="0.8" fill="#2a58b8" fill-opacity="0.5"/>
<circle cx="289.4" cy="661.5" r="0.8" fill="#2a58b8" fill-opacity="0.5"/>
<circle cx="224.9" cy="646.1" r="0.8" fill="#2a58b8" fill-opacity="0.5"/>
<circle cx="275.7" cy="651.5" r="0.8" fill="#2a58b8" fill-opacity="0.5"/>
<circle cx="293.9" cy="689.6" r="0.8" fill="#2a58b8" fill-opacity="0.5"/>
<circle cx="227.7" cy="695.7" r="0.8" fill="#2a58b8" fill-opacity="0.5"/>
<circle cx="225.7" cy="677.2" r="0.8" fill="#2a58b8" fill-opacity="0.5"/>
<circle cx="220.9" cy="694.4" r="0.8" fill="#2a58b8" fill-opacity="0.5"/>
<circle cx="286.9" cy="702.5" r="0.8" fill="#2a58b8" fill-opacity="0.5"/>
<circle cx="212.2" cy="698.5" r="0.8" fill="#2a58b8" fill-opacity="0.5"/>
<circle cx="258.8" cy="696.6" r="0.8" fill="#2a58b8" fill-opacity="0.5"/>
<circle cx="254.3" cy="683.9" r="0.8" fill="#2a58b8" fill-opacity="0.5"/>
<circle cx="262.1" cy="695.2" r="0.8" fill="#2a58b8" fill-opacity="0.5"/>
<circle cx="218.5" cy="648.4" r="0.8" fill="#2a58b8" fill-opacity="0.5"/>
<circle cx="257.9" cy="663.3" r="0.8" fill="#2a58b8" fill-opacity="0.5"/>
<circle cx="245.4" cy="645.5" r="0.8" fill="#2a58b8" fill-opacity="0.5"/>
<circle cx="274.7" cy="646.5" r="0.8" fill="#2a58b8" fill-opacity="0.5"/>
<circle cx="281.9" cy="696.0" r="0.8" fill="#2a58b8" fill-opacity="0.5"/>
<circle cx="250.6" cy="652.7" r="0.8" fill="#2a58b8" fill-opacity="0.5"/>
<circle cx="266.7" cy="658.0" r="0.8" fill="#2a58b8" fill-opacity="0.5"/>
<circle cx="248.1" cy="651.9" r="0.8" fill="#2a58b8" fill-opacity="0.5"/>
<circle cx="294.2" cy="679.3" r="0.8" fill="#2a58b8" fill-opacity="0.5"/>
<circle cx="241.7" cy="650.9" r="0.8" fill="#2a58b8" fill-opacity="0.5"/>
<circle cx="273.5" cy="698.4" r="0.8" fill="#2a58b8" fill-opacity="0.5"/>
<circle cx="283.4" cy="651.4" r="0.8" fill="#2a58b8" fill-opacity="0.5"/>
<circle cx="243.0" cy="664.0" r="0.8" fill="#2a58b8" fill-opacity="0.5"/>
</g>
<g clip-path="url(#cg8)" filter="url(#blur3)">
<line x1="242.7" y1="664.9" x2="254.1" y2="661.8" stroke="#48d080" stroke-width="1.2" stroke-opacity="0.31" stroke-linecap="round"/>
<line x1="253.4" y1="677.9" x2="262.0" y2="676.4" stroke="#48d080" stroke-width="1.0" stroke-opacity="0.45" stroke-linecap="round"/>
<line x1="214.8" y1="687.8" x2="225.8" y2="685.3" stroke="#48d080" stroke-width="1.2" stroke-opacity="0.56" stroke-linecap="round"/>
<line x1="283.6" y1="656.1" x2="287.8" y2="655.5" stroke="#48d080" stroke-width="1.1" stroke-opacity="0.57" stroke-linecap="round"/>
<line x1="207.8" y1="692.4" x2="216.2" y2="684.5" stroke="#48d080" stroke-width="1.0" stroke-opacity="0.53" stroke-linecap="round"/>
<line x1="244.2" y1="689.9" x2="249.8" y2="686.4" stroke="#48d080" stroke-width="0.7" stroke-opacity="0.45" stroke-linecap="round"/>
<line x1="276.4" y1="669.7" x2="286.5" y2="670.7" stroke="#48d080" stroke-width="1.3" stroke-opacity="0.62" stroke-linecap="round"/>
<line x1="244.8" y1="661.5" x2="250.5" y2="656.9" stroke="#48d080" stroke-width="0.6" stroke-opacity="0.38" stroke-linecap="round"/>
<line x1="283.3" y1="650.1" x2="291.7" y2="644.5" stroke="#48d080" stroke-width="1.2" stroke-opacity="0.59" stroke-linecap="round"/>
<line x1="251.9" y1="656.4" x2="258.9" y2="648.5" stroke="#48d080" stroke-width="0.9" stroke-opacity="0.50" stroke-linecap="round"/>
<line x1="225.1" y1="689.1" x2="230.3" y2="689.8" stroke="#48d080" stroke-width="1.0" stroke-opacity="0.51" stroke-linecap="round"/>
<line x1="207.0" y1="666.1" x2="217.0" y2="660.7" stroke="#48d080" stroke-width="1.2" stroke-opacity="0.61" stroke-linecap="round"/>
<line x1="256.6" y1="683.1" x2="265.7" y2="676.4" stroke="#48d080" stroke-width="0.6" stroke-opacity="0.39" stroke-linecap="round"/>
<line x1="229.4" y1="647.6" x2="234.9" y2="642.4" stroke="#48d080" stroke-width="1.1" stroke-opacity="0.52" stroke-linecap="round"/>
<line x1="244.0" y1="646.9" x2="248.7" y2="643.1" stroke="#48d080" stroke-width="0.6" stroke-opacity="0.52" stroke-linecap="round"/>
<line x1="247.5" y1="685.8" x2="256.5" y2="687.1" stroke="#48d080" stroke-width="1.1" stroke-opacity="0.51" stroke-linecap="round"/>
<line x1="215.8" y1="658.9" x2="219.5" y2="656.3" stroke="#48d080" stroke-width="0.7" stroke-opacity="0.31" stroke-linecap="round"/>
<line x1="236.3" y1="683.6" x2="241.6" y2="677.8" stroke="#48d080" stroke-width="1.4" stroke-opacity="0.52" stroke-linecap="round"/>
<line x1="239.7" y1="704.7" x2="243.2" y2="701.4" stroke="#48d080" stroke-width="0.8" stroke-opacity="0.44" stroke-linecap="round"/>
<line x1="235.5" y1="655.9" x2="240.2" y2="655.2" stroke="#48d080" stroke-width="1.3" stroke-opacity="0.42" stroke-linecap="round"/>
<line x1="247.4" y1="669.5" x2="253.2" y2="669.4" stroke="#48d080" stroke-width="1.3" stroke-opacity="0.56" stroke-linecap="round"/>
<line x1="236.7" y1="663.0" x2="239.9" y2="658.6" stroke="#48d080" stroke-width="1.3" stroke-opacity="0.36" stroke-linecap="round"/>
<line x1="227.8" y1="654.1" x2="233.1" y2="653.0" stroke="#48d080" stroke-width="0.7" stroke-opacity="0.34" stroke-linecap="round"/>
<line x1="266.2" y1="672.3" x2="274.6" y2="670.5" stroke="#48d080" stroke-width="0.8" stroke-opacity="0.33" stroke-linecap="round"/>
<line x1="289.3" y1="680.7" x2="297.3" y2="672.2" stroke="#48d080" stroke-width="0.9" stroke-opacity="0.53" stroke-linecap="round"/>
<line x1="271.5" y1="699.1" x2="276.9" y2="694.8" stroke="#48d080" stroke-width="1.0" stroke-opacity="0.34" stroke-linecap="round"/>
<line x1="245.0" y1="706.7" x2="250.6" y2="702.5" stroke="#48d080" stroke-width="1.2" stroke-opacity="0.38" stroke-linecap="round"/>
<line x1="250.1" y1="686.6" x2="256.1" y2="683.1" stroke="#48d080" stroke-width="1.1" stroke-opacity="0.46" stroke-linecap="round"/>
<line x1="247.3" y1="670.2" x2="257.8" y2="668.0" stroke="#48d080" stroke-width="0.8" stroke-opacity="0.32" stroke-linecap="round"/>
<line x1="232.1" y1="678.6" x2="240.9" y2="674.5" stroke="#48d080" stroke-width="0.7" stroke-opacity="0.35" stroke-linecap="round"/>
<line x1="230.0" y1="677.1" x2="235.8" y2="672.2" stroke="#48d080" stroke-width="0.7" stroke-opacity="0.33" stroke-linecap="round"/>
<line x1="226.1" y1="688.0" x2="234.5" y2="688.8" stroke="#48d080" stroke-width="0.7" stroke-opacity="0.38" stroke-linecap="round"/>
<line x1="240.4" y1="650.5" x2="252.1" y2="650.8" stroke="#48d080" stroke-width="1.3" stroke-opacity="0.34" stroke-linecap="round"/>
<line x1="272.3" y1="667.5" x2="276.4" y2="664.1" stroke="#48d080" stroke-width="1.3" stroke-opacity="0.38" stroke-linecap="round"/>
<line x1="259.6" y1="679.8" x2="267.2" y2="680.5" stroke="#48d080" stroke-width="1.2" stroke-opacity="0.33" stroke-linecap="round"/>
<line x1="224.2" y1="680.8" x2="231.1" y2="674.6" stroke="#48d080" stroke-width="0.9" stroke-opacity="0.35" stroke-linecap="round"/>
<line x1="272.8" y1="672.7" x2="275.7" y2="669.9" stroke="#48d080" stroke-width="1.1" stroke-opacity="0.47" stroke-linecap="round"/>
<line x1="269.5" y1="676.8" x2="277.7" y2="675.8" stroke="#48d080" stroke-width="0.8" stroke-opacity="0.46" stroke-linecap="round"/>
<line x1="216.7" y1="661.4" x2="224.0" y2="653.9" stroke="#48d080" stroke-width="1.4" stroke-opacity="0.54" stroke-linecap="round"/>
<line x1="258.7" y1="659.9" x2="264.2" y2="660.3" stroke="#48d080" stroke-width="0.8" stroke-opacity="0.50" stroke-linecap="round"/>
<line x1="253.7" y1="670.4" x2="256.9" y2="667.6" stroke="#48d080" stroke-width="1.0" stroke-opacity="0.35" stroke-linecap="round"/>
<line x1="255.9" y1="702.2" x2="266.9" y2="698.9" stroke="#48d080" stroke-width="0.9" stroke-opacity="0.52" stroke-linecap="round"/>
<line x1="293.2" y1="679.2" x2="299.2" y2="674.1" stroke="#48d080" stroke-width="1.0" stroke-opacity="0.60" stroke-linecap="round"/>
<line x1="209.2" y1="676.7" x2="214.8" y2="675.2" stroke="#48d080" stroke-width="1.3" stroke-opacity="0.37" stroke-linecap="round"/>
<line x1="268.9" y1="677.0" x2="277.9" y2="669.4" stroke="#48d080" stroke-width="0.9" stroke-opacity="0.44" stroke-linecap="round"/>
<line x1="225.9" y1="697.9" x2="230.1" y2="692.2" stroke="#48d080" stroke-width="0.7" stroke-opacity="0.57" stroke-linecap="round"/>
<line x1="276.6" y1="675.6" x2="282.6" y2="670.9" stroke="#48d080" stroke-width="1.0" stroke-opacity="0.53" stroke-linecap="round"/>
<line x1="254.7" y1="687.5" x2="262.7" y2="678.9" stroke="#48d080" stroke-width="0.7" stroke-opacity="0.35" stroke-linecap="round"/>
<line x1="214.3" y1="669.9" x2="218.8" y2="670.1" stroke="#48d080" stroke-width="0.8" stroke-opacity="0.36" stroke-linecap="round"/>
<line x1="220.3" y1="666.0" x2="230.0" y2="660.7" stroke="#48d080" stroke-width="1.1" stroke-opacity="0.58" stroke-linecap="round"/>
<line x1="261.7" y1="669.1" x2="269.0" y2="669.9" stroke="#48d080" stroke-width="0.6" stroke-opacity="0.59" stroke-linecap="round"/>
<line x1="248.3" y1="677.1" x2="253.4" y2="673.4" stroke="#48d080" stroke-width="1.4" stroke-opacity="0.58" stroke-linecap="round"/>
<line x1="216.8" y1="683.6" x2="227.2" y2="683.7" stroke="#48d080" stroke-width="1.1" stroke-opacity="0.47" stroke-linecap="round"/>
<line x1="256.2" y1="683.0" x2="264.7" y2="681.1" stroke="#48d080" stroke-width="1.2" stroke-opacity="0.59" stroke-linecap="round"/>
<line x1="258.8" y1="674.9" x2="265.9" y2="666.3" stroke="#48d080" stroke-width="1.1" stroke-opacity="0.37" stroke-linecap="round"/>
<line x1="238.2" y1="662.8" x2="243.6" y2="658.4" stroke="#48d080" stroke-width="1.0" stroke-opacity="0.52" stroke-linecap="round"/>
<line x1="278.3" y1="687.1" x2="285.8" y2="685.2" stroke="#48d080" stroke-width="1.1" stroke-opacity="0.56" stroke-linecap="round"/>
<line x1="269.3" y1="675.4" x2="278.8" y2="673.5" stroke="#48d080" stroke-width="1.1" stroke-opacity="0.37" stroke-linecap="round"/>
<line x1="284.5" y1="667.7" x2="290.2" y2="662.9" stroke="#48d080" stroke-width="1.4" stroke-opacity="0.37" stroke-linecap="round"/>
<line x1="209.1" y1="697.3" x2="214.9" y2="697.7" stroke="#48d080" stroke-width="1.2" stroke-opacity="0.42" stroke-linecap="round"/>
<line x1="224.5" y1="649.7" x2="228.5" y2="645.5" stroke="#48d080" stroke-width="0.8" stroke-opacity="0.39" stroke-linecap="round"/>
<line x1="256.6" y1="677.1" x2="263.0" y2="673.6" stroke="#48d080" stroke-width="0.7" stroke-opacity="0.49" stroke-linecap="round"/>
<line x1="272.2" y1="667.6" x2="280.4" y2="662.5" stroke="#48d080" stroke-width="0.9" stroke-opacity="0.36" stroke-linecap="round"/>
<line x1="240.4" y1="674.1" x2="245.5" y2="673.1" stroke="#48d080" stroke-width="0.9" stroke-opacity="0.61" stroke-linecap="round"/>
<line x1="247.7" y1="646.0" x2="256.5" y2="644.0" stroke="#48d080" stroke-width="1.2" stroke-opacity="0.61" stroke-linecap="round"/>
<line x1="258.2" y1="703.3" x2="263.1" y2="699.8" stroke="#48d080" stroke-width="1.3" stroke-opacity="0.50" stroke-linecap="round"/>
<line x1="272.9" y1="645.8" x2="278.2" y2="644.2" stroke="#48d080" stroke-width="0.6" stroke-opacity="0.48" stroke-linecap="round"/>
<line x1="243.2" y1="661.0" x2="245.8" y2="657.8" stroke="#48d080" stroke-width="0.7" stroke-opacity="0.53" stroke-linecap="round"/>
<line x1="260.6" y1="676.5" x2="268.2" y2="670.6" stroke="#48d080" stroke-width="1.4" stroke-opacity="0.32" stroke-linecap="round"/>
<line x1="286.3" y1="699.9" x2="291.4" y2="700.6" stroke="#48d080" stroke-width="0.9" stroke-opacity="0.47" stroke-linecap="round"/>
<line x1="234.1" y1="691.0" x2="239.7" y2="688.6" stroke="#48d080" stroke-width="0.6" stroke-opacity="0.34" stroke-linecap="round"/>
<line x1="248.1" y1="681.0" x2="257.4" y2="678.6" stroke="#48d080" stroke-width="0.8" stroke-opacity="0.56" stroke-linecap="round"/>
<line x1="242.0" y1="658.4" x2="247.0" y2="656.2" stroke="#48d080" stroke-width="1.3" stroke-opacity="0.48" stroke-linecap="round"/>
<line x1="256.8" y1="677.1" x2="263.8" y2="675.9" stroke="#48d080" stroke-width="1.2" stroke-opacity="0.38" stroke-linecap="round"/>
<line x1="256.9" y1="648.3" x2="262.6" y2="641.7" stroke="#48d080" stroke-width="0.8" stroke-opacity="0.53" stroke-linecap="round"/>
<line x1="259.4" y1="646.5" x2="263.1" y2="643.5" stroke="#48d080" stroke-width="1.1" stroke-opacity="0.49" stroke-linecap="round"/>
<line x1="255.0" y1="682.8" x2="259.7" y2="681.3" stroke="#48d080" stroke-width="1.1" stroke-opacity="0.38" stroke-linecap="round"/>
<line x1="241.4" y1="693.4" x2="250.6" y2="690.0" stroke="#48d080" stroke-width="0.6" stroke-opacity="0.53" stroke-linecap="round"/>
<line x1="246.3" y1="688.7" x2="255.5" y2="686.5" stroke="#48d080" stroke-width="1.1" stroke-opacity="0.59" stroke-linecap="round"/>
<line x1="250.1" y1="688.5" x2="256.1" y2="687.2" stroke="#48d080" stroke-width="0.7" stroke-opacity="0.38" stroke-linecap="round"/>
<line x1="247.5" y1="645.9" x2="259.0" y2="644.1" stroke="#48d080" stroke-width="1.2" stroke-opacity="0.41" stroke-linecap="round"/>
<line x1="229.5" y1="702.5" x2="235.1" y2="695.6" stroke="#48d080" stroke-width="0.7" stroke-opacity="0.33" stroke-linecap="round"/>
<line x1="228.4" y1="671.9" x2="239.4" y2="672.9" stroke="#48d080" stroke-width="1.0" stroke-opacity="0.37" stroke-linecap="round"/>
<line x1="264.6" y1="688.8" x2="271.1" y2="686.3" stroke="#48d080" stroke-width="1.2" stroke-opacity="0.47" stroke-linecap="round"/>
<line x1="246.9" y1="667.8" x2="251.4" y2="662.3" stroke="#48d080" stroke-width="1.0" stroke-opacity="0.39" stroke-linecap="round"/>
<line x1="236.0" y1="664.6" x2="242.4" y2="660.2" stroke="#48d080" stroke-width="1.2" stroke-opacity="0.55" stroke-linecap="round"/>
<line x1="223.9" y1="686.5" x2="235.3" y2="687.6" stroke="#48d080" stroke-width="1.1" stroke-opacity="0.34" stroke-linecap="round"/>
<line x1="213.4" y1="681.4" x2="216.8" y2="678.8" stroke="#48d080" stroke-width="1.4" stroke-opacity="0.59" stroke-linecap="round"/>
<line x1="262.5" y1="688.3" x2="268.7" y2="686.7" stroke="#48d080" stroke-width="0.7" stroke-opacity="0.54" stroke-linecap="round"/>
<line x1="248.3" y1="657.3" x2="253.0" y2="651.8" stroke="#48d080" stroke-width="0.7" stroke-opacity="0.61" stroke-linecap="round"/>
<line x1="263.3" y1="678.1" x2="268.3" y2="677.6" stroke="#48d080" stroke-width="0.7" stroke-opacity="0.33" stroke-linecap="round"/>
<line x1="259.6" y1="691.9" x2="265.0" y2="691.8" stroke="#48d080" stroke-width="0.7" stroke-opacity="0.55" stroke-linecap="round"/>
<line x1="226.2" y1="682.6" x2="230.3" y2="678.3" stroke="#48d080" stroke-width="1.4" stroke-opacity="0.35" stroke-linecap="round"/>
<line x1="239.4" y1="701.8" x2="250.6" y2="702.4" stroke="#48d080" stroke-width="1.0" stroke-opacity="0.61" stroke-linecap="round"/>
<line x1="227.5" y1="666.5" x2="236.3" y2="662.4" stroke="#48d080" stroke-width="1.2" stroke-opacity="0.35" stroke-linecap="round"/>
</g>
<rect x="212.00" y="645.00" width="84.20" height="62.80" fill="url(#vg8)"/>
<rect x="288.60" y="704.60" width="5.20" height="1.50" fill="#fff" stroke="none" stroke-width="0"/>
<rect x="125.40" y="710.20" width="84.00" height="62.20" fill="url(#g9)"/>
<rect x="125.40" y="710.20" width="84.00" height="62.20" fill="url(#hg9)"/>
<g clip-path="url(#cg9)" filter="url(#blur2)">
<circle cx="141.7" cy="769.8" r="0.8" fill="#2a58b8" fill-opacity="0.5"/>
<circle cx="134.4" cy="760.8" r="0.8" fill="#2a58b8" fill-opacity="0.5"/>
<circle cx="153.9" cy="725.6" r="0.8" fill="#2a58b8" fill-opacity="0.5"/>
<circle cx="146.8" cy="739.4" r="0.8" fill="#2a58b8" fill-opacity="0.5"/>
<circle cx="208.6" cy="719.4" r="0.8" fill="#2a58b8" fill-opacity="0.5"/>
<circle cx="197.2" cy="730.2" r="0.8" fill="#2a58b8" fill-opacity="0.5"/>
<circle cx="139.9" cy="756.5" r="0.8" fill="#2a58b8" fill-opacity="0.5"/>
<circle cx="154.1" cy="721.9" r="0.8" fill="#2a58b8" fill-opacity="0.5"/>
<circle cx="160.5" cy="761.3" r="0.8" fill="#2a58b8" fill-opacity="0.5"/>
<circle cx="197.9" cy="746.0" r="0.8" fill="#2a58b8" fill-opacity="0.5"/>
<circle cx="126.3" cy="757.7" r="0.8" fill="#2a58b8" fill-opacity="0.5"/>
<circle cx="176.3" cy="766.1" r="0.8" fill="#2a58b8" fill-opacity="0.5"/>
<circle cx="205.4" cy="730.5" r="0.8" fill="#2a58b8" fill-opacity="0.5"/>
<circle cx="196.7" cy="761.1" r="0.8" fill="#2a58b8" fill-opacity="0.5"/>
<circle cx="147.7" cy="733.0" r="0.8" fill="#2a58b8" fill-opacity="0.5"/>
<circle cx="156.9" cy="732.1" r="0.8" fill="#2a58b8" fill-opacity="0.5"/>
<circle cx="157.2" cy="717.1" r="0.8" fill="#2a58b8" fill-opacity="0.5"/>
<circle cx="144.5" cy="766.8" r="0.8" fill="#2a58b8" fill-opacity="0.5"/>
<circle cx="159.9" cy="749.7" r="0.8" fill="#2a58b8" fill-opacity="0.5"/>
<circle cx="199.9" cy="757.2" r="0.8" fill="#2a58b8" fill-opacity="0.5"/>
<circle cx="145.9" cy="767.4" r="0.8" fill="#2a58b8" fill-opacity="0.5"/>
<circle cx="193.0" cy="771.8" r="0.8" fill="#2a58b8" fill-opacity="0.5"/>
<circle cx="186.6" cy="757.2" r="0.8" fill="#2a58b8" fill-opacity="0.5"/>
<circle cx="193.7" cy="726.0" r="0.8" fill="#2a58b8" fill-opacity="0.5"/>
<circle cx="180.5" cy="733.9" r="0.8" fill="#2a58b8" fill-opacity="0.5"/>
<circle cx="195.9" cy="718.5" r="0.8" fill="#2a58b8" fill-opacity="0.5"/>
<circle cx="170.7" cy="731.1" r="0.8" fill="#2a58b8" fill-opacity="0.5"/>
<circle cx="194.3" cy="731.7" r="0.8" fill="#2a58b8" fill-opacity="0.5"/>
<circle cx="196.3" cy="762.9" r="0.8" fill="#2a58b8" fill-opacity="0.5"/>
<circle cx="199.2" cy="718.9" r="0.8" fill="#2a58b8" fill-opacity="0.5"/>
<circle cx="204.2" cy="756.5" r="0.8" fill="#2a58b8" fill-opacity="0.5"/>
<circle cx="182.3" cy="750.8" r="0.8" fill="#2a58b8" fill-opacity="0.5"/>
<circle cx="129.4" cy="764.3" r="0.8" fill="#2a58b8" fill-opacity="0.5"/>
<circle cx="171.4" cy="738.5" r="0.8" fill="#2a58b8" fill-opacity="0.5"/>
<circle cx="153.9" cy="758.9" r="0.8" fill="#2a58b8" fill-opacity="0.5"/>
<circle cx="191.1" cy="764.3" r="0.8" fill="#2a58b8" fill-opacity="0.5"/>
<circle cx="143.4" cy="731.4" r="0.8" fill="#2a58b8" fill-opacity="0.5"/>
<circle cx="146.3" cy="716.4" r="0.8" fill="#2a58b8" fill-opacity="0.5"/>
<circle cx="152.9" cy="711.8" r="0.8" fill="#2a58b8" fill-opacity="0.5"/>
<circle cx="192.3" cy="724.3" r="0.8" fill="#2a58b8" fill-opacity="0.5"/>
<circle cx="131.3" cy="714.4" r="0.8" fill="#2a58b8" fill-opacity="0.5"/>
<circle cx="187.7" cy="722.5" r="0.8" fill="#2a58b8" fill-opacity="0.5"/>
<circle cx="164.2" cy="735.2" r="0.8" fill="#2a58b8" fill-opacity="0.5"/>
<circle cx="192.8" cy="769.5" r="0.8" fill="#2a58b8" fill-opacity="0.5"/>
<circle cx="151.4" cy="749.5" r="0.8" fill="#2a58b8" fill-opacity="0.5"/>
<circle cx="200.6" cy="739.5" r="0.8" fill="#2a58b8" fill-opacity="0.5"/>
<circle cx="201.0" cy="755.8" r="0.8" fill="#2a58b8" fill-opacity="0.5"/>
<circle cx="151.6" cy="764.6" r="0.8" fill="#2a58b8" fill-opacity="0.5"/>
<circle cx="173.6" cy="716.8" r="0.8" fill="#2a58b8" fill-opacity="0.5"/>
<circle cx="174.7" cy="761.8" r="0.8" fill="#2a58b8" fill-opacity="0.5"/>
<circle cx="169.0" cy="740.3" r="0.8" fill="#2a58b8" fill-opacity="0.5"/>
<circle cx="160.4" cy="765.0" r="0.8" fill="#2a58b8" fill-opacity="0.5"/>
<circle cx="181.3" cy="723.1" r="0.8" fill="#2a58b8" fill-opacity="0.5"/>
<circle cx="155.8" cy="732.8" r="0.8" fill="#2a58b8" fill-opacity="0.5"/>
<circle cx="205.9" cy="753.5" r="0.8" fill="#2a58b8" fill-opacity="0.5"/>
<circle cx="135.9" cy="767.1" r="0.8" fill="#2a58b8" fill-opacity="0.5"/>
<circle cx="128.3" cy="747.0" r="0.8" fill="#2a58b8" fill-opacity="0.5"/>
<circle cx="161.7" cy="754.8" r="0.8" fill="#2a58b8" fill-opacity="0.5"/>
<circle cx="161.5" cy="715.9" r="0.8" fill="#2a58b8" fill-opacity="0.5"/>
<circle cx="169.4" cy="761.2" r="0.8" fill="#2a58b8" fill-opacity="0.5"/>
<circle cx="191.7" cy="732.4" r="0.8" fill="#2a58b8" fill-opacity="0.5"/>
<circle cx="144.1" cy="756.5" r="0.8" fill="#2a58b8" fill-opacity="0.5"/>
<circle cx="192.7" cy="723.8" r="0.8" fill="#2a58b8" fill-opacity="0.5"/>
<circle cx="199.6" cy="771.9" r="0.8" fill="#2a58b8" fill-opacity="0.5"/>
<circle cx="161.8" cy="733.9" r="0.8" fill="#2a58b8" fill-opacity="0.5"/>
<circle cx="185.0" cy="768.0" r="0.8" fill="#2a58b8" fill-opacity="0.5"/>
<circle cx="142.3" cy="729.0" r="0.8" fill="#2a58b8" fill-opacity="0.5"/>
<circle cx="153.0" cy="755.7" r="0.8" fill="#2a58b8" fill-opacity="0.5"/>
<circle cx="141.1" cy="744.2" r="0.8" fill="#2a58b8" fill-opacity="0.5"/>
<circle cx="167.4" cy="751.8" r="0.8" fill="#2a58b8" fill-opacity="0.5"/>
<circle cx="137.4" cy="769.7" r="0.8" fill="#2a58b8" fill-opacity="0.5"/>
<circle cx="209.4" cy="745.1" r="0.8" fill="#2a58b8" fill-opacity="0.5"/>
<circle cx="192.2" cy="721.6" r="0.8" fill="#2a58b8" fill-opacity="0.5"/>
<circle cx="201.9" cy="744.5" r="0.8" fill="#2a58b8" fill-opacity="0.5"/>
<circle cx="189.2" cy="764.2" r="0.8" fill="#2a58b8" fill-opacity="0.5"/>
<circle cx="155.8" cy="767.7" r="0.8" fill="#2a58b8" fill-opacity="0.5"/>
<circle cx="142.8" cy="711.7" r="0.8" fill="#2a58b8" fill-opacity="0.5"/>
<circle cx="167.6" cy="766.1" r="0.8" fill="#2a58b8" fill-opacity="0.5"/>
<circle cx="201.0" cy="769.6" r="0.8" fill="#2a58b8" fill-opacity="0.5"/>
<circle cx="168.3" cy="768.2" r="0.8" fill="#2a58b8" fill-opacity="0.5"/>
<circle cx="172.4" cy="719.1" r="0.8" fill="#2a58b8" fill-opacity="0.5"/>
<circle cx="178.4" cy="760.2" r="0.8" fill="#2a58b8" fill-opacity="0.5"/>
<circle cx="161.0" cy="747.7" r="0.8" fill="#2a58b8" fill-opacity="0.5"/>
<circle cx="147.2" cy="727.4" r="0.8" fill="#2a58b8" fill-opacity="0.5"/>
<circle cx="160.7" cy="742.1" r="0.8" fill="#2a58b8" fill-opacity="0.5"/>
<circle cx="164.7" cy="715.9" r="0.8" fill="#2a58b8" fill-opacity="0.5"/>
<circle cx="125.9" cy="731.4" r="0.8" fill="#2a58b8" fill-opacity="0.5"/>
<circle cx="185.6" cy="756.7" r="0.8" fill="#2a58b8" fill-opacity="0.5"/>
<circle cx="145.3" cy="726.1" r="0.8" fill="#2a58b8" fill-opacity="0.5"/>
<circle cx="168.8" cy="721.1" r="0.8" fill="#2a58b8" fill-opacity="0.5"/>
<circle cx="176.0" cy="766.4" r="0.8" fill="#2a58b8" fill-opacity="0.5"/>
<circle cx="142.4" cy="746.6" r="0.8" fill="#2a58b8" fill-opacity="0.5"/>
<circle cx="185.9" cy="756.8" r="0.8" fill="#2a58b8" fill-opacity="0.5"/>
<circle cx="185.2" cy="754.4" r="0.8" fill="#2a58b8" fill-opacity="0.5"/>
<circle cx="148.3" cy="762.3" r="0.8" fill="#2a58b8" fill-opacity="0.5"/>
<circle cx="203.1" cy="713.5" r="0.8" fill="#2a58b8" fill-opacity="0.5"/>
<circle cx="204.7" cy="737.7" r="0.8" fill="#2a58b8" fill-opacity="0.5"/>
<circle cx="132.7" cy="714.5" r="0.8" fill="#2a58b8" fill-opacity="0.5"/>
<circle cx="192.3" cy="752.3" r="0.8" fill="#2a58b8" fill-opacity="0.5"/>
<circle cx="137.3" cy="738.8" r="0.8" fill="#2a58b8" fill-opacity="0.5"/>
<circle cx="179.1" cy="772.3" r="0.8" fill="#2a58b8" fill-opacity="0.5"/>
<circle cx="153.6" cy="757.9" r="0.8" fill="#2a58b8" fill-opacity="0.5"/>
<circle cx="146.0" cy="722.6" r="0.8" fill="#2a58b8" fill-opacity="0.5"/>
<circle cx="138.9" cy="735.7" r="0.8" fill="#2a58b8" fill-opacity="0.5"/>
<circle cx="177.3" cy="729.1" r="0.8" fill="#2a58b8" fill-opacity="0.5"/>
<circle cx="139.0" cy="723.8" r="0.8" fill="#2a58b8" fill-opacity="0.5"/>
<circle cx="132.5" cy="722.2" r="0.8" fill="#2a58b8" fill-opacity="0.5"/>
<circle cx="151.9" cy="741.6" r="0.8" fill="#2a58b8" fill-opacity="0.5"/>
<circle cx="140.8" cy="740.0" r="0.8" fill="#2a58b8" fill-opacity="0.5"/>
<circle cx="162.3" cy="770.7" r="0.8" fill="#2a58b8" fill-opacity="0.5"/>
<circle cx="166.2" cy="769.0" r="0.8" fill="#2a58b8" fill-opacity="0.5"/>
<circle cx="165.0" cy="722.5" r="0.8" fill="#2a58b8" fill-opacity="0.5"/>
<circle cx="175.1" cy="719.2" r="0.8" fill="#2a58b8" fill-opacity="0.5"/>
<circle cx="139.6" cy="714.8" r="0.8" fill="#2a58b8" fill-opacity="0.5"/>
<circle cx="184.3" cy="770.3" r="0.8" fill="#2a58b8" fill-opacity="0.5"/>
<circle cx="159.3" cy="732.2" r="0.8" fill="#2a58b8" fill-opacity="0.5"/>
<circle cx="161.1" cy="732.1" r="0.8" fill="#2a58b8" fill-opacity="0.5"/>
<circle cx="183.4" cy="734.6" r="0.8" fill="#2a58b8" fill-opacity="0.5"/>
<circle cx="138.2" cy="764.0" r="0.8" fill="#2a58b8" fill-opacity="0.5"/>
<circle cx="173.5" cy="710.6" r="0.8" fill="#2a58b8" fill-opacity="0.5"/>
<circle cx="196.8" cy="755.5" r="0.8" fill="#2a58b8" fill-opacity="0.5"/>
<circle cx="155.2" cy="749.4" r="0.8" fill="#2a58b8" fill-opacity="0.5"/>
<circle cx="202.7" cy="735.2" r="0.8" fill="#2a58b8" fill-opacity="0.5"/>
<circle cx="161.7" cy="728.7" r="0.8" fill="#2a58b8" fill-opacity="0.5"/>
<circle cx="172.0" cy="751.4" r="0.8" fill="#2a58b8" fill-opacity="0.5"/>
<circle cx="187.1" cy="769.2" r="0.8" fill="#2a58b8" fill-opacity="0.5"/>
<circle cx="137.6" cy="733.0" r="0.8" fill="#2a58b8" fill-opacity="0.5"/>
<circle cx="196.9" cy="759.4" r="0.8" fill="#2a58b8" fill-opacity="0.5"/>
<circle cx="175.0" cy="752.3" r="0.8" fill="#2a58b8" fill-opacity="0.5"/>
<circle cx="154.0" cy="769.0" r="0.8" fill="#2a58b8" fill-opacity="0.5"/>
<circle cx="171.5" cy="735.2" r="0.8" fill="#2a58b8" fill-opacity="0.5"/>
<circle cx="140.7" cy="717.4" r="0.8" fill="#2a58b8" fill-opacity="0.5"/>
<circle cx="200.8" cy="760.0" r="0.8" fill="#2a58b8" fill-opacity="0.5"/>
<circle cx="127.6" cy="730.3" r="0.8" fill="#2a58b8" fill-opacity="0.5"/>
<circle cx="165.7" cy="741.0" r="0.8" fill="#2a58b8" fill-opacity="0.5"/>
<circle cx="155.9" cy="765.9" r="0.8" fill="#2a58b8" fill-opacity="0.5"/>
<circle cx="154.8" cy="743.3" r="0.8" fill="#2a58b8" fill-opacity="0.5"/>
<circle cx="203.5" cy="750.0" r="0.8" fill="#2a58b8" fill-opacity="0.5"/>
<circle cx="165.5" cy="730.9" r="0.8" fill="#2a58b8" fill-opacity="0.5"/>
<circle cx="157.9" cy="748.1" r="0.8" fill="#2a58b8" fill-opacity="0.5"/>
<circle cx="191.4" cy="726.4" r="0.8" fill="#2a58b8" fill-opacity="0.5"/>
<circle cx="156.5" cy="734.3" r="0.8" fill="#2a58b8" fill-opacity="0.5"/>
<circle cx="155.9" cy="767.0" r="0.8" fill="#2a58b8" fill-opacity="0.5"/>
<circle cx="170.7" cy="727.4" r="0.8" fill="#2a58b8" fill-opacity="0.5"/>
<circle cx="153.3" cy="761.3" r="0.8" fill="#2a58b8" fill-opacity="0.5"/>
<circle cx="138.9" cy="753.1" r="0.8" fill="#2a58b8" fill-opacity="0.5"/>
<circle cx="127.2" cy="722.2" r="0.8" fill="#2a58b8" fill-opacity="0.5"/>
<circle cx="130.4" cy="760.3" r="0.8" fill="#2a58b8" fill-opacity="0.5"/>
<circle cx="137.7" cy="724.4" r="0.8" fill="#2a58b8" fill-opacity="0.5"/>
<circle cx="130.2" cy="726.6" r="0.8" fill="#2a58b8" fill-opacity="0.5"/>
<circle cx="187.0" cy="755.0" r="0.8" fill="#2a58b8" fill-opacity="0.5"/>
<circle cx="201.9" cy="769.1" r="0.8" fill="#2a58b8" fill-opacity="0.5"/>
<circle cx="171.7" cy="767.5" r="0.8" fill="#2a58b8" fill-opacity="0.5"/>
<circle cx="132.9" cy="767.7" r="0.8" fill="#2a58b8" fill-opacity="0.5"/>
<circle cx="161.9" cy="722.2" r="0.8" fill="#2a58b8" fill-opacity="0.5"/>
<circle cx="188.2" cy="763.6" r="0.8" fill="#2a58b8" fill-opacity="0.5"/>
<circle cx="157.8" cy="716.0" r="0.8" fill="#2a58b8" fill-opacity="0.5"/>
<circle cx="198.7" cy="757.1" r="0.8" fill="#2a58b8" fill-opacity="0.5"/>
<circle cx="175.5" cy="771.0" r="0.8" fill="#2a58b8" fill-opacity="0.5"/>
<circle cx="128.6" cy="713.7" r="0.8" fill="#2a58b8" fill-opacity="0.5"/>
<circle cx="135.8" cy="711.6" r="0.8" fill="#2a58b8" fill-opacity="0.5"/>
<circle cx="184.9" cy="749.4" r="0.8" fill="#2a58b8" fill-opacity="0.5"/>
<circle cx="134.8" cy="720.3" r="0.8" fill="#2a58b8" fill-opacity="0.5"/>
<circle cx="140.6" cy="748.1" r="0.8" fill="#2a58b8" fill-opacity="0.5"/>
<circle cx="181.9" cy="770.5" r="0.8" fill="#2a58b8" fill-opacity="0.5"/>
<circle cx="155.7" cy="771.1" r="0.8" fill="#2a58b8" fill-opacity="0.5"/>
<circle cx="161.9" cy="734.5" r="0.8" fill="#2a58b8" fill-opacity="0.5"/>
<circle cx="146.7" cy="724.7" r="0.8" fill="#2a58b8" fill-opacity="0.5"/>
<circle cx="207.3" cy="772.1" r="0.8" fill="#2a58b8" fill-opacity="0.5"/>
<circle cx="184.7" cy="721.1" r="0.8" fill="#2a58b8" fill-opacity="0.5"/>
<circle cx="140.5" cy="719.7" r="0.8" fill="#2a58b8" fill-opacity="0.5"/>
<circle cx="154.9" cy="756.1" r="0.8" fill="#2a58b8" fill-opacity="0.5"/>
<circle cx="130.4" cy="743.2" r="0.8" fill="#2a58b8" fill-opacity="0.5"/>
<circle cx="182.6" cy="712.3" r="0.8" fill="#2a58b8" fill-opacity="0.5"/>
<circle cx="162.3" cy="759.4" r="0.8" fill="#2a58b8" fill-opacity="0.5"/>
<circle cx="173.8" cy="738.3" r="0.8" fill="#2a58b8" fill-opacity="0.5"/>
<circle cx="199.4" cy="747.6" r="0.8" fill="#2a58b8" fill-opacity="0.5"/>
<circle cx="153.7" cy="734.8" r="0.8" fill="#2a58b8" fill-opacity="0.5"/>
<circle cx="204.6" cy="763.7" r="0.8" fill="#2a58b8" fill-opacity="0.5"/>
<circle cx="202.2" cy="745.1" r="0.8" fill="#2a58b8" fill-opacity="0.5"/>
<circle cx="137.4" cy="721.1" r="0.8" fill="#2a58b8" fill-opacity="0.5"/>
<circle cx="157.6" cy="753.2" r="0.8" fill="#2a58b8" fill-opacity="0.5"/>
<circle cx="125.8" cy="760.1" r="0.8" fill="#2a58b8" fill-opacity="0.5"/>
<circle cx="191.4" cy="742.2" r="0.8" fill="#2a58b8" fill-opacity="0.5"/>
<circle cx="125.9" cy="759.8" r="0.8" fill="#2a58b8" fill-opacity="0.5"/>
<circle cx="160.2" cy="751.8" r="0.8" fill="#2a58b8" fill-opacity="0.5"/>
<circle cx="173.3" cy="755.5" r="0.8" fill="#2a58b8" fill-opacity="0.5"/>
<circle cx="159.7" cy="769.9" r="0.8" fill="#2a58b8" fill-opacity="0.5"/>
<circle cx="205.7" cy="768.0" r="0.8" fill="#2a58b8" fill-opacity="0.5"/>
<circle cx="177.1" cy="729.9" r="0.8" fill="#2a58b8" fill-opacity="0.5"/>
<circle cx="157.0" cy="726.9" r="0.8" fill="#2a58b8" fill-opacity="0.5"/>
<circle cx="201.3" cy="759.5" r="0.8" fill="#2a58b8" fill-opacity="0.5"/>
<circle cx="191.6" cy="761.3" r="0.8" fill="#2a58b8" fill-opacity="0.5"/>
<circle cx="208.6" cy="753.0" r="0.8" fill="#2a58b8" fill-opacity="0.5"/>
<circle cx="152.1" cy="757.3" r="0.8" fill="#2a58b8" fill-opacity="0.5"/>
<circle cx="147.4" cy="748.2" r="0.8" fill="#2a58b8" fill-opacity="0.5"/>
<circle cx="138.7" cy="763.5" r="0.8" fill="#2a58b8" fill-opacity="0.5"/>
<circle cx="166.5" cy="727.3" r="0.8" fill="#2a58b8" fill-opacity="0.5"/>
<circle cx="202.9" cy="715.4" r="0.8" fill="#2a58b8" fill-opacity="0.5"/>
<circle cx="203.5" cy="757.3" r="0.8" fill="#2a58b8" fill-opacity="0.5"/>
<circle cx="137.9" cy="757.5" r="0.8" fill="#2a58b8" fill-opacity="0.5"/>
<circle cx="173.6" cy="766.6" r="0.8" fill="#2a58b8" fill-opacity="0.5"/>
<circle cx="174.7" cy="736.8" r="0.8" fill="#2a58b8" fill-opacity="0.5"/>
<circle cx="203.8" cy="715.6" r="0.8" fill="#2a58b8" fill-opacity="0.5"/>
<circle cx="190.7" cy="716.6" r="0.8" fill="#2a58b8" fill-opacity="0.5"/>
<circle cx="148.6" cy="717.3" r="0.8" fill="#2a58b8" fill-opacity="0.5"/>
<circle cx="198.6" cy="737.7" r="0.8" fill="#2a58b8" fill-opacity="0.5"/>
<circle cx="186.4" cy="726.2" r="0.8" fill="#2a58b8" fill-opacity="0.5"/>
<circle cx="186.7" cy="750.6" r="0.8" fill="#2a58b8" fill-opacity="0.5"/>
<circle cx="133.6" cy="740.9" r="0.8" fill="#2a58b8" fill-opacity="0.5"/>
<circle cx="186.0" cy="723.5" r="0.8" fill="#2a58b8" fill-opacity="0.5"/>
<circle cx="180.4" cy="727.5" r="0.8" fill="#2a58b8" fill-opacity="0.5"/>
<circle cx="156.5" cy="767.4" r="0.8" fill="#2a58b8" fill-opacity="0.5"/>
<circle cx="204.6" cy="772.3" r="0.8" fill="#2a58b8" fill-opacity="0.5"/>
<circle cx="161.2" cy="745.8" r="0.8" fill="#2a58b8" fill-opacity="0.5"/>
<circle cx="193.3" cy="757.4" r="0.8" fill="#2a58b8" fill-opacity="0.5"/>
<circle cx="163.7" cy="763.9" r="0.8" fill="#2a58b8" fill-opacity="0.5"/>
<circle cx="159.1" cy="769.3" r="0.8" fill="#2a58b8" fill-opacity="0.5"/>
<circle cx="165.1" cy="717.6" r="0.8" fill="#2a58b8" fill-opacity="0.5"/>
<circle cx="188.3" cy="719.2" r="0.8" fill="#2a58b8" fill-opacity="0.5"/>
<circle cx="182.5" cy="713.5" r="0.8" fill="#2a58b8" fill-opacity="0.5"/>
<circle cx="208.4" cy="743.8" r="0.8" fill="#2a58b8" fill-opacity="0.5"/>
<circle cx="187.6" cy="718.4" r="0.8" fill="#2a58b8" fill-opacity="0.5"/>
<circle cx="178.9" cy="733.6" r="0.8" fill="#2a58b8" fill-opacity="0.5"/>
<circle cx="146.3" cy="760.9" r="0.8" fill="#2a58b8" fill-opacity="0.5"/>
<circle cx="128.2" cy="739.9" r="0.8" fill="#2a58b8" fill-opacity="0.5"/>
<circle cx="132.7" cy="763.2" r="0.8" fill="#2a58b8" fill-opacity="0.5"/>
<circle cx="200.4" cy="712.3" r="0.8" fill="#2a58b8" fill-opacity="0.5"/>
<circle cx="164.4" cy="739.4" r="0.8" fill="#2a58b8" fill-opacity="0.5"/>
<circle cx="185.8" cy="755.6" r="0.8" fill="#2a58b8" fill-opacity="0.5"/>
<circle cx="154.2" cy="768.2" r="0.8" fill="#2a58b8" fill-opacity="0.5"/>
<circle cx="141.0" cy="718.7" r="0.8" fill="#2a58b8" fill-opacity="0.5"/>
<circle cx="193.8" cy="717.7" r="0.8" fill="#2a58b8" fill-opacity="0.5"/>
<circle cx="141.0" cy="741.3" r="0.8" fill="#2a58b8" fill-opacity="0.5"/>
<circle cx="153.7" cy="720.4" r="0.8" fill="#2a58b8" fill-opacity="0.5"/>
<circle cx="203.5" cy="739.7" r="0.8" fill="#2a58b8" fill-opacity="0.5"/>
<circle cx="191.4" cy="725.8" r="0.8" fill="#2a58b8" fill-opacity="0.5"/>
<circle cx="202.1" cy="724.0" r="0.8" fill="#2a58b8" fill-opacity="0.5"/>
<circle cx="201.5" cy="748.3" r="0.8" fill="#2a58b8" fill-opacity="0.5"/>
<circle cx="207.0" cy="758.2" r="0.8" fill="#2a58b8" fill-opacity="0.5"/>
<circle cx="178.4" cy="743.3" r="0.8" fill="#2a58b8" fill-opacity="0.5"/>
<circle cx="197.2" cy="737.8" r="0.8" fill="#2a58b8" fill-opacity="0.5"/>
<circle cx="133.7" cy="767.0" r="0.8" fill="#2a58b8" fill-opacity="0.5"/>
<circle cx="193.1" cy="752.6" r="0.8" fill="#2a58b8" fill-opacity="0.5"/>
<circle cx="188.0" cy="724.6" r="0.8" fill="#2a58b8" fill-opacity="0.5"/>
<circle cx="164.3" cy="761.4" r="0.8" fill="#2a58b8" fill-opacity="0.5"/>
<circle cx="206.2" cy="767.6" r="0.8" fill="#2a58b8" fill-opacity="0.5"/>
<circle cx="138.9" cy="752.7" r="0.8" fill="#2a58b8" fill-opacity="0.5"/>
<circle cx="171.9" cy="735.4" r="0.8" fill="#2a58b8" fill-opacity="0.5"/>
<circle cx="139.5" cy="718.7" r="0.8" fill="#2a58b8" fill-opacity="0.5"/>
<circle cx="164.9" cy="740.9" r="0.8" fill="#2a58b8" fill-opacity="0.5"/>
<circle cx="147.9" cy="733.1" r="0.8" fill="#2a58b8" fill-opacity="0.5"/>
<circle cx="171.9" cy="757.6" r="0.8" fill="#2a58b8" fill-opacity="0.5"/>
<circle cx="174.9" cy="720.3" r="0.8" fill="#2a58b8" fill-opacity="0.5"/>
<circle cx="199.8" cy="733.1" r="0.8" fill="#2a58b8" fill-opacity="0.5"/>
<circle cx="206.0" cy="771.3" r="0.8" fill="#2a58b8" fill-opacity="0.5"/>
<circle cx="137.2" cy="746.4" r="0.8" fill="#2a58b8" fill-opacity="0.5"/>
<circle cx="206.6" cy="734.1" r="0.8" fill="#2a58b8" fill-opacity="0.5"/>
<circle cx="171.4" cy="729.7" r="0.8" fill="#2a58b8" fill-opacity="0.5"/>
<circle cx="127.8" cy="722.9" r="0.8" fill="#2a58b8" fill-opacity="0.5"/>
</g>
<g clip-path="url(#cg9)" filter="url(#blur3)">
<line x1="173.5" y1="756.9" x2="168.9" y2="749.8" stroke="#48d080" stroke-width="1.4" stroke-opacity="0.52" stroke-linecap="round"/>
<line x1="128.0" y1="775.9" x2="123.5" y2="768.9" stroke="#48d080" stroke-width="1.3" stroke-opacity="0.52" stroke-linecap="round"/>
<line x1="144.8" y1="764.9" x2="136.6" y2="756.5" stroke="#48d080" stroke-width="0.8" stroke-opacity="0.61" stroke-linecap="round"/>
<line x1="163.4" y1="747.6" x2="160.1" y2="743.0" stroke="#48d080" stroke-width="1.0" stroke-opacity="0.35" stroke-linecap="round"/>
<line x1="178.2" y1="729.5" x2="172.3" y2="719.8" stroke="#48d080" stroke-width="1.4" stroke-opacity="0.52" stroke-linecap="round"/>
<line x1="161.7" y1="745.7" x2="155.7" y2="741.3" stroke="#48d080" stroke-width="1.4" stroke-opacity="0.41" stroke-linecap="round"/>
<line x1="160.1" y1="747.8" x2="152.8" y2="739.3" stroke="#48d080" stroke-width="1.1" stroke-opacity="0.57" stroke-linecap="round"/>
<line x1="177.1" y1="748.8" x2="169.1" y2="741.8" stroke="#48d080" stroke-width="0.7" stroke-opacity="0.60" stroke-linecap="round"/>
<line x1="156.2" y1="775.0" x2="152.3" y2="769.8" stroke="#48d080" stroke-width="1.4" stroke-opacity="0.44" stroke-linecap="round"/>
<line x1="159.0" y1="744.2" x2="153.9" y2="733.6" stroke="#48d080" stroke-width="0.7" stroke-opacity="0.54" stroke-linecap="round"/>
<line x1="160.6" y1="756.6" x2="154.4" y2="749.7" stroke="#48d080" stroke-width="1.4" stroke-opacity="0.62" stroke-linecap="round"/>
<line x1="189.7" y1="745.8" x2="186.9" y2="741.3" stroke="#48d080" stroke-width="1.2" stroke-opacity="0.48" stroke-linecap="round"/>
<line x1="132.3" y1="772.0" x2="128.6" y2="768.5" stroke="#48d080" stroke-width="0.7" stroke-opacity="0.36" stroke-linecap="round"/>
<line x1="130.0" y1="732.3" x2="123.9" y2="727.0" stroke="#48d080" stroke-width="1.1" stroke-opacity="0.48" stroke-linecap="round"/>
<line x1="138.4" y1="755.9" x2="134.7" y2="753.3" stroke="#48d080" stroke-width="0.9" stroke-opacity="0.38" stroke-linecap="round"/>
<line x1="161.0" y1="735.5" x2="158.4" y2="730.2" stroke="#48d080" stroke-width="0.7" stroke-opacity="0.46" stroke-linecap="round"/>
<line x1="145.9" y1="756.1" x2="143.2" y2="751.0" stroke="#48d080" stroke-width="1.1" stroke-opacity="0.57" stroke-linecap="round"/>
<line x1="137.0" y1="753.9" x2="133.6" y2="745.7" stroke="#48d080" stroke-width="0.7" stroke-opacity="0.33" stroke-linecap="round"/>
<line x1="179.0" y1="754.1" x2="171.8" y2="748.5" stroke="#48d080" stroke-width="0.9" stroke-opacity="0.41" stroke-linecap="round"/>
<line x1="127.3" y1="743.4" x2="123.5" y2="739.8" stroke="#48d080" stroke-width="0.8" stroke-opacity="0.41" stroke-linecap="round"/>
<line x1="188.5" y1="733.4" x2="185.0" y2="729.3" stroke="#48d080" stroke-width="0.6" stroke-opacity="0.35" stroke-linecap="round"/>
<line x1="179.9" y1="728.9" x2="173.0" y2="723.1" stroke="#48d080" stroke-width="0.6" stroke-opacity="0.47" stroke-linecap="round"/>
<line x1="156.4" y1="754.9" x2="151.7" y2="746.4" stroke="#48d080" stroke-width="1.0" stroke-opacity="0.36" stroke-linecap="round"/>
<line x1="149.4" y1="731.9" x2="146.9" y2="727.9" stroke="#48d080" stroke-width="1.3" stroke-opacity="0.31" stroke-linecap="round"/>
<line x1="164.4" y1="761.4" x2="160.9" y2="758.3" stroke="#48d080" stroke-width="1.1" stroke-opacity="0.62" stroke-linecap="round"/>
<line x1="152.1" y1="757.4" x2="149.1" y2="752.5" stroke="#48d080" stroke-width="0.9" stroke-opacity="0.52" stroke-linecap="round"/>
<line x1="151.2" y1="750.8" x2="144.6" y2="745.7" stroke="#48d080" stroke-width="1.4" stroke-opacity="0.60" stroke-linecap="round"/>
<line x1="180.8" y1="757.4" x2="177.4" y2="753.0" stroke="#48d080" stroke-width="1.1" stroke-opacity="0.46" stroke-linecap="round"/>
<line x1="167.3" y1="737.2" x2="163.3" y2="727.5" stroke="#48d080" stroke-width="1.0" stroke-opacity="0.35" stroke-linecap="round"/>
<line x1="150.6" y1="749.3" x2="145.6" y2="741.1" stroke="#48d080" stroke-width="1.1" stroke-opacity="0.61" stroke-linecap="round"/>
<line x1="192.1" y1="753.5" x2="189.8" y2="749.1" stroke="#48d080" stroke-width="0.9" stroke-opacity="0.33" stroke-linecap="round"/>
<line x1="133.1" y1="735.5" x2="126.6" y2="728.5" stroke="#48d080" stroke-width="0.9" stroke-opacity="0.53" stroke-linecap="round"/>
<line x1="150.5" y1="774.0" x2="147.9" y2="770.8" stroke="#48d080" stroke-width="0.7" stroke-opacity="0.54" stroke-linecap="round"/>
<line x1="182.9" y1="731.3" x2="174.5" y2="724.2" stroke="#48d080" stroke-width="1.2" stroke-opacity="0.35" stroke-linecap="round"/>
<line x1="137.9" y1="761.5" x2="134.3" y2="759.0" stroke="#48d080" stroke-width="0.9" stroke-opacity="0.58" stroke-linecap="round"/>
<line x1="179.4" y1="748.8" x2="175.4" y2="739.4" stroke="#48d080" stroke-width="1.3" stroke-opacity="0.49" stroke-linecap="round"/>
<line x1="190.2" y1="744.1" x2="187.0" y2="736.2" stroke="#48d080" stroke-width="0.8" stroke-opacity="0.47" stroke-linecap="round"/>
<line x1="142.8" y1="748.9" x2="137.4" y2="742.9" stroke="#48d080" stroke-width="1.1" stroke-opacity="0.38" stroke-linecap="round"/>
<line x1="157.0" y1="765.4" x2="152.5" y2="759.6" stroke="#48d080" stroke-width="1.1" stroke-opacity="0.37" stroke-linecap="round"/>
<line x1="144.7" y1="746.2" x2="140.2" y2="737.7" stroke="#48d080" stroke-width="1.2" stroke-opacity="0.47" stroke-linecap="round"/>
<line x1="161.4" y1="775.2" x2="157.2" y2="769.6" stroke="#48d080" stroke-width="0.8" stroke-opacity="0.43" stroke-linecap="round"/>
<line x1="152.1" y1="720.5" x2="146.0" y2="712.8" stroke="#48d080" stroke-width="0.8" stroke-opacity="0.45" stroke-linecap="round"/>
<line x1="151.1" y1="758.5" x2="144.3" y2="751.1" stroke="#48d080" stroke-width="1.2" stroke-opacity="0.37" stroke-linecap="round"/>
<line x1="165.2" y1="775.5" x2="160.2" y2="767.5" stroke="#48d080" stroke-width="1.1" stroke-opacity="0.52" stroke-linecap="round"/>
<line x1="159.4" y1="751.4" x2="156.5" y2="748.3" stroke="#48d080" stroke-width="1.4" stroke-opacity="0.47" stroke-linecap="round"/>
<line x1="134.0" y1="712.8" x2="131.4" y2="707.6" stroke="#48d080" stroke-width="0.9" stroke-opacity="0.34" stroke-linecap="round"/>
<line x1="170.9" y1="722.8" x2="166.6" y2="717.3" stroke="#48d080" stroke-width="0.8" stroke-opacity="0.46" stroke-linecap="round"/>
<line x1="150.8" y1="717.2" x2="146.1" y2="707.4" stroke="#48d080" stroke-width="1.0" stroke-opacity="0.44" stroke-linecap="round"/>
<line x1="138.7" y1="774.1" x2="134.8" y2="770.7" stroke="#48d080" stroke-width="0.8" stroke-opacity="0.60" stroke-linecap="round"/>
<line x1="172.7" y1="738.3" x2="168.0" y2="728.2" stroke="#48d080" stroke-width="0.9" stroke-opacity="0.37" stroke-linecap="round"/>
<line x1="166.2" y1="733.0" x2="157.5" y2="726.0" stroke="#48d080" stroke-width="1.0" stroke-opacity="0.43" stroke-linecap="round"/>
<line x1="148.6" y1="739.8" x2="142.8" y2="735.6" stroke="#48d080" stroke-width="0.9" stroke-opacity="0.31" stroke-linecap="round"/>
<line x1="137.6" y1="766.8" x2="131.1" y2="760.0" stroke="#48d080" stroke-width="1.1" stroke-opacity="0.37" stroke-linecap="round"/>
<line x1="192.0" y1="750.0" x2="188.4" y2="744.7" stroke="#48d080" stroke-width="0.8" stroke-opacity="0.58" stroke-linecap="round"/>
<line x1="174.3" y1="741.8" x2="169.5" y2="734.7" stroke="#48d080" stroke-width="0.9" stroke-opacity="0.32" stroke-linecap="round"/>
<line x1="147.5" y1="767.7" x2="143.0" y2="761.0" stroke="#48d080" stroke-width="0.7" stroke-opacity="0.38" stroke-linecap="round"/>
<line x1="154.6" y1="763.5" x2="147.0" y2="755.2" stroke="#48d080" stroke-width="0.7" stroke-opacity="0.62" stroke-linecap="round"/>
<line x1="164.7" y1="775.4" x2="158.3" y2="769.4" stroke="#48d080" stroke-width="0.9" stroke-opacity="0.32" stroke-linecap="round"/>
<line x1="173.7" y1="720.8" x2="166.4" y2="713.7" stroke="#48d080" stroke-width="1.0" stroke-opacity="0.62" stroke-linecap="round"/>
<line x1="181.6" y1="752.6" x2="175.1" y2="746.4" stroke="#48d080" stroke-width="1.2" stroke-opacity="0.57" stroke-linecap="round"/>
<line x1="140.3" y1="742.0" x2="138.1" y2="737.7" stroke="#48d080" stroke-width="0.8" stroke-opacity="0.54" stroke-linecap="round"/>
<line x1="128.4" y1="764.7" x2="122.4" y2="759.9" stroke="#48d080" stroke-width="0.8" stroke-opacity="0.31" stroke-linecap="round"/>
<line x1="169.1" y1="750.9" x2="164.1" y2="745.4" stroke="#48d080" stroke-width="1.0" stroke-opacity="0.40" stroke-linecap="round"/>
<line x1="152.4" y1="729.0" x2="150.5" y2="724.0" stroke="#48d080" stroke-width="1.0" stroke-opacity="0.46" stroke-linecap="round"/>
<line x1="134.2" y1="770.4" x2="126.0" y2="763.0" stroke="#48d080" stroke-width="0.9" stroke-opacity="0.41" stroke-linecap="round"/>
</g>
<rect x="125.40" y="710.20" width="84.00" height="62.20" fill="url(#vg9)"/>
<rect x="201.80" y="769.20" width="5.20" height="1.50" fill="#fff" stroke="none" stroke-width="0"/>
<rect x="212.00" y="710.20" width="84.20" height="62.20" fill="url(#g10)"/>
<rect x="212.00" y="710.20" width="84.20" height="62.20" fill="url(#hg10)"/>
<g clip-path="url(#cg10)" filter="url(#blur2)">
<circle cx="263.8" cy="745.2" r="0.8" fill="#2a58b8" fill-opacity="0.5"/>
<circle cx="235.9" cy="715.5" r="0.8" fill="#2a58b8" fill-opacity="0.5"/>
<circle cx="292.4" cy="733.2" r="0.8" fill="#2a58b8" fill-opacity="0.5"/>
<circle cx="221.6" cy="751.0" r="0.8" fill="#2a58b8" fill-opacity="0.5"/>
<circle cx="256.8" cy="730.6" r="0.8" fill="#2a58b8" fill-opacity="0.5"/>
<circle cx="239.7" cy="762.8" r="0.8" fill="#2a58b8" fill-opacity="0.5"/>
<circle cx="240.5" cy="736.2" r="0.8" fill="#2a58b8" fill-opacity="0.5"/>
<circle cx="292.6" cy="732.6" r="0.8" fill="#2a58b8" fill-opacity="0.5"/>
<circle cx="245.9" cy="720.3" r="0.8" fill="#2a58b8" fill-opacity="0.5"/>
<circle cx="267.8" cy="751.5" r="0.8" fill="#2a58b8" fill-opacity="0.5"/>
<circle cx="249.6" cy="735.4" r="0.8" fill="#2a58b8" fill-opacity="0.5"/>
<circle cx="231.6" cy="759.3" r="0.8" fill="#2a58b8" fill-opacity="0.5"/>
<circle cx="250.5" cy="761.9" r="0.8" fill="#2a58b8" fill-opacity="0.5"/>
<circle cx="243.6" cy="755.8" r="0.8" fill="#2a58b8" fill-opacity="0.5"/>
<circle cx="214.4" cy="723.9" r="0.8" fill="#2a58b8" fill-opacity="0.5"/>
<circle cx="292.9" cy="752.6" r="0.8" fill="#2a58b8" fill-opacity="0.5"/>
<circle cx="268.9" cy="741.1" r="0.8" fill="#2a58b8" fill-opacity="0.5"/>
<circle cx="251.8" cy="722.5" r="0.8" fill="#2a58b8" fill-opacity="0.5"/>
<circle cx="226.6" cy="750.3" r="0.8" fill="#2a58b8" fill-opacity="0.5"/>
<circle cx="270.4" cy="726.3" r="0.8" fill="#2a58b8" fill-opacity="0.5"/>
<circle cx="266.3" cy="718.7" r="0.8" fill="#2a58b8" fill-opacity="0.5"/>
<circle cx="263.6" cy="720.9" r="0.8" fill="#2a58b8" fill-opacity="0.5"/>
<circle cx="254.9" cy="729.7" r="0.8" fill="#2a58b8" fill-opacity="0.5"/>
<circle cx="258.4" cy="718.5" r="0.8" fill="#2a58b8" fill-opacity="0.5"/>
<circle cx="252.7" cy="748.6" r="0.8" fill="#2a58b8" fill-opacity="0.5"/>
<circle cx="223.3" cy="729.4" r="0.8" fill="#2a58b8" fill-opacity="0.5"/>
<circle cx="269.1" cy="744.2" r="0.8" fill="#2a58b8" fill-opacity="0.5"/>
<circle cx="263.9" cy="758.7" r="0.8" fill="#2a58b8" fill-opacity="0.5"/>
<circle cx="260.1" cy="724.0" r="0.8" fill="#2a58b8" fill-opacity="0.5"/>
<circle cx="249.3" cy="761.8" r="0.8" fill="#2a58b8" fill-opacity="0.5"/>
<circle cx="259.7" cy="757.0" r="0.8" fill="#2a58b8" fill-opacity="0.5"/>
<circle cx="242.7" cy="738.1" r="0.8" fill="#2a58b8" fill-opacity="0.5"/>
<circle cx="293.7" cy="761.3" r="0.8" fill="#2a58b8" fill-opacity="0.5"/>
<circle cx="267.0" cy="716.8" r="0.8" fill="#2a58b8" fill-opacity="0.5"/>
<circle cx="263.5" cy="712.3" r="0.8" fill="#2a58b8" fill-opacity="0.5"/>
<circle cx="290.6" cy="770.7" r="0.8" fill="#2a58b8" fill-opacity="0.5"/>
<circle cx="273.3" cy="726.8" r="0.8" fill="#2a58b8" fill-opacity="0.5"/>
<circle cx="283.2" cy="721.2" r="0.8" fill="#2a58b8" fill-opacity="0.5"/>
<circle cx="281.7" cy="742.6" r="0.8" fill="#2a58b8" fill-opacity="0.5"/>
<circle cx="213.3" cy="765.6" r="0.8" fill="#2a58b8" fill-opacity="0.5"/>
<circle cx="249.1" cy="761.8" r="0.8" fill="#2a58b8" fill-opacity="0.5"/>
<circle cx="270.0" cy="743.3" r="0.8" fill="#2a58b8" fill-opacity="0.5"/>
<circle cx="284.6" cy="722.8" r="0.8" fill="#2a58b8" fill-opacity="0.5"/>
<circle cx="287.7" cy="731.3" r="0.8" fill="#2a58b8" fill-opacity="0.5"/>
<circle cx="214.2" cy="731.1" r="0.8" fill="#2a58b8" fill-opacity="0.5"/>
<circle cx="217.6" cy="714.7" r="0.8" fill="#2a58b8" fill-opacity="0.5"/>
<circle cx="264.6" cy="717.7" r="0.8" fill="#2a58b8" fill-opacity="0.5"/>
<circle cx="225.4" cy="728.4" r="0.8" fill="#2a58b8" fill-opacity="0.5"/>
<circle cx="235.5" cy="767.4" r="0.8" fill="#2a58b8" fill-opacity="0.5"/>
<circle cx="288.2" cy="764.3" r="0.8" fill="#2a58b8" fill-opacity="0.5"/>
<circle cx="295.3" cy="737.6" r="0.8" fill="#2a58b8" fill-opacity="0.5"/>
<circle cx="279.0" cy="727.7" r="0.8" fill="#2a58b8" fill-opacity="0.5"/>
<circle cx="290.0" cy="760.6" r="0.8" fill="#2a58b8" fill-opacity="0.5"/>
<circle cx="273.6" cy="724.4" r="0.8" fill="#2a58b8" fill-opacity="0.5"/>
<circle cx="219.7" cy="767.7" r="0.8" fill="#2a58b8" fill-opacity="0.5"/>
<circle cx="258.5" cy="748.3" r="0.8" fill="#2a58b8" fill-opacity="0.5"/>
<circle cx="284.6" cy="719.1" r="0.8" fill="#2a58b8" fill-opacity="0.5"/>
<circle cx="270.9" cy="739.1" r="0.8" fill="#2a58b8" fill-opacity="0.5"/>
<circle cx="278.2" cy="738.6" r="0.8" fill="#2a58b8" fill-opacity="0.5"/>
<circle cx="228.6" cy="769.7" r="0.8" fill="#2a58b8" fill-opacity="0.5"/>
<circle cx="235.7" cy="756.5" r="0.8" fill="#2a58b8" fill-opacity="0.5"/>
<circle cx="282.0" cy="725.6" r="0.8" fill="#2a58b8" fill-opacity="0.5"/>
<circle cx="270.5" cy="734.8" r="0.8" fill="#2a58b8" fill-opacity="0.5"/>
<circle cx="230.9" cy="723.7" r="0.8" fill="#2a58b8" fill-opacity="0.5"/>
<circle cx="292.3" cy="733.1" r="0.8" fill="#2a58b8" fill-opacity="0.5"/>
<circle cx="254.9" cy="741.4" r="0.8" fill="#2a58b8" fill-opacity="0.5"/>
<circle cx="214.2" cy="757.1" r="0.8" fill="#2a58b8" fill-opacity="0.5"/>
<circle cx="274.7" cy="764.7" r="0.8" fill="#2a58b8" fill-opacity="0.5"/>
<circle cx="242.1" cy="723.2" r="0.8" fill="#2a58b8" fill-opacity="0.5"/>
<circle cx="241.3" cy="755.7" r="0.8" fill="#2a58b8" fill-opacity="0.5"/>
<circle cx="267.4" cy="735.5" r="0.8" fill="#2a58b8" fill-opacity="0.5"/>
<circle cx="256.2" cy="719.8" r="0.8" fill="#2a58b8" fill-opacity="0.5"/>
<circle cx="289.3" cy="739.5" r="0.8" fill="#2a58b8" fill-opacity="0.5"/>
<circle cx="254.7" cy="759.2" r="0.8" fill="#2a58b8" fill-opacity="0.5"/>
<circle cx="228.7" cy="755.1" r="0.8" fill="#2a58b8" fill-opacity="0.5"/>
<circle cx="241.7" cy="760.7" r="0.8" fill="#2a58b8" fill-opacity="0.5"/>
<circle cx="219.9" cy="727.4" r="0.8" fill="#2a58b8" fill-opacity="0.5"/>
<circle cx="265.5" cy="740.2" r="0.8" fill="#2a58b8" fill-opacity="0.5"/>
<circle cx="243.7" cy="746.2" r="0.8" fill="#2a58b8" fill-opacity="0.5"/>
<circle cx="230.3" cy="737.4" r="0.8" fill="#2a58b8" fill-opacity="0.5"/>
<circle cx="212.2" cy="759.9" r="0.8" fill="#2a58b8" fill-opacity="0.5"/>
<circle cx="233.4" cy="761.9" r="0.8" fill="#2a58b8" fill-opacity="0.5"/>
<circle cx="258.5" cy="747.6" r="0.8" fill="#2a58b8" fill-opacity="0.5"/>
<circle cx="264.7" cy="718.0" r="0.8" fill="#2a58b8" fill-opacity="0.5"/>
<circle cx="277.4" cy="728.4" r="0.8" fill="#2a58b8" fill-opacity="0.5"/>
<circle cx="284.6" cy="759.1" r="0.8" fill="#2a58b8" fill-opacity="0.5"/>
<circle cx="269.1" cy="760.9" r="0.8" fill="#2a58b8" fill-opacity="0.5"/>
<circle cx="248.8" cy="752.1" r="0.8" fill="#2a58b8" fill-opacity="0.5"/>
<circle cx="292.2" cy="722.0" r="0.8" fill="#2a58b8" fill-opacity="0.5"/>
<circle cx="220.5" cy="735.8" r="0.8" fill="#2a58b8" fill-opacity="0.5"/>
<circle cx="254.9" cy="719.5" r="0.8" fill="#2a58b8" fill-opacity="0.5"/>
<circle cx="230.6" cy="764.1" r="0.8" fill="#2a58b8" fill-opacity="0.5"/>
<circle cx="244.7" cy="719.5" r="0.8" fill="#2a58b8" fill-opacity="0.5"/>
<circle cx="227.4" cy="746.1" r="0.8" fill="#2a58b8" fill-opacity="0.5"/>
<circle cx="228.0" cy="739.7" r="0.8" fill="#2a58b8" fill-opacity="0.5"/>
<circle cx="257.3" cy="737.5" r="0.8" fill="#2a58b8" fill-opacity="0.5"/>
<circle cx="254.4" cy="762.3" r="0.8" fill="#2a58b8" fill-opacity="0.5"/>
<circle cx="213.4" cy="768.0" r="0.8" fill="#2a58b8" fill-opacity="0.5"/>
<circle cx="228.8" cy="712.6" r="0.8" fill="#2a58b8" fill-opacity="0.5"/>
<circle cx="276.6" cy="745.7" r="0.8" fill="#2a58b8" fill-opacity="0.5"/>
<circle cx="257.3" cy="723.7" r="0.8" fill="#2a58b8" fill-opacity="0.5"/>
<circle cx="277.8" cy="729.3" r="0.8" fill="#2a58b8" fill-opacity="0.5"/>
<circle cx="273.2" cy="724.4" r="0.8" fill="#2a58b8" fill-opacity="0.5"/>
<circle cx="260.2" cy="750.5" r="0.8" fill="#2a58b8" fill-opacity="0.5"/>
<circle cx="243.3" cy="740.1" r="0.8" fill="#2a58b8" fill-opacity="0.5"/>
<circle cx="217.5" cy="750.2" r="0.8" fill="#2a58b8" fill-opacity="0.5"/>
<circle cx="270.2" cy="719.7" r="0.8" fill="#2a58b8" fill-opacity="0.5"/>
<circle cx="258.4" cy="755.8" r="0.8" fill="#2a58b8" fill-opacity="0.5"/>
<circle cx="220.5" cy="762.4" r="0.8" fill="#2a58b8" fill-opacity="0.5"/>
<circle cx="285.3" cy="713.3" r="0.8" fill="#2a58b8" fill-opacity="0.5"/>
<circle cx="232.9" cy="715.4" r="0.8" fill="#2a58b8" fill-opacity="0.5"/>
<circle cx="233.3" cy="715.6" r="0.8" fill="#2a58b8" fill-opacity="0.5"/>
<circle cx="253.2" cy="725.8" r="0.8" fill="#2a58b8" fill-opacity="0.5"/>
<circle cx="237.3" cy="738.9" r="0.8" fill="#2a58b8" fill-opacity="0.5"/>
<circle cx="243.3" cy="759.2" r="0.8" fill="#2a58b8" fill-opacity="0.5"/>
<circle cx="272.9" cy="717.3" r="0.8" fill="#2a58b8" fill-opacity="0.5"/>
<circle cx="230.8" cy="710.7" r="0.8" fill="#2a58b8" fill-opacity="0.5"/>
<circle cx="239.7" cy="716.9" r="0.8" fill="#2a58b8" fill-opacity="0.5"/>
<circle cx="270.7" cy="758.7" r="0.8" fill="#2a58b8" fill-opacity="0.5"/>
<circle cx="295.8" cy="723.2" r="0.8" fill="#2a58b8" fill-opacity="0.5"/>
<circle cx="215.1" cy="757.3" r="0.8" fill="#2a58b8" fill-opacity="0.5"/>
<circle cx="246.7" cy="768.1" r="0.8" fill="#2a58b8" fill-opacity="0.5"/>
<circle cx="245.0" cy="729.6" r="0.8" fill="#2a58b8" fill-opacity="0.5"/>
<circle cx="218.1" cy="769.2" r="0.8" fill="#2a58b8" fill-opacity="0.5"/>
<circle cx="255.1" cy="737.6" r="0.8" fill="#2a58b8" fill-opacity="0.5"/>
<circle cx="248.8" cy="758.0" r="0.8" fill="#2a58b8" fill-opacity="0.5"/>
<circle cx="282.0" cy="739.8" r="0.8" fill="#2a58b8" fill-opacity="0.5"/>
<circle cx="227.0" cy="735.5" r="0.8" fill="#2a58b8" fill-opacity="0.5"/>
<circle cx="287.0" cy="735.6" r="0.8" fill="#2a58b8" fill-opacity="0.5"/>
<circle cx="267.6" cy="745.0" r="0.8" fill="#2a58b8" fill-opacity="0.5"/>
<circle cx="250.8" cy="746.0" r="0.8" fill="#2a58b8" fill-opacity="0.5"/>
<circle cx="232.6" cy="744.9" r="0.8" fill="#2a58b8" fill-opacity="0.5"/>
<circle cx="284.8" cy="715.2" r="0.8" fill="#2a58b8" fill-opacity="0.5"/>
<circle cx="243.1" cy="765.0" r="0.8" fill="#2a58b8" fill-opacity="0.5"/>
<circle cx="294.4" cy="711.0" r="0.8" fill="#2a58b8" fill-opacity="0.5"/>
<circle cx="264.8" cy="749.5" r="0.8" fill="#2a58b8" fill-opacity="0.5"/>
<circle cx="283.0" cy="739.4" r="0.8" fill="#2a58b8" fill-opacity="0.5"/>
<circle cx="223.0" cy="728.9" r="0.8" fill="#2a58b8" fill-opacity="0.5"/>
<circle cx="272.0" cy="755.5" r="0.8" fill="#2a58b8" fill-opacity="0.5"/>
<circle cx="229.2" cy="750.2" r="0.8" fill="#2a58b8" fill-opacity="0.5"/>
<circle cx="267.3" cy="751.1" r="0.8" fill="#2a58b8" fill-opacity="0.5"/>
<circle cx="213.8" cy="737.7" r="0.8" fill="#2a58b8" fill-opacity="0.5"/>
<circle cx="239.4" cy="747.3" r="0.8" fill="#2a58b8" fill-opacity="0.5"/>
<circle cx="240.4" cy="718.2" r="0.8" fill="#2a58b8" fill-opacity="0.5"/>
<circle cx="268.4" cy="728.0" r="0.8" fill="#2a58b8" fill-opacity="0.5"/>
<circle cx="278.6" cy="729.2" r="0.8" fill="#2a58b8" fill-opacity="0.5"/>
<circle cx="258.0" cy="760.5" r="0.8" fill="#2a58b8" fill-opacity="0.5"/>
<circle cx="221.7" cy="755.7" r="0.8" fill="#2a58b8" fill-opacity="0.5"/>
<circle cx="217.7" cy="768.4" r="0.8" fill="#2a58b8" fill-opacity="0.5"/>
<circle cx="214.1" cy="755.2" r="0.8" fill="#2a58b8" fill-opacity="0.5"/>
<circle cx="243.0" cy="721.4" r="0.8" fill="#2a58b8" fill-opacity="0.5"/>
<circle cx="245.3" cy="741.4" r="0.8" fill="#2a58b8" fill-opacity="0.5"/>
<circle cx="246.9" cy="717.8" r="0.8" fill="#2a58b8" fill-opacity="0.5"/>
<circle cx="256.0" cy="728.9" r="0.8" fill="#2a58b8" fill-opacity="0.5"/>
<circle cx="293.4" cy="734.0" r="0.8" fill="#2a58b8" fill-opacity="0.5"/>
<circle cx="248.7" cy="724.4" r="0.8" fill="#2a58b8" fill-opacity="0.5"/>
<circle cx="293.6" cy="730.2" r="0.8" fill="#2a58b8" fill-opacity="0.5"/>
<circle cx="266.4" cy="762.0" r="0.8" fill="#2a58b8" fill-opacity="0.5"/>
<circle cx="245.1" cy="757.2" r="0.8" fill="#2a58b8" fill-opacity="0.5"/>
<circle cx="235.5" cy="717.0" r="0.8" fill="#2a58b8" fill-opacity="0.5"/>
<circle cx="215.6" cy="738.1" r="0.8" fill="#2a58b8" fill-opacity="0.5"/>
<circle cx="285.6" cy="722.8" r="0.8" fill="#2a58b8" fill-opacity="0.5"/>
<circle cx="249.1" cy="757.6" r="0.8" fill="#2a58b8" fill-opacity="0.5"/>
<circle cx="235.3" cy="719.7" r="0.8" fill="#2a58b8" fill-opacity="0.5"/>
<circle cx="255.7" cy="736.7" r="0.8" fill="#2a58b8" fill-opacity="0.5"/>
<circle cx="291.0" cy="766.0" r="0.8" fill="#2a58b8" fill-opacity="0.5"/>
<circle cx="232.0" cy="745.1" r="0.8" fill="#2a58b8" fill-opacity="0.5"/>
<circle cx="247.0" cy="712.3" r="0.8" fill="#2a58b8" fill-opacity="0.5"/>
<circle cx="249.4" cy="767.2" r="0.8" fill="#2a58b8" fill-opacity="0.5"/>
<circle cx="237.5" cy="746.7" r="0.8" fill="#2a58b8" fill-opacity="0.5"/>
<circle cx="271.8" cy="714.1" r="0.8" fill="#2a58b8" fill-opacity="0.5"/>
<circle cx="289.8" cy="717.0" r="0.8" fill="#2a58b8" fill-opacity="0.5"/>
<circle cx="237.4" cy="754.7" r="0.8" fill="#2a58b8" fill-opacity="0.5"/>
<circle cx="213.6" cy="733.6" r="0.8" fill="#2a58b8" fill-opacity="0.5"/>
<circle cx="222.7" cy="739.6" r="0.8" fill="#2a58b8" fill-opacity="0.5"/>
<circle cx="213.3" cy="719.6" r="0.8" fill="#2a58b8" fill-opacity="0.5"/>
<circle cx="230.7" cy="715.3" r="0.8" fill="#2a58b8" fill-opacity="0.5"/>
<circle cx="219.6" cy="722.3" r="0.8" fill="#2a58b8" fill-opacity="0.5"/>
<circle cx="255.6" cy="718.7" r="0.8" fill="#2a58b8" fill-opacity="0.5"/>
<circle cx="281.1" cy="736.1" r="0.8" fill="#2a58b8" fill-opacity="0.5"/>
<circle cx="233.2" cy="725.2" r="0.8" fill="#2a58b8" fill-opacity="0.5"/>
<circle cx="282.7" cy="713.1" r="0.8" fill="#2a58b8" fill-opacity="0.5"/>
<circle cx="274.5" cy="716.3" r="0.8" fill="#2a58b8" fill-opacity="0.5"/>
<circle cx="291.5" cy="735.6" r="0.8" fill="#2a58b8" fill-opacity="0.5"/>
<circle cx="262.3" cy="763.9" r="0.8" fill="#2a58b8" fill-opacity="0.5"/>
<circle cx="220.5" cy="714.2" r="0.8" fill="#2a58b8" fill-opacity="0.5"/>
<circle cx="270.4" cy="746.7" r="0.8" fill="#2a58b8" fill-opacity="0.5"/>
<circle cx="272.7" cy="727.5" r="0.8" fill="#2a58b8" fill-opacity="0.5"/>
<circle cx="253.8" cy="721.8" r="0.8" fill="#2a58b8" fill-opacity="0.5"/>
<circle cx="248.8" cy="727.7" r="0.8" fill="#2a58b8" fill-opacity="0.5"/>
<circle cx="261.3" cy="728.8" r="0.8" fill="#2a58b8" fill-opacity="0.5"/>
<circle cx="235.1" cy="750.2" r="0.8" fill="#2a58b8" fill-opacity="0.5"/>
<circle cx="219.2" cy="760.0" r="0.8" fill="#2a58b8" fill-opacity="0.5"/>
<circle cx="253.7" cy="724.4" r="0.8" fill="#2a58b8" fill-opacity="0.5"/>
<circle cx="221.7" cy="741.8" r="0.8" fill="#2a58b8" fill-opacity="0.5"/>
<circle cx="254.4" cy="755.0" r="0.8" fill="#2a58b8" fill-opacity="0.5"/>
<circle cx="243.5" cy="735.8" r="0.8" fill="#2a58b8" fill-opacity="0.5"/>
<circle cx="287.2" cy="727.2" r="0.8" fill="#2a58b8" fill-opacity="0.5"/>
<circle cx="294.6" cy="765.7" r="0.8" fill="#2a58b8" fill-opacity="0.5"/>
<circle cx="295.4" cy="768.9" r="0.8" fill="#2a58b8" fill-opacity="0.5"/>
<circle cx="233.7" cy="760.9" r="0.8" fill="#2a58b8" fill-opacity="0.5"/>
<circle cx="263.5" cy="722.9" r="0.8" fill="#2a58b8" fill-opacity="0.5"/>
<circle cx="296.0" cy="750.5" r="0.8" fill="#2a58b8" fill-opacity="0.5"/>
<circle cx="280.2" cy="744.9" r="0.8" fill="#2a58b8" fill-opacity="0.5"/>
<circle cx="218.7" cy="763.9" r="0.8" fill="#2a58b8" fill-opacity="0.5"/>
<circle cx="226.8" cy="726.3" r="0.8" fill="#2a58b8" fill-opacity="0.5"/>
<circle cx="263.9" cy="722.3" r="0.8" fill="#2a58b8" fill-opacity="0.5"/>
<circle cx="250.9" cy="754.6" r="0.8" fill="#2a58b8" fill-opacity="0.5"/>
<circle cx="220.1" cy="751.3" r="0.8" fill="#2a58b8" fill-opacity="0.5"/>
<circle cx="220.8" cy="739.8" r="0.8" fill="#2a58b8" fill-opacity="0.5"/>
<circle cx="266.7" cy="753.0" r="0.8" fill="#2a58b8" fill-opacity="0.5"/>
<circle cx="215.6" cy="722.1" r="0.8" fill="#2a58b8" fill-opacity="0.5"/>
<circle cx="292.8" cy="734.5" r="0.8" fill="#2a58b8" fill-opacity="0.5"/>
<circle cx="247.8" cy="733.5" r="0.8" fill="#2a58b8" fill-opacity="0.5"/>
<circle cx="270.6" cy="756.3" r="0.8" fill="#2a58b8" fill-opacity="0.5"/>
<circle cx="266.7" cy="735.2" r="0.8" fill="#2a58b8" fill-opacity="0.5"/>
<circle cx="260.0" cy="742.3" r="0.8" fill="#2a58b8" fill-opacity="0.5"/>
<circle cx="227.8" cy="769.3" r="0.8" fill="#2a58b8" fill-opacity="0.5"/>
<circle cx="293.2" cy="758.6" r="0.8" fill="#2a58b8" fill-opacity="0.5"/>
<circle cx="295.6" cy="739.2" r="0.8" fill="#2a58b8" fill-opacity="0.5"/>
<circle cx="282.7" cy="725.2" r="0.8" fill="#2a58b8" fill-opacity="0.5"/>
<circle cx="274.5" cy="754.7" r="0.8" fill="#2a58b8" fill-opacity="0.5"/>
<circle cx="291.0" cy="762.0" r="0.8" fill="#2a58b8" fill-opacity="0.5"/>
<circle cx="286.0" cy="726.8" r="0.8" fill="#2a58b8" fill-opacity="0.5"/>
<circle cx="278.3" cy="739.8" r="0.8" fill="#2a58b8" fill-opacity="0.5"/>
<circle cx="238.3" cy="733.1" r="0.8" fill="#2a58b8" fill-opacity="0.5"/>
<circle cx="279.3" cy="762.6" r="0.8" fill="#2a58b8" fill-opacity="0.5"/>
<circle cx="283.1" cy="751.8" r="0.8" fill="#2a58b8" fill-opacity="0.5"/>
<circle cx="226.3" cy="719.9" r="0.8" fill="#2a58b8" fill-opacity="0.5"/>
<circle cx="259.8" cy="723.4" r="0.8" fill="#2a58b8" fill-opacity="0.5"/>
<circle cx="240.3" cy="716.6" r="0.8" fill="#2a58b8" fill-opacity="0.5"/>
<circle cx="225.0" cy="754.8" r="0.8" fill="#2a58b8" fill-opacity="0.5"/>
<circle cx="230.8" cy="762.9" r="0.8" fill="#2a58b8" fill-opacity="0.5"/>
<circle cx="239.7" cy="763.0" r="0.8" fill="#2a58b8" fill-opacity="0.5"/>
<circle cx="237.5" cy="726.8" r="0.8" fill="#2a58b8" fill-opacity="0.5"/>
<circle cx="245.2" cy="711.0" r="0.8" fill="#2a58b8" fill-opacity="0.5"/>
<circle cx="248.7" cy="733.8" r="0.8" fill="#2a58b8" fill-opacity="0.5"/>
<circle cx="213.1" cy="763.8" r="0.8" fill="#2a58b8" fill-opacity="0.5"/>
<circle cx="243.6" cy="710.2" r="0.8" fill="#2a58b8" fill-opacity="0.5"/>
<circle cx="292.9" cy="724.4" r="0.8" fill="#2a58b8" fill-opacity="0.5"/>
<circle cx="233.3" cy="711.7" r="0.8" fill="#2a58b8" fill-opacity="0.5"/>
<circle cx="220.4" cy="754.3" r="0.8" fill="#2a58b8" fill-opacity="0.5"/>
<circle cx="261.0" cy="741.6" r="0.8" fill="#2a58b8" fill-opacity="0.5"/>
<circle cx="232.7" cy="728.0" r="0.8" fill="#2a58b8" fill-opacity="0.5"/>
<circle cx="293.7" cy="733.4" r="0.8" fill="#2a58b8" fill-opacity="0.5"/>
<circle cx="295.3" cy="765.4" r="0.8" fill="#2a58b8" fill-opacity="0.5"/>
<circle cx="222.5" cy="763.0" r="0.8" fill="#2a58b8" fill-opacity="0.5"/>
<circle cx="213.8" cy="754.4" r="0.8" fill="#2a58b8" fill-opacity="0.5"/>
<circle cx="280.2" cy="753.5" r="0.8" fill="#2a58b8" fill-opacity="0.5"/>
<circle cx="258.3" cy="760.8" r="0.8" fill="#2a58b8" fill-opacity="0.5"/>
<circle cx="225.0" cy="743.8" r="0.8" fill="#2a58b8" fill-opacity="0.5"/>
<circle cx="234.4" cy="735.0" r="0.8" fill="#2a58b8" fill-opacity="0.5"/>
<circle cx="228.1" cy="754.3" r="0.8" fill="#2a58b8" fill-opacity="0.5"/>
<circle cx="260.3" cy="758.7" r="0.8" fill="#2a58b8" fill-opacity="0.5"/>
<circle cx="264.9" cy="747.5" r="0.8" fill="#2a58b8" fill-opacity="0.5"/>
<circle cx="289.6" cy="760.7" r="0.8" fill="#2a58b8" fill-opacity="0.5"/>
<circle cx="259.7" cy="730.5" r="0.8" fill="#2a58b8" fill-opacity="0.5"/>
<circle cx="290.1" cy="733.3" r="0.8" fill="#2a58b8" fill-opacity="0.5"/>
<circle cx="220.6" cy="730.9" r="0.8" fill="#2a58b8" fill-opacity="0.5"/>
<circle cx="271.5" cy="768.1" r="0.8" fill="#2a58b8" fill-opacity="0.5"/>
</g>
<g clip-path="url(#cg10)" filter="url(#blur3)">
<line x1="235.2" y1="726.6" x2="232.2" y2="716.8" stroke="#48d080" stroke-width="1.0" stroke-opacity="0.45" stroke-linecap="round"/>
<line x1="258.3" y1="730.0" x2="252.3" y2="723.3" stroke="#48d080" stroke-width="1.2" stroke-opacity="0.39" stroke-linecap="round"/>
<line x1="236.3" y1="712.1" x2="233.0" y2="708.3" stroke="#48d080" stroke-width="1.0" stroke-opacity="0.41" stroke-linecap="round"/>
<line x1="298.9" y1="728.0" x2="293.5" y2="719.2" stroke="#48d080" stroke-width="1.1" stroke-opacity="0.36" stroke-linecap="round"/>
<line x1="270.5" y1="742.3" x2="265.4" y2="736.7" stroke="#48d080" stroke-width="0.6" stroke-opacity="0.46" stroke-linecap="round"/>
<line x1="214.9" y1="767.7" x2="209.1" y2="758.7" stroke="#48d080" stroke-width="1.2" stroke-opacity="0.49" stroke-linecap="round"/>
<line x1="257.4" y1="758.7" x2="253.8" y2="752.5" stroke="#48d080" stroke-width="1.1" stroke-opacity="0.47" stroke-linecap="round"/>
<line x1="241.1" y1="764.6" x2="239.6" y2="759.2" stroke="#48d080" stroke-width="0.9" stroke-opacity="0.31" stroke-linecap="round"/>
<line x1="263.3" y1="749.0" x2="257.6" y2="739.9" stroke="#48d080" stroke-width="1.2" stroke-opacity="0.61" stroke-linecap="round"/>
<line x1="270.7" y1="724.1" x2="268.8" y2="720.4" stroke="#48d080" stroke-width="0.9" stroke-opacity="0.39" stroke-linecap="round"/>
<line x1="249.7" y1="740.1" x2="246.3" y2="734.0" stroke="#48d080" stroke-width="1.0" stroke-opacity="0.44" stroke-linecap="round"/>
<line x1="285.2" y1="761.7" x2="282.1" y2="753.5" stroke="#48d080" stroke-width="0.7" stroke-opacity="0.50" stroke-linecap="round"/>
<line x1="297.0" y1="712.2" x2="295.4" y2="708.2" stroke="#48d080" stroke-width="1.3" stroke-opacity="0.52" stroke-linecap="round"/>
<line x1="247.5" y1="777.6" x2="243.7" y2="767.2" stroke="#48d080" stroke-width="0.8" stroke-opacity="0.49" stroke-linecap="round"/>
<line x1="242.0" y1="755.1" x2="238.6" y2="746.9" stroke="#48d080" stroke-width="0.9" stroke-opacity="0.48" stroke-linecap="round"/>
<line x1="281.9" y1="735.9" x2="279.3" y2="727.8" stroke="#48d080" stroke-width="1.4" stroke-opacity="0.32" stroke-linecap="round"/>
<line x1="228.5" y1="752.0" x2="223.9" y2="741.2" stroke="#48d080" stroke-width="1.1" stroke-opacity="0.46" stroke-linecap="round"/>
<line x1="237.8" y1="731.1" x2="233.1" y2="720.5" stroke="#48d080" stroke-width="0.6" stroke-opacity="0.41" stroke-linecap="round"/>
<line x1="260.6" y1="739.1" x2="259.0" y2="735.2" stroke="#48d080" stroke-width="1.1" stroke-opacity="0.56" stroke-linecap="round"/>
<line x1="258.7" y1="761.5" x2="252.8" y2="753.9" stroke="#48d080" stroke-width="1.0" stroke-opacity="0.50" stroke-linecap="round"/>
<line x1="241.7" y1="766.1" x2="238.9" y2="756.3" stroke="#48d080" stroke-width="1.4" stroke-opacity="0.39" stroke-linecap="round"/>
<line x1="234.7" y1="743.9" x2="228.8" y2="735.3" stroke="#48d080" stroke-width="0.7" stroke-opacity="0.48" stroke-linecap="round"/>
<line x1="264.3" y1="712.4" x2="260.0" y2="708.0" stroke="#48d080" stroke-width="1.0" stroke-opacity="0.60" stroke-linecap="round"/>
<line x1="279.0" y1="772.3" x2="274.4" y2="765.3" stroke="#48d080" stroke-width="1.3" stroke-opacity="0.33" stroke-linecap="round"/>
<line x1="249.9" y1="752.3" x2="245.7" y2="747.5" stroke="#48d080" stroke-width="1.2" stroke-opacity="0.49" stroke-linecap="round"/>
<line x1="284.9" y1="764.5" x2="282.3" y2="760.0" stroke="#48d080" stroke-width="1.3" stroke-opacity="0.56" stroke-linecap="round"/>
<line x1="266.3" y1="775.1" x2="264.2" y2="769.7" stroke="#48d080" stroke-width="0.6" stroke-opacity="0.58" stroke-linecap="round"/>
<line x1="260.7" y1="739.3" x2="256.9" y2="729.8" stroke="#48d080" stroke-width="1.1" stroke-opacity="0.57" stroke-linecap="round"/>
<line x1="276.2" y1="745.2" x2="272.3" y2="734.5" stroke="#48d080" stroke-width="0.9" stroke-opacity="0.52" stroke-linecap="round"/>
<line x1="237.8" y1="714.1" x2="234.9" y2="708.7" stroke="#48d080" stroke-width="0.8" stroke-opacity="0.48" stroke-linecap="round"/>
<line x1="284.7" y1="769.1" x2="282.9" y2="763.5" stroke="#48d080" stroke-width="1.2" stroke-opacity="0.52" stroke-linecap="round"/>
<line x1="283.8" y1="764.5" x2="281.3" y2="758.5" stroke="#48d080" stroke-width="0.7" stroke-opacity="0.40" stroke-linecap="round"/>
<line x1="258.5" y1="725.1" x2="256.6" y2="720.2" stroke="#48d080" stroke-width="0.7" stroke-opacity="0.42" stroke-linecap="round"/>
<line x1="267.3" y1="738.1" x2="260.5" y2="730.8" stroke="#48d080" stroke-width="0.7" stroke-opacity="0.52" stroke-linecap="round"/>
<line x1="271.2" y1="752.6" x2="266.6" y2="742.7" stroke="#48d080" stroke-width="0.9" stroke-opacity="0.45" stroke-linecap="round"/>
<line x1="277.6" y1="748.4" x2="271.3" y2="740.2" stroke="#48d080" stroke-width="1.2" stroke-opacity="0.55" stroke-linecap="round"/>
<line x1="221.9" y1="738.8" x2="217.2" y2="733.5" stroke="#48d080" stroke-width="0.8" stroke-opacity="0.40" stroke-linecap="round"/>
<line x1="254.8" y1="732.2" x2="251.2" y2="727.1" stroke="#48d080" stroke-width="1.3" stroke-opacity="0.51" stroke-linecap="round"/>
<line x1="233.8" y1="748.8" x2="230.3" y2="737.8" stroke="#48d080" stroke-width="1.0" stroke-opacity="0.49" stroke-linecap="round"/>
<line x1="266.9" y1="733.4" x2="264.0" y2="729.6" stroke="#48d080" stroke-width="1.0" stroke-opacity="0.55" stroke-linecap="round"/>
<line x1="268.5" y1="760.0" x2="266.5" y2="752.4" stroke="#48d080" stroke-width="0.9" stroke-opacity="0.57" stroke-linecap="round"/>
<line x1="274.3" y1="734.5" x2="268.3" y2="727.7" stroke="#48d080" stroke-width="1.2" stroke-opacity="0.60" stroke-linecap="round"/>
<line x1="245.2" y1="731.9" x2="242.1" y2="726.4" stroke="#48d080" stroke-width="1.0" stroke-opacity="0.46" stroke-linecap="round"/>
<line x1="297.4" y1="725.9" x2="295.0" y2="718.4" stroke="#48d080" stroke-width="1.4" stroke-opacity="0.35" stroke-linecap="round"/>
<line x1="283.9" y1="733.3" x2="281.5" y2="726.4" stroke="#48d080" stroke-width="1.4" stroke-opacity="0.32" stroke-linecap="round"/>
<line x1="281.3" y1="720.3" x2="275.4" y2="711.5" stroke="#48d080" stroke-width="0.8" stroke-opacity="0.54" stroke-linecap="round"/>
<line x1="234.4" y1="748.7" x2="227.9" y2="740.7" stroke="#48d080" stroke-width="1.2" stroke-opacity="0.34" stroke-linecap="round"/>
<line x1="272.1" y1="742.7" x2="268.0" y2="736.6" stroke="#48d080" stroke-width="1.1" stroke-opacity="0.59" stroke-linecap="round"/>
<line x1="285.8" y1="735.3" x2="283.0" y2="731.2" stroke="#48d080" stroke-width="0.7" stroke-opacity="0.47" stroke-linecap="round"/>
<line x1="233.6" y1="735.7" x2="231.7" y2="728.6" stroke="#48d080" stroke-width="0.9" stroke-opacity="0.44" stroke-linecap="round"/>
<line x1="281.4" y1="776.1" x2="277.6" y2="768.7" stroke="#48d080" stroke-width="0.9" stroke-opacity="0.39" stroke-linecap="round"/>
<line x1="246.6" y1="764.3" x2="240.4" y2="754.2" stroke="#48d080" stroke-width="1.1" stroke-opacity="0.37" stroke-linecap="round"/>
<line x1="269.6" y1="748.8" x2="263.8" y2="740.4" stroke="#48d080" stroke-width="1.3" stroke-opacity="0.38" stroke-linecap="round"/>
<line x1="260.7" y1="727.1" x2="256.7" y2="719.9" stroke="#48d080" stroke-width="0.6" stroke-opacity="0.33" stroke-linecap="round"/>
<line x1="240.0" y1="723.7" x2="233.8" y2="714.3" stroke="#48d080" stroke-width="1.3" stroke-opacity="0.40" stroke-linecap="round"/>
</g>
<rect x="212.00" y="710.20" width="84.20" height="62.20" fill="url(#vg10)"/>
<rect x="288.60" y="769.20" width="5.20" height="1.50" fill="#fff" stroke="none" stroke-width="0"/>
<text x="307.00" y="626.00" font-size="15" text-anchor="start" fill="#111111" stroke="#111111" stroke-width="0.3">I</text>
<line x1="358.70" y1="687.00" x2="358.70" y2="690.60" stroke="#111111" stroke-width="1.0"/>
<line x1="357.20" y1="687.50" x2="360.20" y2="687.50" stroke="#111111" stroke-width="1.0"/>
<rect x="353.55" y="690.15" width="10.30" height="72.25" fill="#fff" stroke="#111111" stroke-width="1.1"/>
<text x="358.70" y="683.60" font-size="9.5" text-anchor="middle" fill="#111111" stroke="#111111" stroke-width="0.3">b</text>
<line x1="374.90" y1="721.60" x2="374.90" y2="724.80" stroke="#111111" stroke-width="1.0"/>
<line x1="373.40" y1="722.10" x2="376.40" y2="722.10" stroke="#111111" stroke-width="1.0"/>
<rect x="369.75" y="724.35" width="10.30" height="38.05" fill="#0ea64d" stroke="#111111" stroke-width="1.1"/>
<text x="374.90" y="718.60" font-size="9.5" text-anchor="middle" fill="#111111" stroke="#111111" stroke-width="0.3">d</text>
<line x1="391.00" y1="654.60" x2="391.00" y2="659.20" stroke="#111111" stroke-width="1.0"/>
<line x1="389.50" y1="655.10" x2="392.50" y2="655.10" stroke="#111111" stroke-width="1.0"/>
<rect x="385.85" y="658.75" width="10.30" height="103.65" fill="#fe0000" stroke="#111111" stroke-width="1.1"/>
<text x="391.00" y="650.40" font-size="9.5" text-anchor="middle" fill="#111111" stroke="#111111" stroke-width="0.3">a</text>
<line x1="407.30" y1="707.00" x2="407.30" y2="709.00" stroke="#111111" stroke-width="1.0"/>
<line x1="405.80" y1="707.50" x2="408.80" y2="707.50" stroke="#111111" stroke-width="1.0"/>
<rect x="402.15" y="708.55" width="10.30" height="53.85" fill="#0ea64d" stroke="#111111" stroke-width="1.1"/>
<text x="407.30" y="702.40" font-size="9.5" text-anchor="middle" fill="#111111" stroke="#111111" stroke-width="0.3">c</text>
<rect x="344.20" y="632.00" width="77.40" height="130.40" fill="none" stroke="#111111" stroke-width="1.2"/>
<line x1="344.20" y1="726.10" x2="347.20" y2="726.10" stroke="#111111" stroke-width="1.0"/>
<text x="341.40" y="729.70" font-size="10" text-anchor="end" fill="#111111" stroke="#111111" stroke-width="0.3">0.5</text>
<line x1="344.20" y1="689.80" x2="347.20" y2="689.80" stroke="#111111" stroke-width="1.0"/>
<text x="341.40" y="693.40" font-size="10" text-anchor="end" fill="#111111" stroke="#111111" stroke-width="0.3">1.0</text>
<line x1="344.20" y1="653.50" x2="347.20" y2="653.50" stroke="#111111" stroke-width="1.0"/>
<text x="341.40" y="657.10" font-size="10" text-anchor="end" fill="#111111" stroke="#111111" stroke-width="0.3">1.5</text>
<text x="333.00" y="766.00" font-size="10" text-anchor="end" fill="#111111" stroke="#111111" stroke-width="0.3">0</text>
<text x="379.50" y="626.00" font-size="9.5" text-anchor="middle" fill="#111111" stroke="#111111" stroke-width="0.3">Differentiation index</text>
<text x="341.60" y="775.00" font-size="10" text-anchor="end" fill="#111111" stroke="#111111" stroke-width="0.3">ATRA</text>
<text x="358.70" y="778.10" font-size="17" text-anchor="middle" fill="#111111" stroke="#111111" stroke-width="0.4">−</text>
<text x="374.90" y="778.10" font-size="17" text-anchor="middle" fill="#111111" stroke="#111111" stroke-width="0.4">−</text>
<text x="391.00" y="778.10" font-size="17" text-anchor="middle" fill="#111111" stroke="#111111" stroke-width="0.4">+</text>
<text x="407.30" y="778.10" font-size="17" text-anchor="middle" fill="#111111" stroke="#111111" stroke-width="0.4">+</text>
<text x="341.60" y="787.60" font-size="10" text-anchor="end" fill="#111111" stroke="#111111" stroke-width="0.3">siControl</text>
<text x="358.70" y="790.70" font-size="17" text-anchor="middle" fill="#111111" stroke="#111111" stroke-width="0.4">+</text>
<text x="374.90" y="790.70" font-size="17" text-anchor="middle" fill="#111111" stroke="#111111" stroke-width="0.4">−</text>
<text x="391.00" y="790.70" font-size="17" text-anchor="middle" fill="#111111" stroke="#111111" stroke-width="0.4">+</text>
<text x="407.30" y="790.70" font-size="17" text-anchor="middle" fill="#111111" stroke="#111111" stroke-width="0.4">−</text>
<text x="341.60" y="800.00" font-size="10" text-anchor="end" fill="#111111" stroke="#111111" stroke-width="0.3">siLGR6</text>
<text x="358.70" y="803.10" font-size="17" text-anchor="middle" fill="#111111" stroke="#111111" stroke-width="0.4">−</text>
<text x="374.90" y="803.10" font-size="17" text-anchor="middle" fill="#111111" stroke="#111111" stroke-width="0.4">+</text>
<text x="391.00" y="803.10" font-size="17" text-anchor="middle" fill="#111111" stroke="#111111" stroke-width="0.4">−</text>
<text x="407.30" y="803.10" font-size="17" text-anchor="middle" fill="#111111" stroke="#111111" stroke-width="0.4">+</text>
<text x="313.40" y="696.00" font-size="9.5" text-anchor="middle" fill="#111111" stroke="#111111" stroke-width="0.3" transform="rotate(-90 313.40 696.00)">Differentiation index</text>
<text x="324.40" y="696.00" font-size="9.5" text-anchor="middle" fill="#111111" stroke="#111111" stroke-width="0.3" transform="rotate(-90 324.40 696.00)">(Relative value)</text>
<line x1="476.55" y1="687.00" x2="476.55" y2="690.60" stroke="#111111" stroke-width="1.0"/>
<line x1="475.05" y1="687.50" x2="478.05" y2="687.50" stroke="#111111" stroke-width="1.0"/>
<rect x="471.15" y="690.15" width="10.80" height="72.25" fill="#fff" stroke="#111111" stroke-width="1.1"/>
<text x="476.55" y="683.60" font-size="9.5" text-anchor="middle" fill="#111111" stroke="#111111" stroke-width="0.3">b</text>
<line x1="493.35" y1="721.60" x2="493.35" y2="724.80" stroke="#111111" stroke-width="1.0"/>
<line x1="491.85" y1="722.10" x2="494.85" y2="722.10" stroke="#111111" stroke-width="1.0"/>
<rect x="487.95" y="724.35" width="10.80" height="38.05" fill="#0ea64d" stroke="#111111" stroke-width="1.1"/>
<text x="493.35" y="718.60" font-size="9.5" text-anchor="middle" fill="#111111" stroke="#111111" stroke-width="0.3">d</text>
<line x1="509.85" y1="654.60" x2="509.85" y2="659.20" stroke="#111111" stroke-width="1.0"/>
<line x1="508.35" y1="655.10" x2="511.35" y2="655.10" stroke="#111111" stroke-width="1.0"/>
<rect x="504.45" y="658.75" width="10.80" height="103.65" fill="#fe0000" stroke="#111111" stroke-width="1.1"/>
<text x="509.85" y="650.40" font-size="9.5" text-anchor="middle" fill="#111111" stroke="#111111" stroke-width="0.3">a</text>
<line x1="525.65" y1="707.00" x2="525.65" y2="709.00" stroke="#111111" stroke-width="1.0"/>
<line x1="524.15" y1="707.50" x2="527.15" y2="707.50" stroke="#111111" stroke-width="1.0"/>
<rect x="520.25" y="708.55" width="10.80" height="53.85" fill="#0ea64d" stroke="#111111" stroke-width="1.1"/>
<text x="525.65" y="702.40" font-size="9.5" text-anchor="middle" fill="#111111" stroke="#111111" stroke-width="0.3">c</text>
<rect x="462.60" y="632.00" width="76.80" height="130.40" fill="none" stroke="#111111" stroke-width="1.2"/>
<line x1="462.60" y1="726.10" x2="465.60" y2="726.10" stroke="#111111" stroke-width="1.0"/>
<text x="460.00" y="729.70" font-size="10" text-anchor="end" fill="#111111" stroke="#111111" stroke-width="0.3">0.5</text>
<line x1="462.60" y1="689.80" x2="465.60" y2="689.80" stroke="#111111" stroke-width="1.0"/>
<text x="460.00" y="693.40" font-size="10" text-anchor="end" fill="#111111" stroke="#111111" stroke-width="0.3">1.0</text>
<line x1="462.60" y1="653.50" x2="465.60" y2="653.50" stroke="#111111" stroke-width="1.0"/>
<text x="460.00" y="657.10" font-size="10" text-anchor="end" fill="#111111" stroke="#111111" stroke-width="0.3">1.5</text>
<text x="451.60" y="766.00" font-size="10" text-anchor="end" fill="#111111" stroke="#111111" stroke-width="0.3">0</text>
<text x="502.80" y="626.00" font-size="9.5" text-anchor="middle" fill="#111111" stroke="#111111" stroke-width="0.3">Fusion index</text>
<text x="460.20" y="775.00" font-size="10" text-anchor="end" fill="#111111" stroke="#111111" stroke-width="0.3">ATRA</text>
<text x="476.55" y="778.10" font-size="17" text-anchor="middle" fill="#111111" stroke="#111111" stroke-width="0.4">−</text>
<text x="493.35" y="778.10" font-size="17" text-anchor="middle" fill="#111111" stroke="#111111" stroke-width="0.4">−</text>
<text x="509.85" y="778.10" font-size="17" text-anchor="middle" fill="#111111" stroke="#111111" stroke-width="0.4">+</text>
<text x="525.65" y="778.10" font-size="17" text-anchor="middle" fill="#111111" stroke="#111111" stroke-width="0.4">+</text>
<text x="460.20" y="787.60" font-size="10" text-anchor="end" fill="#111111" stroke="#111111" stroke-width="0.3">siControl</text>
<text x="476.55" y="790.70" font-size="17" text-anchor="middle" fill="#111111" stroke="#111111" stroke-width="0.4">+</text>
<text x="493.35" y="790.70" font-size="17" text-anchor="middle" fill="#111111" stroke="#111111" stroke-width="0.4">−</text>
<text x="509.85" y="790.70" font-size="17" text-anchor="middle" fill="#111111" stroke="#111111" stroke-width="0.4">+</text>
<text x="525.65" y="790.70" font-size="17" text-anchor="middle" fill="#111111" stroke="#111111" stroke-width="0.4">−</text>
<text x="460.20" y="800.00" font-size="10" text-anchor="end" fill="#111111" stroke="#111111" stroke-width="0.3">siLGR6</text>
<text x="476.55" y="803.10" font-size="17" text-anchor="middle" fill="#111111" stroke="#111111" stroke-width="0.4">−</text>
<text x="493.35" y="803.10" font-size="17" text-anchor="middle" fill="#111111" stroke="#111111" stroke-width="0.4">+</text>
<text x="509.85" y="803.10" font-size="17" text-anchor="middle" fill="#111111" stroke="#111111" stroke-width="0.4">−</text>
<text x="525.65" y="803.10" font-size="17" text-anchor="middle" fill="#111111" stroke="#111111" stroke-width="0.4">+</text>
<text x="442.40" y="697.00" font-size="9.5" text-anchor="middle" fill="#111111" stroke="#111111" stroke-width="0.3" transform="rotate(-90 442.40 697.00)">Fusion index (Relative value)</text>
</svg>
</body>
</html>
